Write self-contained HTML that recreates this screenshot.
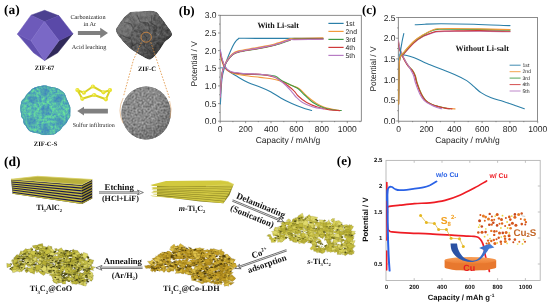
<!DOCTYPE html>
<html lang="en"><head><meta charset="utf-8"><title>Figure</title>
<style>html,body{margin:0;padding:0;background:#fff;}body{width:550px;height:306px;overflow:hidden;position:relative;}svg{position:absolute;left:0;top:0;display:block;}text{text-rendering:geometricPrecision;}</style>
</head><body>
<svg width="550" height="306" viewBox="0 0 550 306">
<defs>
<filter id="rock" x="0" y="0" width="100%" height="100%" color-interpolation-filters="sRGB">
<feTurbulence type="fractalNoise" baseFrequency="0.3" numOctaves="3" seed="4" result="n"/>
<feColorMatrix in="n" type="matrix" values="1 0 0 0 0  1 0 0 0 0  1 0 0 0 0  0 0 0 0 1" result="g"/>
<feComposite in="g" in2="SourceGraphic" operator="arithmetic" k1="0" k2="0.3" k3="1.0" k4="-0.15" result="bl"/>
<feComposite in="bl" in2="SourceGraphic" operator="in"/>
</filter>
<filter id="sem" x="0" y="0" width="100%" height="100%" color-interpolation-filters="sRGB">
<feTurbulence type="fractalNoise" baseFrequency="0.5" numOctaves="3" seed="9" result="n"/>
<feColorMatrix in="n" type="matrix" values="0.5 0 0 0 0.29  0.5 0 0 0 0.29  0.5 0 0 0 0.29  0 0 0 0 1" result="g"/>
<feComposite in="g" in2="SourceGraphic" operator="in"/>
</filter>
<filter id="ball" x="0" y="0" width="100%" height="100%" color-interpolation-filters="sRGB">
<feTurbulence type="fractalNoise" baseFrequency="0.38" numOctaves="3" seed="12" result="n"/>
<feColorMatrix in="n" type="matrix" values="0.25 0 0 0 0.22  0.55 0 0 0 0.46  -0.25 0 0 0 0.80  0 0 0 0 1" result="g"/>
<feComposite in="g" in2="SourceGraphic" operator="in"/>
</filter>
<filter id="bl1" x="-30%" y="-30%" width="160%" height="160%"><feGaussianBlur stdDeviation="1"/></filter>
<clipPath id="cpB"><rect x="220.1" y="15.3" width="141.2" height="105.9"/></clipPath>
<clipPath id="cpC"><rect x="398.3" y="17.3" width="139.7" height="103.7"/></clipPath>
<clipPath id="cpE"><rect x="386" y="160.4" width="154" height="120.1"/></clipPath>
<radialGradient id="ballsh" cx="0.45" cy="0.4" r="0.6"><stop offset="0.6" stop-color="#000" stop-opacity="0"/><stop offset="1" stop-color="#103050" stop-opacity="0.35"/></radialGradient>
<linearGradient id="cuTop" x1="0" y1="0" x2="0" y2="1"><stop offset="0" stop-color="#f7a05a"/><stop offset="1" stop-color="#ee7f33"/></linearGradient>
</defs>
<rect width="550" height="306" fill="#fff"/>
<text x="4.0" y="14.3" font-family='"Liberation Serif", serif' font-size="13.4" font-weight="bold" text-anchor="start" fill="#000" >(a)</text>
<polygon points="59.0,40.7 73.0,33.7 57.7,52.8 44.6,60.5" fill="#30295a" stroke="#30295a" stroke-width="0.5" stroke-linejoin="round"/>
<polygon points="17.4,34.1 31.0,40.7 44.6,60.5 33.5,52.8" fill="#604fae" stroke="#604fae" stroke-width="0.5" stroke-linejoin="round"/>
<polygon points="31.0,15.2 44.6,10.3 59.0,15.8 44.4,21.5" fill="#4c4190" stroke="#4c4190" stroke-width="0.5" stroke-linejoin="round"/>
<polygon points="44.4,21.5 59.0,15.8 73.0,33.7 59.0,40.7" fill="#5a49a8" stroke="#5a49a8" stroke-width="0.5" stroke-linejoin="round"/>
<polygon points="31.0,15.2 44.4,21.5 31.0,40.7 17.4,34.1" fill="#6d5aba" stroke="#6d5aba" stroke-width="0.5" stroke-linejoin="round"/>
<polygon points="44.4,21.5 59.0,40.7 44.6,60.5 31.0,40.7" fill="#7a68c6" stroke="#7a68c6" stroke-width="0.5" stroke-linejoin="round"/>
<text x="44.6" y="70.3" font-family='"Liberation Serif", serif' font-size="6.5" font-weight="bold" text-anchor="middle" fill="#111" >ZIF-67</text>
<text x="88" y="18.6" font-family='"Liberation Serif", serif' font-size="6.2" font-weight="normal" text-anchor="middle" fill="#222" >Carbonization</text>
<text x="89.8" y="26.2" font-family='"Liberation Serif", serif' font-size="6.2" font-weight="normal" text-anchor="middle" fill="#222" >in Ar</text>
<polygon points="77.9,30.9 100.2,30.9 100.2,27.7 108.0,33.0 100.2,38.3 100.2,35.1 77.9,35.1" fill="#7f7f7f" />
<text x="89" y="48.6" font-family='"Liberation Serif", serif' font-size="6.2" font-weight="normal" text-anchor="middle" fill="#222" >Acid leaching</text>
<linearGradient id="rkg" x1="0" y1="0" x2="1" y2="1"><stop offset="0" stop-color="#787878"/><stop offset="0.45" stop-color="#5c5c5c"/><stop offset="1" stop-color="#3e3e3e"/></linearGradient>
<clipPath id="cpRk"><path d="M130.3,12.0 C132.8,11.8 138.1,11.3 143.0,11.2 C147.9,11.1 151.4,10.1 155.0,11.4 C158.6,12.7 158.6,14.7 161.0,17.5 C163.4,20.3 164.6,22.2 166.8,25.4 C169.0,28.6 171.5,31.1 172.0,33.6 C172.5,36.1 170.9,36.4 169.5,38.0 C168.1,39.6 166.8,39.7 165.0,41.8 C163.2,43.9 162.3,45.9 160.5,48.5 C158.7,51.1 157.5,52.7 155.9,54.6 C154.3,56.5 154.0,57.0 152.5,58.0 C151.0,59.0 150.9,59.9 148.6,59.4 C146.3,58.9 144.3,57.4 141.0,55.5 C137.7,53.6 135.1,52.2 132.1,50.0 C129.1,47.8 128.2,46.7 126.0,44.5 C123.8,42.3 123.1,41.8 121.1,39.1 C119.1,36.4 116.5,33.7 116.0,30.9 C115.5,28.1 117.3,27.2 118.5,25.0 C119.7,22.8 120.5,21.8 122.0,19.9 C123.5,18.0 124.3,17.1 126.0,15.5 C127.7,13.9 129.4,12.7 130.3,12.0 Z"/></clipPath>
<g filter="url(#rock)">
<path d="M130.3,12.0 C132.8,11.8 138.1,11.3 143.0,11.2 C147.9,11.1 151.4,10.1 155.0,11.4 C158.6,12.7 158.6,14.7 161.0,17.5 C163.4,20.3 164.6,22.2 166.8,25.4 C169.0,28.6 171.5,31.1 172.0,33.6 C172.5,36.1 170.9,36.4 169.5,38.0 C168.1,39.6 166.8,39.7 165.0,41.8 C163.2,43.9 162.3,45.9 160.5,48.5 C158.7,51.1 157.5,52.7 155.9,54.6 C154.3,56.5 154.0,57.0 152.5,58.0 C151.0,59.0 150.9,59.9 148.6,59.4 C146.3,58.9 144.3,57.4 141.0,55.5 C137.7,53.6 135.1,52.2 132.1,50.0 C129.1,47.8 128.2,46.7 126.0,44.5 C123.8,42.3 123.1,41.8 121.1,39.1 C119.1,36.4 116.5,33.7 116.0,30.9 C115.5,28.1 117.3,27.2 118.5,25.0 C119.7,22.8 120.5,21.8 122.0,19.9 C123.5,18.0 124.3,17.1 126.0,15.5 C127.7,13.9 129.4,12.7 130.3,12.0 Z" fill="url(#rkg)"/>
</g>
<g clip-path="url(#cpRk)">
<polygon points="130.0,12.0 156.0,11.0 152.0,21.0 136.0,24.0" fill="#8a8a8a" opacity="0.35"/>
<polygon points="116.0,31.0 126.0,16.0 134.0,25.0 128.0,38.0" fill="#909090" opacity="0.3"/>
<polygon points="160.0,40.0 172.0,34.0 156.0,56.0 149.0,60.0 150.0,50.0" fill="#222" opacity="0.3"/>
<path d="M124,22 l7,2 l3,6 l7,1 M137,15 l3,7 l8,1 l2,7 M152,15 l-1,8 l6,4 l-2,8 M163,27 l-3,8 M123,36 l8,3 l2,7 M142,32 l5,6 l-3,8 l6,5 M151,42 l7,-2 M131,47 l6,-4 l5,3" stroke="#2a2a2a" stroke-width="0.7" fill="none" opacity="0.7"/>
<path d="M122,27 l6,-7 M133,29 l6,2 M146,19 l4,5 M139,40 l3,6 M155,32 l4,3 M135,50 l6,3" stroke="#8c8c8c" stroke-width="0.7" fill="none" opacity="0.6"/>
</g>
<ellipse cx="146.2" cy="37.2" rx="5.2" ry="5" fill="none" stroke="#d98a3e" stroke-width="0.8"/>
<path d="M141.4,42.6 L133.4,60 L123.6,96 M150.8,42.2 L169.6,98.5" stroke="#e0903c" stroke-width="0.8" stroke-dasharray="1.6 1.4" fill="none"/>
<rect x="137.5" y="65.5" width="19" height="6.4" fill="#fff"/>
<text x="147" y="71.0" font-family='"Liberation Serif", serif' font-size="6.7" font-weight="bold" text-anchor="middle" fill="#111" >ZIF-C</text>
<ellipse cx="146.1" cy="113" rx="24.7" ry="26.4" fill="#858585"/>
<ellipse cx="146.1" cy="113" rx="24.7" ry="26.4" fill="#fff" filter="url(#sem)"/>
<radialGradient id="semsh" cx="0.35" cy="0.3" r="0.8"><stop offset="0.5" stop-color="#000" stop-opacity="0"/><stop offset="1" stop-color="#000" stop-opacity="0.22"/></radialGradient>
<ellipse cx="146.1" cy="113" rx="24.7" ry="26.4" fill="url(#semsh)"/>
<path d="M123.2,98 A24.7,26.4 0 0 0 123,123" stroke="#d9a066" stroke-width="0.7" fill="none" opacity="0.8"/>
<path d="M169.6,101 A24.7,26.4 0 0 1 170,118" stroke="#d9a066" stroke-width="0.7" fill="none" opacity="0.8"/>
<clipPath id="cpBall"><path d="M70.3,110.4 C70.3,110.9 70.3,112.6 70.2,113.7 C70.2,114.8 70.4,116.0 70.0,117.0 C69.6,118.0 68.6,118.9 68.1,119.8 C67.5,120.8 67.2,121.8 66.6,122.7 C66.1,123.6 65.2,124.4 64.5,125.1 C63.8,125.9 62.9,126.5 62.2,127.3 C61.5,128.1 61.1,129.3 60.4,130.0 C59.6,130.8 58.6,131.2 57.7,131.8 C56.8,132.5 56.0,133.4 55.0,133.9 C54.0,134.3 52.9,134.4 51.8,134.5 C50.7,134.7 49.6,134.8 48.5,134.8 C47.4,134.9 46.4,134.9 45.3,134.9 C44.2,134.9 43.1,135.1 42.1,134.8 C41.0,134.6 40.1,133.9 39.1,133.6 C38.1,133.3 37.0,133.2 35.9,133.0 C34.9,132.8 33.7,132.7 32.6,132.3 C31.6,132.0 30.4,131.6 29.5,131.0 C28.6,130.3 27.9,129.3 27.3,128.4 C26.6,127.5 26.1,126.5 25.5,125.6 C24.9,124.7 23.9,124.0 23.6,122.9 C23.2,121.9 23.6,120.6 23.2,119.5 C22.9,118.5 21.8,117.8 21.4,116.8 C21.0,115.8 21.1,114.7 21.0,113.6 C20.8,112.5 20.6,111.5 20.5,110.4 C20.4,109.3 20.3,108.2 20.4,107.1 C20.5,106.0 20.7,104.9 20.9,103.9 C21.2,102.8 21.3,101.6 21.8,100.7 C22.4,99.7 23.6,99.1 24.3,98.3 C24.9,97.4 25.3,96.4 25.9,95.5 C26.6,94.7 27.2,93.8 28.0,93.1 C28.7,92.3 29.5,91.6 30.3,90.9 C31.1,90.1 31.8,89.1 32.7,88.5 C33.6,87.9 34.7,87.6 35.7,87.3 C36.7,86.9 37.8,86.5 38.8,86.3 C39.9,86.0 41.0,85.9 42.1,85.8 C43.1,85.7 44.2,85.5 45.3,85.6 C46.4,85.7 47.4,86.1 48.5,86.4 C49.5,86.6 50.5,86.9 51.6,87.0 C52.6,87.2 53.7,87.2 54.8,87.5 C55.8,87.7 56.9,88.1 57.9,88.6 C58.9,89.1 59.8,89.8 60.7,90.3 C61.6,90.9 62.7,91.4 63.5,92.2 C64.3,93.0 64.9,94.0 65.3,95.0 C65.8,96.0 66.0,97.2 66.4,98.2 C66.8,99.2 67.4,100.1 67.8,101.1 C68.3,102.0 68.5,103.1 68.9,104.1 C69.3,105.1 70.0,106.1 70.2,107.1 C70.4,108.2 70.3,109.9 70.3,110.4 Z"/></clipPath>
<path d="M70.3,110.4 C70.3,110.9 70.3,112.6 70.2,113.7 C70.2,114.8 70.4,116.0 70.0,117.0 C69.6,118.0 68.6,118.9 68.1,119.8 C67.5,120.8 67.2,121.8 66.6,122.7 C66.1,123.6 65.2,124.4 64.5,125.1 C63.8,125.9 62.9,126.5 62.2,127.3 C61.5,128.1 61.1,129.3 60.4,130.0 C59.6,130.8 58.6,131.2 57.7,131.8 C56.8,132.5 56.0,133.4 55.0,133.9 C54.0,134.3 52.9,134.4 51.8,134.5 C50.7,134.7 49.6,134.8 48.5,134.8 C47.4,134.9 46.4,134.9 45.3,134.9 C44.2,134.9 43.1,135.1 42.1,134.8 C41.0,134.6 40.1,133.9 39.1,133.6 C38.1,133.3 37.0,133.2 35.9,133.0 C34.9,132.8 33.7,132.7 32.6,132.3 C31.6,132.0 30.4,131.6 29.5,131.0 C28.6,130.3 27.9,129.3 27.3,128.4 C26.6,127.5 26.1,126.5 25.5,125.6 C24.9,124.7 23.9,124.0 23.6,122.9 C23.2,121.9 23.6,120.6 23.2,119.5 C22.9,118.5 21.8,117.8 21.4,116.8 C21.0,115.8 21.1,114.7 21.0,113.6 C20.8,112.5 20.6,111.5 20.5,110.4 C20.4,109.3 20.3,108.2 20.4,107.1 C20.5,106.0 20.7,104.9 20.9,103.9 C21.2,102.8 21.3,101.6 21.8,100.7 C22.4,99.7 23.6,99.1 24.3,98.3 C24.9,97.4 25.3,96.4 25.9,95.5 C26.6,94.7 27.2,93.8 28.0,93.1 C28.7,92.3 29.5,91.6 30.3,90.9 C31.1,90.1 31.8,89.1 32.7,88.5 C33.6,87.9 34.7,87.6 35.7,87.3 C36.7,86.9 37.8,86.5 38.8,86.3 C39.9,86.0 41.0,85.9 42.1,85.8 C43.1,85.7 44.2,85.5 45.3,85.6 C46.4,85.7 47.4,86.1 48.5,86.4 C49.5,86.6 50.5,86.9 51.6,87.0 C52.6,87.2 53.7,87.2 54.8,87.5 C55.8,87.7 56.9,88.1 57.9,88.6 C58.9,89.1 59.8,89.8 60.7,90.3 C61.6,90.9 62.7,91.4 63.5,92.2 C64.3,93.0 64.9,94.0 65.3,95.0 C65.8,96.0 66.0,97.2 66.4,98.2 C66.8,99.2 67.4,100.1 67.8,101.1 C68.3,102.0 68.5,103.1 68.9,104.1 C69.3,105.1 70.0,106.1 70.2,107.1 C70.4,108.2 70.3,109.9 70.3,110.4 Z" fill="#4a8fb4"/>
<path d="M70.3,110.4 C70.3,110.9 70.3,112.6 70.2,113.7 C70.2,114.8 70.4,116.0 70.0,117.0 C69.6,118.0 68.6,118.9 68.1,119.8 C67.5,120.8 67.2,121.8 66.6,122.7 C66.1,123.6 65.2,124.4 64.5,125.1 C63.8,125.9 62.9,126.5 62.2,127.3 C61.5,128.1 61.1,129.3 60.4,130.0 C59.6,130.8 58.6,131.2 57.7,131.8 C56.8,132.5 56.0,133.4 55.0,133.9 C54.0,134.3 52.9,134.4 51.8,134.5 C50.7,134.7 49.6,134.8 48.5,134.8 C47.4,134.9 46.4,134.9 45.3,134.9 C44.2,134.9 43.1,135.1 42.1,134.8 C41.0,134.6 40.1,133.9 39.1,133.6 C38.1,133.3 37.0,133.2 35.9,133.0 C34.9,132.8 33.7,132.7 32.6,132.3 C31.6,132.0 30.4,131.6 29.5,131.0 C28.6,130.3 27.9,129.3 27.3,128.4 C26.6,127.5 26.1,126.5 25.5,125.6 C24.9,124.7 23.9,124.0 23.6,122.9 C23.2,121.9 23.6,120.6 23.2,119.5 C22.9,118.5 21.8,117.8 21.4,116.8 C21.0,115.8 21.1,114.7 21.0,113.6 C20.8,112.5 20.6,111.5 20.5,110.4 C20.4,109.3 20.3,108.2 20.4,107.1 C20.5,106.0 20.7,104.9 20.9,103.9 C21.2,102.8 21.3,101.6 21.8,100.7 C22.4,99.7 23.6,99.1 24.3,98.3 C24.9,97.4 25.3,96.4 25.9,95.5 C26.6,94.7 27.2,93.8 28.0,93.1 C28.7,92.3 29.5,91.6 30.3,90.9 C31.1,90.1 31.8,89.1 32.7,88.5 C33.6,87.9 34.7,87.6 35.7,87.3 C36.7,86.9 37.8,86.5 38.8,86.3 C39.9,86.0 41.0,85.9 42.1,85.8 C43.1,85.7 44.2,85.5 45.3,85.6 C46.4,85.7 47.4,86.1 48.5,86.4 C49.5,86.6 50.5,86.9 51.6,87.0 C52.6,87.2 53.7,87.2 54.8,87.5 C55.8,87.7 56.9,88.1 57.9,88.6 C58.9,89.1 59.8,89.8 60.7,90.3 C61.6,90.9 62.7,91.4 63.5,92.2 C64.3,93.0 64.9,94.0 65.3,95.0 C65.8,96.0 66.0,97.2 66.4,98.2 C66.8,99.2 67.4,100.1 67.8,101.1 C68.3,102.0 68.5,103.1 68.9,104.1 C69.3,105.1 70.0,106.1 70.2,107.1 C70.4,108.2 70.3,109.9 70.3,110.4 Z" fill="#fff" filter="url(#ball)"/>
<circle cx="45.3" cy="110.4" r="4.6" fill="#3a74c0" opacity="0.5" filter="url(#bl1)"/>
<circle cx="32.5" cy="99" r="4.6" fill="#3a74c0" opacity="0.5" filter="url(#bl1)"/>
<circle cx="58" cy="99" r="4.6" fill="#3a74c0" opacity="0.5" filter="url(#bl1)"/>
<circle cx="31" cy="121.5" r="4.6" fill="#3a74c0" opacity="0.5" filter="url(#bl1)"/>
<circle cx="59.5" cy="122" r="4.6" fill="#3a74c0" opacity="0.5" filter="url(#bl1)"/>
<circle cx="45.3" cy="129.5" r="4.6" fill="#3a74c0" opacity="0.5" filter="url(#bl1)"/>
<circle cx="45" cy="92" r="4.6" fill="#3a74c0" opacity="0.5" filter="url(#bl1)"/>
<path d="M70.3,110.4 C70.3,110.9 70.3,112.6 70.2,113.7 C70.2,114.8 70.4,116.0 70.0,117.0 C69.6,118.0 68.6,118.9 68.1,119.8 C67.5,120.8 67.2,121.8 66.6,122.7 C66.1,123.6 65.2,124.4 64.5,125.1 C63.8,125.9 62.9,126.5 62.2,127.3 C61.5,128.1 61.1,129.3 60.4,130.0 C59.6,130.8 58.6,131.2 57.7,131.8 C56.8,132.5 56.0,133.4 55.0,133.9 C54.0,134.3 52.9,134.4 51.8,134.5 C50.7,134.7 49.6,134.8 48.5,134.8 C47.4,134.9 46.4,134.9 45.3,134.9 C44.2,134.9 43.1,135.1 42.1,134.8 C41.0,134.6 40.1,133.9 39.1,133.6 C38.1,133.3 37.0,133.2 35.9,133.0 C34.9,132.8 33.7,132.7 32.6,132.3 C31.6,132.0 30.4,131.6 29.5,131.0 C28.6,130.3 27.9,129.3 27.3,128.4 C26.6,127.5 26.1,126.5 25.5,125.6 C24.9,124.7 23.9,124.0 23.6,122.9 C23.2,121.9 23.6,120.6 23.2,119.5 C22.9,118.5 21.8,117.8 21.4,116.8 C21.0,115.8 21.1,114.7 21.0,113.6 C20.8,112.5 20.6,111.5 20.5,110.4 C20.4,109.3 20.3,108.2 20.4,107.1 C20.5,106.0 20.7,104.9 20.9,103.9 C21.2,102.8 21.3,101.6 21.8,100.7 C22.4,99.7 23.6,99.1 24.3,98.3 C24.9,97.4 25.3,96.4 25.9,95.5 C26.6,94.7 27.2,93.8 28.0,93.1 C28.7,92.3 29.5,91.6 30.3,90.9 C31.1,90.1 31.8,89.1 32.7,88.5 C33.6,87.9 34.7,87.6 35.7,87.3 C36.7,86.9 37.8,86.5 38.8,86.3 C39.9,86.0 41.0,85.9 42.1,85.8 C43.1,85.7 44.2,85.5 45.3,85.6 C46.4,85.7 47.4,86.1 48.5,86.4 C49.5,86.6 50.5,86.9 51.6,87.0 C52.6,87.2 53.7,87.2 54.8,87.5 C55.8,87.7 56.9,88.1 57.9,88.6 C58.9,89.1 59.8,89.8 60.7,90.3 C61.6,90.9 62.7,91.4 63.5,92.2 C64.3,93.0 64.9,94.0 65.3,95.0 C65.8,96.0 66.0,97.2 66.4,98.2 C66.8,99.2 67.4,100.1 67.8,101.1 C68.3,102.0 68.5,103.1 68.9,104.1 C69.3,105.1 70.0,106.1 70.2,107.1 C70.4,108.2 70.3,109.9 70.3,110.4 Z" fill="none" stroke="#3f7cb8" stroke-width="2.2" opacity="0.45" clip-path="url(#cpBall)"/>
<text x="45.6" y="145.6" font-family='"Liberation Serif", serif' font-size="6.5" font-weight="bold" text-anchor="middle" fill="#111" >ZIF-C-S</text>
<path d="M77.4,90.1 L83.9,92.7 L92.9,86.5 L103.5,92.3 L110,90.1 L105.9,99.3 L94.2,95 L82.3,98.8 Z" fill="none" stroke="#d8d126" stroke-width="2.0" stroke-linejoin="round"/>
<circle cx="77.4" cy="90.1" r="2.1" fill="#e9e332"/>
<circle cx="76.9" cy="89.6" r="0.7" fill="#f7f48a"/>
<circle cx="83.9" cy="92.7" r="2.1" fill="#e9e332"/>
<circle cx="83.4" cy="92.2" r="0.7" fill="#f7f48a"/>
<circle cx="92.9" cy="86.5" r="2.1" fill="#e9e332"/>
<circle cx="92.4" cy="86.0" r="0.7" fill="#f7f48a"/>
<circle cx="103.5" cy="92.3" r="2.1" fill="#e9e332"/>
<circle cx="103.0" cy="91.8" r="0.7" fill="#f7f48a"/>
<circle cx="110" cy="90.1" r="2.1" fill="#e9e332"/>
<circle cx="109.5" cy="89.6" r="0.7" fill="#f7f48a"/>
<circle cx="105.9" cy="99.3" r="2.1" fill="#e9e332"/>
<circle cx="105.4" cy="98.8" r="0.7" fill="#f7f48a"/>
<circle cx="94.2" cy="95" r="2.1" fill="#e9e332"/>
<circle cx="93.7" cy="94.5" r="0.7" fill="#f7f48a"/>
<circle cx="82.3" cy="98.8" r="2.1" fill="#e9e332"/>
<circle cx="81.8" cy="98.3" r="0.7" fill="#f7f48a"/>
<polygon points="107.9,108.8 84.0,108.8 84.0,106.8 77.2,111.1 84.0,115.4 84.0,113.4 107.9,113.4" fill="#808080" />
<text x="93.8" y="126.8" font-family='"Liberation Serif", serif' font-size="6.0" font-weight="normal" text-anchor="middle" fill="#222" >Sulfur infiltration</text>
<text x="178.8" y="15.0" font-family='"Liberation Serif", serif' font-size="13" font-weight="bold" text-anchor="start" fill="#000" >(b)</text>
<rect x="220.1" y="15.3" width="141.20000000000002" height="105.9" fill="none" stroke="#6e6e6e" stroke-width="0.8"/>
<text x="216.6" y="124.2" font-family='"Liberation Sans", sans-serif' font-size="8.5" font-weight="normal" text-anchor="end" fill="#222" >0.0</text>
<text x="216.6" y="106.55000000000001" font-family='"Liberation Sans", sans-serif' font-size="8.5" font-weight="normal" text-anchor="end" fill="#222" >0.5</text>
<text x="216.6" y="88.9" font-family='"Liberation Sans", sans-serif' font-size="8.5" font-weight="normal" text-anchor="end" fill="#222" >1.0</text>
<text x="216.6" y="71.25" font-family='"Liberation Sans", sans-serif' font-size="8.5" font-weight="normal" text-anchor="end" fill="#222" >1.5</text>
<text x="216.6" y="53.60000000000001" font-family='"Liberation Sans", sans-serif' font-size="8.5" font-weight="normal" text-anchor="end" fill="#222" >2.0</text>
<text x="216.6" y="35.95" font-family='"Liberation Sans", sans-serif' font-size="8.5" font-weight="normal" text-anchor="end" fill="#222" >2.5</text>
<text x="216.6" y="18.30000000000001" font-family='"Liberation Sans", sans-serif' font-size="8.5" font-weight="normal" text-anchor="end" fill="#222" >3.0</text>
<text x="220.2" y="132.2" font-family='"Liberation Sans", sans-serif' font-size="8.5" font-weight="normal" text-anchor="middle" fill="#222" >0</text>
<text x="245.61999999999998" y="132.2" font-family='"Liberation Sans", sans-serif' font-size="8.5" font-weight="normal" text-anchor="middle" fill="#222" >200</text>
<text x="271.03999999999996" y="132.2" font-family='"Liberation Sans", sans-serif' font-size="8.5" font-weight="normal" text-anchor="middle" fill="#222" >400</text>
<text x="296.46" y="132.2" font-family='"Liberation Sans", sans-serif' font-size="8.5" font-weight="normal" text-anchor="middle" fill="#222" >600</text>
<text x="321.88" y="132.2" font-family='"Liberation Sans", sans-serif' font-size="8.5" font-weight="normal" text-anchor="middle" fill="#222" >800</text>
<text x="347.29999999999995" y="132.2" font-family='"Liberation Sans", sans-serif' font-size="8.5" font-weight="normal" text-anchor="middle" fill="#222" >1000</text>
<path d="M220.2,121.2 h-2.2 M220.2,112.4 h-1.2 M220.2,103.6 h-2.2 M220.2,94.7 h-1.2 M220.2,85.9 h-2.2 M220.2,77.1 h-1.2 M220.2,68.2 h-2.2 M220.2,59.4 h-1.2 M220.2,50.6 h-2.2 M220.2,41.8 h-1.2 M220.2,33.0 h-2.2 M220.2,24.1 h-1.2 M220.2,15.3 h-2.2 M220.2,121 v2.2 M232.9,121 v1.2 M245.6,121 v2.2 M258.3,121 v1.2 M271.0,121 v2.2 M283.8,121 v1.2 M296.5,121 v2.2 M309.2,121 v1.2 M321.9,121 v2.2 M334.6,121 v1.2 M347.3,121 v2.2 M360.0,121 v1.2" stroke="#6e6e6e" stroke-width="0.7" fill="none"/>
<text x="288" y="142.5" font-family='"Liberation Sans", sans-serif' font-size="8.5" font-weight="normal" text-anchor="middle" fill="#222" >Capacity / mAh/g</text>
<text x="0" y="0" font-family='"Liberation Sans", sans-serif' font-size="8.4" font-weight="normal" text-anchor="middle" fill="#222" transform="translate(197.4,63.8) rotate(-90)">Potential / V</text>
<text x="278.2" y="27.6" font-family='"Liberation Serif", serif' font-size="8.0" font-weight="bold" text-anchor="middle" fill="#111" >With Li-salt</text>
<g clip-path="url(#cpB)">
<path d="M220.3,50.0 C220.6,51.7 221.2,57.2 222.0,60.0 C222.8,62.8 223.5,64.5 224.8,66.5 C226.1,68.5 227.8,70.2 230.0,72.0 C232.2,73.8 235.0,75.2 238.0,77.0 C241.0,78.8 244.3,80.8 248.0,82.5 C251.7,84.2 256.2,85.5 260.0,87.0 C263.8,88.5 267.1,89.9 270.6,91.8 C274.1,93.7 277.7,96.2 281.2,98.2 C284.7,100.2 288.2,101.9 291.8,103.5 C295.4,105.1 299.2,106.6 302.5,107.8 C305.8,109.0 310.1,110.0 311.6,110.5" fill="none" stroke="#2b7fa8" stroke-width="1.1" stroke-linecap="round" stroke-linejoin="round" />
<path d="M220.3,54.0 C220.4,54.7 220.6,56.5 221.0,58.0 C221.4,59.5 221.9,61.3 222.5,63.0 C223.1,64.7 223.4,66.4 224.8,68.0 C226.2,69.6 227.4,71.2 230.7,72.5 C234.0,73.8 239.5,74.7 244.4,75.5 C249.3,76.3 255.3,76.8 260.0,77.4 C264.7,78.0 269.2,78.4 272.7,79.0 C276.2,79.6 278.0,80.1 281.2,81.2 C284.4,82.3 288.8,84.2 291.8,85.5 C294.8,86.8 296.8,87.0 299.3,88.7 C301.8,90.5 304.1,93.7 306.7,96.0 C309.3,98.3 312.1,100.6 315.2,102.5 C318.2,104.4 320.9,106.2 325.0,107.5 C329.1,108.8 337.2,110.0 339.6,110.5" fill="none" stroke="#f29a3c" stroke-width="1.1" stroke-linecap="round" stroke-linejoin="round" />
<path d="M220.3,52.0 C220.4,52.7 220.2,53.5 221.0,56.0 C221.8,58.5 223.2,64.3 224.8,67.0 C226.4,69.7 227.4,70.8 230.7,72.0 C234.0,73.2 239.5,73.6 244.4,74.0 C249.3,74.4 254.9,74.3 260.0,74.6 C265.1,74.9 271.4,75.1 274.9,76.0 C278.4,76.9 278.4,78.6 281.2,80.2 C284.0,81.8 289.0,84.1 291.8,85.5 C294.6,86.9 296.1,87.1 298.2,88.7 C300.3,90.3 302.1,92.7 304.6,95.0 C307.1,97.3 309.8,100.4 313.0,102.5 C316.2,104.6 320.1,106.5 323.7,107.8 C327.2,109.0 331.4,109.5 334.3,110.0 C337.2,110.5 340.1,110.4 341.3,110.5" fill="none" stroke="#3f9b45" stroke-width="1.1" stroke-linecap="round" stroke-linejoin="round" />
<path d="M220.3,52.0 C220.4,52.7 220.2,53.5 221.0,56.0 C221.8,58.5 223.2,64.3 224.8,67.0 C226.4,69.7 227.4,70.8 230.7,72.0 C234.0,73.2 239.5,73.6 244.4,74.0 C249.3,74.4 255.1,73.9 260.0,74.4 C264.9,74.9 270.5,75.9 274.0,77.0 C277.5,78.1 278.9,79.8 281.2,81.2 C283.5,82.6 285.5,83.9 287.6,85.5 C289.7,87.1 292.2,89.0 294.0,90.8 C295.8,92.5 296.1,94.0 298.2,96.0 C300.3,98.0 303.5,100.7 306.7,102.5 C309.9,104.3 313.4,105.8 317.3,107.0 C321.2,108.2 326.3,109.4 330.0,110.0 C333.7,110.6 338.0,110.5 339.6,110.6" fill="none" stroke="#cf3a3a" stroke-width="1.1" stroke-linecap="round" stroke-linejoin="round" />
<path d="M220.3,50.0 C220.6,51.3 221.2,55.2 222.0,58.0 C222.8,60.8 223.4,64.2 224.8,66.5 C226.2,68.8 227.4,70.3 230.7,71.5 C234.0,72.7 239.5,73.0 244.4,73.5 C249.3,74.0 255.4,73.8 260.0,74.2 C264.6,74.6 268.7,75.0 272.0,76.0 C275.3,77.0 277.7,78.9 280.0,80.5 C282.3,82.1 284.0,83.6 286.0,85.5 C288.0,87.4 290.1,89.9 291.8,91.8 C293.5,93.7 294.2,95.2 296.0,97.0 C297.8,98.8 299.7,100.8 302.5,102.5 C305.3,104.2 309.5,105.9 313.0,107.0 C316.5,108.1 321.9,108.7 323.7,109.0" fill="none" stroke="#b77cc4" stroke-width="1.1" stroke-linecap="round" stroke-linejoin="round" />
<path d="M220.4,104.0 C220.6,100.7 221.1,89.0 221.5,84.0 C221.9,79.0 221.9,78.0 222.8,74.0 C223.7,70.0 225.2,64.9 226.8,60.3 C228.4,55.7 231.1,49.8 232.6,46.6 C234.1,43.4 235.0,42.3 236.0,41.0 C237.0,39.7 237.7,39.2 238.5,38.7 C239.3,38.2 237.4,38.2 241.0,38.2 C244.6,38.2 246.3,38.4 260.0,38.4 C273.7,38.4 312.5,38.3 323.0,38.3" fill="none" stroke="#2b7fa8" stroke-width="1.1" stroke-linecap="round" stroke-linejoin="round" />
<path d="M220.2,67.8 h3.6" stroke="#2b7fa8" stroke-width="0.8"/>
<path d="M220.4,97.0 C220.5,95.0 220.5,89.5 220.9,85.0 C221.3,80.5 221.8,74.1 222.8,70.0 C223.8,65.9 225.2,63.2 226.8,60.5 C228.4,57.8 230.7,55.2 232.6,53.6 C234.5,52.0 234.9,51.8 238.5,50.9 C242.1,50.0 249.6,48.9 254.0,48.1 C258.4,47.3 261.7,46.8 265.0,46.1 C268.3,45.5 270.7,45.0 273.8,44.2 C276.9,43.4 280.9,42.0 283.6,41.1 C286.3,40.2 288.1,39.4 290.0,38.9 C291.9,38.4 289.5,38.5 295.0,38.3 C300.5,38.1 318.3,38.0 323.0,37.9" fill="none" stroke="#f29a3c" stroke-width="1.1" stroke-linecap="round" stroke-linejoin="round" />
<path d="M220.4,97.0 C220.5,95.0 220.5,89.5 220.9,85.0 C221.3,80.5 221.8,73.9 222.8,70.0 C223.8,66.1 225.2,64.3 226.8,61.8 C228.4,59.3 230.7,56.5 232.6,54.9 C234.5,53.3 234.9,53.1 238.5,52.2 C242.1,51.3 249.6,50.2 254.0,49.4 C258.4,48.6 261.7,48.0 265.0,47.4 C268.3,46.8 270.7,46.3 273.8,45.5 C276.9,44.7 280.9,43.3 283.6,42.4 C286.3,41.5 288.1,40.8 290.0,40.2 C291.9,39.7 289.5,39.3 295.0,39.1 C300.5,38.8 318.3,38.8 323.0,38.7" fill="none" stroke="#3f9b45" stroke-width="1.1" stroke-linecap="round" stroke-linejoin="round" />
<path d="M220.4,97.0 C220.5,95.0 220.5,89.5 220.9,85.0 C221.3,80.5 221.8,73.9 222.8,70.0 C223.8,66.1 225.2,64.1 226.8,61.5 C228.4,58.9 230.7,56.2 232.6,54.6 C234.5,53.0 234.9,52.8 238.5,51.9 C242.1,51.0 249.6,49.9 254.0,49.1 C258.4,48.3 261.7,47.8 265.0,47.1 C268.3,46.5 270.7,46.0 273.8,45.2 C276.9,44.4 280.9,43.0 283.6,42.1 C286.3,41.2 288.1,40.4 290.0,39.9 C291.9,39.5 289.5,39.5 295.0,39.4 C300.5,39.2 318.3,39.1 323.0,39.0" fill="none" stroke="#cf3a3a" stroke-width="1.1" stroke-linecap="round" stroke-linejoin="round" />
<path d="M220.4,97.0 C220.5,95.0 220.5,89.5 220.9,85.0 C221.3,80.5 221.8,74.0 222.8,70.0 C223.8,66.0 225.2,63.9 226.8,61.3 C228.4,58.7 230.7,56.0 232.6,54.4 C234.5,52.8 234.9,52.6 238.5,51.7 C242.1,50.8 249.6,49.7 254.0,48.9 C258.4,48.1 261.7,47.5 265.0,46.9 C268.3,46.2 270.7,45.8 273.8,45.0 C276.9,44.2 280.9,42.8 283.6,41.9 C286.3,41.0 288.1,40.1 290.0,39.7 C291.9,39.3 289.5,39.8 295.0,39.7 C300.5,39.6 318.3,39.4 323.0,39.3" fill="none" stroke="#b77cc4" stroke-width="1.1" stroke-linecap="round" stroke-linejoin="round" />
</g>
<path d="M328.4,23.4 h15.2" stroke="#2b7fa8" stroke-width="1.2"/>
<text x="345.6" y="25.799999999999997" font-family='"Liberation Sans", sans-serif' font-size="6.8" font-weight="normal" text-anchor="start" fill="#222" >1st</text>
<path d="M328.4,31.4 h15.2" stroke="#f29a3c" stroke-width="1.2"/>
<text x="345.6" y="33.8" font-family='"Liberation Sans", sans-serif' font-size="6.8" font-weight="normal" text-anchor="start" fill="#222" >2nd</text>
<path d="M328.4,39.4 h15.2" stroke="#3f9b45" stroke-width="1.2"/>
<text x="345.6" y="41.8" font-family='"Liberation Sans", sans-serif' font-size="6.8" font-weight="normal" text-anchor="start" fill="#222" >3rd</text>
<path d="M328.4,47.4 h15.2" stroke="#cf3a3a" stroke-width="1.2"/>
<text x="345.6" y="49.8" font-family='"Liberation Sans", sans-serif' font-size="6.8" font-weight="normal" text-anchor="start" fill="#222" >4th</text>
<path d="M328.4,55.4 h15.2" stroke="#b77cc4" stroke-width="1.2"/>
<text x="345.6" y="57.8" font-family='"Liberation Sans", sans-serif' font-size="6.8" font-weight="normal" text-anchor="start" fill="#222" >5th</text>
<text x="362" y="14.2" font-family='"Liberation Serif", serif' font-size="13" font-weight="bold" text-anchor="start" fill="#000" >(c)</text>
<rect x="398.3" y="17.4" width="139.09999999999997" height="103.80000000000001" fill="none" stroke="#6e6e6e" stroke-width="0.8"/>
<text x="395.6" y="124.0" font-family='"Liberation Sans", sans-serif' font-size="8.5" font-weight="normal" text-anchor="end" fill="#222" >0.0</text>
<text x="395.6" y="103.3" font-family='"Liberation Sans", sans-serif' font-size="8.5" font-weight="normal" text-anchor="end" fill="#222" >0.5</text>
<text x="395.6" y="82.6" font-family='"Liberation Sans", sans-serif' font-size="8.5" font-weight="normal" text-anchor="end" fill="#222" >1.0</text>
<text x="395.6" y="61.900000000000006" font-family='"Liberation Sans", sans-serif' font-size="8.5" font-weight="normal" text-anchor="end" fill="#222" >1.5</text>
<text x="395.6" y="41.2" font-family='"Liberation Sans", sans-serif' font-size="8.5" font-weight="normal" text-anchor="end" fill="#222" >2.0</text>
<text x="395.6" y="20.5" font-family='"Liberation Sans", sans-serif' font-size="8.5" font-weight="normal" text-anchor="end" fill="#222" >2.5</text>
<text x="398.7" y="132.2" font-family='"Liberation Sans", sans-serif' font-size="8.5" font-weight="normal" text-anchor="middle" fill="#222" >0</text>
<text x="426.5" y="132.2" font-family='"Liberation Sans", sans-serif' font-size="8.5" font-weight="normal" text-anchor="middle" fill="#222" >200</text>
<text x="454.3" y="132.2" font-family='"Liberation Sans", sans-serif' font-size="8.5" font-weight="normal" text-anchor="middle" fill="#222" >400</text>
<text x="482.1" y="132.2" font-family='"Liberation Sans", sans-serif' font-size="8.5" font-weight="normal" text-anchor="middle" fill="#222" >600</text>
<text x="509.9" y="132.2" font-family='"Liberation Sans", sans-serif' font-size="8.5" font-weight="normal" text-anchor="middle" fill="#222" >800</text>
<text x="537.7" y="132.2" font-family='"Liberation Sans", sans-serif' font-size="8.5" font-weight="normal" text-anchor="middle" fill="#222" >1000</text>
<path d="M398.3,121.0 h-2.2 M398.3,110.7 h-1.2 M398.3,100.3 h-2.2 M398.3,90.0 h-1.2 M398.3,79.6 h-2.2 M398.3,69.2 h-1.2 M398.3,58.9 h-2.2 M398.3,48.5 h-1.2 M398.3,38.2 h-2.2 M398.3,27.9 h-1.2 M398.3,17.5 h-2.2 M398.7,121 v2.2 M412.6,121 v1.2 M426.5,121 v2.2 M440.4,121 v1.2 M454.3,121 v2.2 M468.2,121 v1.2 M482.1,121 v2.2 M496.0,121 v1.2 M509.9,121 v2.2 M523.8,121 v1.2 M537.7,121 v2.2" stroke="#6e6e6e" stroke-width="0.7" fill="none"/>
<text x="467.5" y="142.5" font-family='"Liberation Sans", sans-serif' font-size="8.5" font-weight="normal" text-anchor="middle" fill="#222" >Capacity / mAh/g</text>
<text x="0" y="0" font-family='"Liberation Sans", sans-serif' font-size="8.4" font-weight="normal" text-anchor="middle" fill="#222" transform="translate(375.8,69) rotate(-90)">Potential / V</text>
<text x="482.2" y="50.6" font-family='"Liberation Serif", serif' font-size="8.15" font-weight="bold" text-anchor="middle" fill="#111" >Without Li-salt</text>
<g clip-path="url(#cpC)">
<path d="M398.6,60.0 C398.8,59.5 399.4,57.8 400.0,57.0 C400.6,56.2 401.5,55.3 402.5,55.0 C403.5,54.7 403.9,54.8 405.8,55.2 C407.7,55.6 410.7,56.4 413.6,57.5 C416.5,58.6 420.7,60.8 423.4,62.0 C426.1,63.2 426.9,63.4 430.0,64.7 C433.1,66.0 438.1,68.0 442.2,69.6 C446.3,71.2 450.4,72.7 454.5,74.5 C458.6,76.3 463.4,78.6 466.7,80.6 C469.9,82.6 471.6,84.7 474.0,86.7 C476.4,88.8 478.5,91.1 481.4,92.9 C484.3,94.8 487.5,96.4 491.2,97.8 C494.9,99.2 499.4,100.1 503.5,101.4 C507.6,102.7 512.2,104.6 515.7,105.8 C519.2,107.0 522.9,108.3 524.3,108.8" fill="none" stroke="#2b7fa8" stroke-width="1.1" stroke-linecap="round" stroke-linejoin="round" />
<path d="M398.3,55 h4" stroke="#2b7fa8" stroke-width="0.8"/>
<path d="M398.4,40.5 C398.6,41.8 399.4,46.2 399.9,48.3 C400.4,50.4 400.9,51.5 401.5,53.0 C402.1,54.5 402.9,56.0 403.6,57.5 C404.4,59.0 405.1,60.5 406.0,62.0 C406.9,63.5 407.7,64.9 408.9,66.4 C410.1,67.9 412.0,69.4 413.1,71.0 C414.2,72.6 414.8,73.9 415.5,76.0 C416.2,78.1 416.4,80.4 417.4,83.4 C418.4,86.4 420.2,91.2 421.6,94.0 C423.0,96.8 424.0,98.5 425.8,100.3 C427.6,102.1 429.7,103.5 432.2,104.6 C434.7,105.7 438.2,106.4 440.7,107.0 C443.2,107.6 444.6,107.9 447.0,108.2 C449.4,108.5 453.7,108.8 455.0,108.9" fill="none" stroke="#f29a3c" stroke-width="1.1" stroke-linecap="round" stroke-linejoin="round" />
<path d="M398.1,40.5 C398.3,41.8 399.1,46.2 399.6,48.3 C400.1,50.4 400.6,51.5 401.2,53.0 C401.8,54.5 402.6,56.0 403.3,57.5 C404.1,59.0 404.8,60.5 405.7,62.0 C406.6,63.5 407.4,64.9 408.6,66.4 C409.8,67.9 411.7,69.4 412.8,71.0 C413.9,72.6 414.5,73.9 415.2,76.0 C415.9,78.1 416.1,80.4 417.1,83.4 C418.1,86.4 419.9,91.2 421.3,94.0 C422.7,96.8 423.7,98.5 425.5,100.3 C427.3,102.1 429.4,103.5 431.9,104.6 C434.4,105.7 438.0,106.4 440.4,107.0 C442.8,107.6 444.4,108.0 446.0,108.3 C447.6,108.6 449.3,108.6 450.0,108.7" fill="none" stroke="#3f9b45" stroke-width="1.1" stroke-linecap="round" stroke-linejoin="round" />
<path d="M397.8,40.5 C398.0,41.8 398.8,46.2 399.3,48.3 C399.8,50.4 400.3,51.5 400.9,53.0 C401.5,54.5 402.2,56.0 403.0,57.5 C403.8,59.0 404.5,60.5 405.4,62.0 C406.3,63.5 407.1,64.9 408.3,66.4 C409.5,67.9 411.4,69.4 412.5,71.0 C413.6,72.6 414.2,73.9 414.9,76.0 C415.6,78.1 415.8,80.4 416.8,83.4 C417.8,86.4 419.6,91.2 421.0,94.0 C422.4,96.8 423.4,98.5 425.2,100.3 C427.0,102.1 429.1,103.5 431.6,104.6 C434.1,105.7 437.7,106.4 440.1,107.0 C442.5,107.6 444.0,108.1 446.0,108.4 C448.0,108.7 451.0,108.8 452.0,108.9" fill="none" stroke="#cf3a3a" stroke-width="1.1" stroke-linecap="round" stroke-linejoin="round" />
<path d="M398.4,40.5 C398.6,41.8 399.4,46.2 399.9,48.3 C400.4,50.4 400.9,51.5 401.5,53.0 C402.1,54.5 402.9,56.0 403.6,57.5 C404.4,59.0 405.1,60.5 406.0,62.0 C406.9,63.5 408.0,64.9 408.9,66.4 C409.8,67.9 410.5,69.4 411.3,71.0 C412.1,72.6 413.0,73.9 413.7,76.0 C414.4,78.1 414.6,80.4 415.6,83.4 C416.6,86.4 418.4,91.2 419.8,94.0 C421.2,96.8 422.2,98.5 424.0,100.3 C425.8,102.1 428.2,103.4 430.4,104.6 C432.6,105.8 435.1,106.9 437.0,107.6 C438.9,108.3 441.0,108.6 441.8,108.8" fill="none" stroke="#b77cc4" stroke-width="1.1" stroke-linecap="round" stroke-linejoin="round" />
<path d="M415.2,24.8 C416.8,24.7 420.7,24.4 425.0,24.2 C429.3,24.0 432.8,23.8 441.0,23.8 C449.2,23.8 462.5,23.9 474.0,24.2 C485.5,24.5 504.0,25.4 510.0,25.6" fill="none" stroke="#2b7fa8" stroke-width="1.1" stroke-linecap="round" stroke-linejoin="round" />
<path d="M398.5,100.0 C398.6,95.6 398.6,81.3 398.9,73.8 C399.1,66.3 399.5,60.3 400.0,55.0 C400.5,49.7 401.4,45.6 402.0,42.0 C402.6,38.4 403.5,35.0 403.8,33.6" fill="none" stroke="#2b7fa8" stroke-width="1.1" stroke-linecap="round" stroke-linejoin="round" />
<path d="M398.6,104.0 C398.7,99.2 398.8,82.7 399.0,75.0 C399.2,67.3 399.1,61.5 399.9,58.0 C400.7,54.5 401.5,56.5 403.8,54.0 C406.1,51.6 410.3,46.2 413.6,43.2 C416.9,40.3 420.1,38.1 423.4,36.3 C426.7,34.6 430.6,33.4 433.2,32.6 C435.8,31.8 436.2,31.8 439.0,31.6 C441.8,31.4 443.2,31.5 450.0,31.4 C456.8,31.3 470.0,31.0 480.0,31.1 C490.0,31.2 505.0,31.7 510.0,31.8" fill="none" stroke="#b77cc4" stroke-width="1.1" stroke-linecap="round" stroke-linejoin="round" />
<path d="M398.6,104.0 C398.7,99.2 398.8,82.7 399.0,75.0 C399.2,67.3 399.1,61.5 399.9,58.0 C400.7,54.5 401.5,56.3 403.8,53.8 C406.1,51.3 410.3,46.0 413.6,43.0 C416.9,40.0 420.1,37.9 423.4,36.1 C426.7,34.3 430.6,33.0 433.2,32.2 C435.8,31.4 436.2,31.4 439.0,31.2 C441.8,31.0 443.2,31.1 450.0,31.0 C456.8,30.9 470.0,30.5 480.0,30.6 C490.0,30.6 505.0,31.2 510.0,31.3" fill="none" stroke="#cf3a3a" stroke-width="1.1" stroke-linecap="round" stroke-linejoin="round" />
<path d="M398.6,104.0 C398.7,99.2 398.8,82.7 399.0,75.0 C399.2,67.3 399.1,61.7 399.9,58.0 C400.7,54.3 401.5,55.3 403.8,52.7 C406.1,50.0 410.3,44.8 413.6,41.9 C416.9,38.9 420.1,36.9 423.4,35.0 C426.7,33.0 430.6,31.2 433.2,30.3 C435.8,29.4 436.2,29.5 439.0,29.3 C441.8,29.1 443.2,29.1 450.0,29.1 C456.8,29.1 470.0,29.2 480.0,29.4 C490.0,29.6 505.0,30.0 510.0,30.1" fill="none" stroke="#3f9b45" stroke-width="1.1" stroke-linecap="round" stroke-linejoin="round" />
<path d="M398.6,104.0 C398.7,99.2 398.8,82.7 399.0,75.0 C399.2,67.3 399.1,61.8 399.9,58.0 C400.7,54.2 401.5,55.0 403.8,52.3 C406.1,49.5 410.3,44.5 413.6,41.5 C416.9,38.5 420.1,36.6 423.4,34.6 C426.7,32.6 430.6,30.7 433.2,29.7 C435.8,28.7 436.2,28.9 439.0,28.7 C441.8,28.5 443.2,28.5 450.0,28.5 C456.8,28.5 470.0,28.7 480.0,28.9 C490.0,29.1 505.0,29.5 510.0,29.6" fill="none" stroke="#f29a3c" stroke-width="1.1" stroke-linecap="round" stroke-linejoin="round" />
</g>
<path d="M509.6,65.2 h11" stroke="#2b7fa8" stroke-width="0.9"/>
<text x="522.5" y="67.0" font-family='"Liberation Sans", sans-serif' font-size="5.1" font-weight="normal" text-anchor="start" fill="#222" >1st</text>
<path d="M509.6,71.7 h11" stroke="#f29a3c" stroke-width="0.9"/>
<text x="522.5" y="73.45" font-family='"Liberation Sans", sans-serif' font-size="5.1" font-weight="normal" text-anchor="start" fill="#222" >2nd</text>
<path d="M509.6,78.1 h11" stroke="#3f9b45" stroke-width="0.9"/>
<text x="522.5" y="79.9" font-family='"Liberation Sans", sans-serif' font-size="5.1" font-weight="normal" text-anchor="start" fill="#222" >3rd</text>
<path d="M509.6,84.6 h11" stroke="#cf3a3a" stroke-width="0.9"/>
<text x="522.5" y="86.35000000000001" font-family='"Liberation Sans", sans-serif' font-size="5.1" font-weight="normal" text-anchor="start" fill="#222" >4th</text>
<path d="M509.6,91.0 h11" stroke="#b77cc4" stroke-width="0.9"/>
<text x="522.5" y="92.8" font-family='"Liberation Sans", sans-serif' font-size="5.1" font-weight="normal" text-anchor="start" fill="#222" >5th</text>
<text x="3.9" y="165.6" font-family='"Liberation Serif", serif' font-size="13.6" font-weight="bold" text-anchor="start" fill="#000" >(d)</text>
<polygon points="11.0,179.3 81.9,184.7 81.9,203.9 12.6,193.7" fill="#1b1a50" />
<polygon points="81.9,184.7 92.2,179.5 92.2,198.5 81.9,203.9" fill="#131238" />
<polygon points="11.2,180.3 81.9,186.1 81.9,187.5 11.2,181.4" fill="#c9bf3e" />
<polygon points="81.9,186.1 92.2,180.9 92.2,182.2 81.9,187.5" fill="#9d922a" />
<polygon points="11.4,182.4 81.9,188.8 81.9,190.2 11.4,183.4" fill="#c9bf3e" />
<polygon points="81.9,188.8 92.2,183.6 92.2,185.0 81.9,190.2" fill="#9d922a" />
<polygon points="11.6,184.5 81.9,191.6 81.9,193.0 11.6,185.5" fill="#c9bf3e" />
<polygon points="81.9,191.6 92.2,186.3 92.2,187.7 81.9,193.0" fill="#9d922a" />
<polygon points="11.9,186.5 81.9,194.3 81.9,195.7 11.9,187.5" fill="#c9bf3e" />
<polygon points="81.9,194.3 92.2,189.0 92.2,190.4 81.9,195.7" fill="#9d922a" />
<polygon points="12.1,188.6 81.9,197.1 81.9,198.4 12.1,189.6" fill="#c9bf3e" />
<polygon points="81.9,197.1 92.2,191.7 92.2,193.1 81.9,198.4" fill="#9d922a" />
<polygon points="12.3,190.6 81.9,199.8 81.9,201.2 12.3,191.7" fill="#c9bf3e" />
<polygon points="81.9,199.8 92.2,194.5 92.2,195.8 81.9,201.2" fill="#9d922a" />
<polygon points="12.5,192.7 81.9,202.6 81.9,203.9 12.5,193.7" fill="#c9bf3e" />
<polygon points="81.9,202.6 92.2,197.2 92.2,198.5 81.9,203.9" fill="#9d922a" />
<polygon points="11.0,179.3 37.7,176.3 92.2,179.5 81.9,184.7" fill="#b9b03c" stroke="#d9d162" stroke-width="0.8" stroke-linejoin="round"/>
<text x="49.1" y="210.0" font-family='"Liberation Serif", serif' font-size="8.0" font-weight="bold" text-anchor="middle" fill="#111" >Ti<tspan font-size="4.6" dy="2.4">3</tspan><tspan dy="-2.4" font-size="1">&#8203;</tspan>AlC<tspan font-size="4.6" dy="2.4">2</tspan><tspan dy="-2.4" font-size="1">&#8203;</tspan></text>
<text x="119.2" y="189.6" font-family='"Liberation Serif", serif' font-size="8.8" font-weight="bold" text-anchor="middle" fill="#111" >Etching</text>
<path d="M99,191.8 H140 M99,193.2 H140" stroke="#4a4a4a" stroke-width="0.7" fill="none"/>
<path d="M137.4,190.1 L143.4,192.5 L137.4,194.9 L139.2,192.5 Z" fill="#fff" stroke="#4a4a4a" stroke-width="0.7"/>
<text x="120.4" y="201.0" font-family='"Liberation Serif", serif' font-size="8.1" font-weight="bold" text-anchor="middle" fill="#111" >(HCl+LiF)</text>
<polygon points="157.0,184.6 190.0,182.0 224.0,181.2 233.6,184.4 229.5,195.0 223.4,203.2 200.0,201.4 157.0,196.0" fill="#8a8324" />
<path d="M151.4,185.2 Q185,184.4 233.2,184.8 L232.7,186.7 Q185,185.8 153.4,186.0 Z" fill="#cfc642"/>
<path d="M151.2,186.9 Q185,186.3 231.9,187.2 L231.4,189.0 Q185,187.7 153.2,187.7 Z" fill="#cfc642"/>
<path d="M151.5,188.1 Q185,188.2 230.6,189.5 L230.1,191.4 Q185,189.6 153.5,188.9 Z" fill="#cfc642"/>
<path d="M151.3,189.4 Q185,190.1 229.3,191.9 L228.8,193.8 Q185,191.5 153.3,190.2 Z" fill="#cfc642"/>
<path d="M152.0,191.1 Q185,191.9 227.9,194.3 L227.4,196.1 Q185,193.4 154.0,191.9 Z" fill="#cfc642"/>
<path d="M150.8,192.2 Q185,193.8 226.6,196.7 L226.1,198.5 Q185,195.3 152.8,193.0 Z" fill="#cfc642"/>
<path d="M152.0,193.7 Q185,195.7 225.3,199.0 L224.8,200.9 Q185,197.2 154.0,194.5 Z" fill="#cfc642"/>
<path d="M150.1,195.5 Q185,197.6 224.0,201.4 L223.5,203.2 Q185,199.0 152.1,196.3 Z" fill="#cfc642"/>
<polygon points="150.4,185.0 166.0,181.0 190.0,180.8 220.0,180.4 228.0,181.6 234.0,184.4 206.0,186.0 170.0,186.6 153.0,186.0" fill="#d2c93e" />
<path d="M220,180.4 L228,181.6 L234,184.4 L206,186" stroke="#e6de6c" stroke-width="0.5" fill="none"/>
<text x="192" y="210.6" font-family='"Liberation Serif", serif' font-size="8.0" font-weight="bold" text-anchor="middle" fill="#111" ><tspan font-style="italic">m</tspan>-Ti<tspan font-size="4.6" dy="2.4">3</tspan><tspan dy="-2.4" font-size="1">&#8203;</tspan>C<tspan font-size="4.6" dy="2.4">2</tspan><tspan dy="-2.4" font-size="1">&#8203;</tspan></text>
<g transform="translate(232.4,200.5) rotate(22.5)">
<text x="28.2" y="-3.6" font-family='"Liberation Serif", serif' font-size="9.0" font-weight="bold" text-anchor="middle" fill="#111" >Delaminating</text>
<path d="M0,-0.7 H51.5 M0,0.7 H51.5" stroke="#4a4a4a" stroke-width="0.7" fill="none"/>
<path d="M49.4,-2.4 L55.4,0 L49.4,2.4 L51.2,0 Z" fill="#fff" stroke="#4a4a4a" stroke-width="0.7"/>
<text x="24.4" y="9.9" font-family='"Liberation Serif", serif' font-size="9.0" font-weight="bold" text-anchor="middle" fill="#111" >(Sonication)</text>
</g>
<g stroke="#6a661c" stroke-width="0.25" stroke-opacity="0.6" stroke-linejoin="round">
<g fill="#cfc747"><polygon points="347.4,244.4 349.7,241.7 351.4,243.6"/><polygon points="282.3,229.1 285.4,229.3 286.9,231.3 283.4,232.4"/><polygon points="282.3,228.8 280.2,227.3 281.3,224.5 285.9,225.0"/><polygon points="347.7,238.4 345.2,236.8 348.3,234.8 348.9,237.2"/><polygon points="326.1,237.3 324.9,235.5 330.1,233.6 330.3,236.0"/><polygon points="280.3,235.9 285.2,237.4 280.2,238.2"/><polygon points="298.5,232.0 298.2,234.6 294.7,233.8 295.7,231.2"/><polygon points="331.5,240.8 330.6,243.2 327.9,242.3"/><polygon points="330.2,242.2 331.0,244.1 329.1,246.6 326.7,242.0"/><polygon points="293.0,220.8 297.6,221.1 294.9,225.1"/><polygon points="292.9,233.7 289.2,234.0 286.7,231.3 289.4,230.4"/><polygon points="334.6,240.4 337.0,240.3 338.1,241.8 334.6,242.1"/><polygon points="307.2,226.5 307.0,225.5 308.2,223.6 310.1,224.9 309.7,226.7"/><polygon points="301.9,220.4 296.5,222.1 294.9,217.6"/><polygon points="311.1,237.0 312.2,238.0 311.2,239.9 309.6,239.0 309.4,236.9"/><polygon points="325.1,250.6 324.7,252.3 320.3,251.9 317.0,249.4 321.9,247.6"/><polygon points="299.5,226.0 303.4,227.2 303.3,230.0 300.4,230.4"/><polygon points="320.4,226.9 319.9,230.3 316.8,227.6"/><polygon points="345.1,253.4 344.7,250.1 350.6,249.2 350.5,252.7"/><polygon points="281.5,235.6 278.4,235.6 278.7,233.8 279.6,232.9 281.4,234.7"/><polygon points="276.7,239.8 275.3,242.2 271.4,242.5 270.7,239.5 274.6,237.5"/><polygon points="270.7,239.6 269.1,239.0 269.7,237.5 272.5,237.9 273.1,239.6"/><polygon points="302.9,236.1 300.5,236.6 299.9,233.7 302.1,233.4"/><polygon points="273.6,236.2 272.3,233.6 275.4,233.0 276.9,235.1"/><polygon points="314.9,240.9 312.2,236.7 316.7,237.0"/><polygon points="292.3,228.5 296.9,228.8 297.0,231.4 293.3,231.4"/><polygon points="299.1,230.5 295.0,233.1 294.4,228.7"/><polygon points="338.5,236.0 335.9,234.8 339.5,233.0"/><polygon points="341.4,251.4 344.3,250.5 345.2,252.8 344.2,254.1 341.1,252.8"/><polygon points="341.3,245.1 341.2,246.9 338.3,249.4 335.0,247.0 337.5,245.3"/><polygon points="307.7,241.1 309.3,238.3 311.7,238.3 313.8,239.9 311.9,242.3"/><polygon points="282.4,221.7 285.7,222.4 285.4,223.5 282.8,224.8 282.1,223.5"/><polygon points="326.6,227.8 330.9,228.4 331.9,229.9 327.5,229.7"/><polygon points="352.9,235.5 349.6,234.2 351.7,232.1 355.7,233.5"/><polygon points="342.2,239.2 340.1,238.4 341.3,236.0 342.4,236.7"/><polygon points="320.4,227.0 324.3,226.5 325.2,228.9 320.6,231.2"/><polygon points="354.2,237.5 351.3,240.3 349.9,238.8 351.5,236.8"/><polygon points="299.9,222.4 300.6,218.0 307.5,220.4 302.6,224.7"/><polygon points="336.2,222.0 337.9,225.5 335.1,227.9 332.2,224.9"/><polygon points="318.6,233.4 313.3,231.6 312.2,229.7 317.4,229.5"/></g>
<g fill="#c3bb3c"><polygon points="324.0,232.1 325.0,234.3 324.2,237.4 320.2,237.6 319.9,233.8"/><polygon points="278.3,233.0 280.6,230.1 284.8,231.5 285.5,234.7"/><polygon points="296.9,231.8 293.2,232.3 291.9,231.1 295.4,230.4"/><polygon points="290.9,225.1 289.9,225.8 285.6,224.0 286.5,221.8 290.8,222.5"/><polygon points="348.2,253.2 347.9,249.8 353.6,250.2 352.8,253.5"/><polygon points="333.9,243.8 334.6,246.5 328.0,246.6 330.2,242.2"/><polygon points="296.8,242.6 292.7,242.1 292.2,238.8 294.9,237.6"/><polygon points="351.9,232.8 352.6,234.5 350.2,235.4 349.2,233.3"/><polygon points="314.5,221.3 312.7,217.8 316.2,218.9"/><polygon points="269.0,236.5 266.7,236.0 268.8,234.5 270.7,234.5"/><polygon points="321.9,225.1 323.6,223.5 326.8,221.7 327.3,223.5 326.3,225.6"/><polygon points="306.5,235.4 305.7,238.2 302.5,235.9"/><polygon points="306.5,216.6 309.3,217.0 309.2,218.1 307.8,218.8 306.4,218.5"/><polygon points="340.9,234.8 342.3,236.9 338.3,237.4 336.5,235.4"/><polygon points="297.2,220.3 291.1,223.0 293.4,218.8"/><polygon points="280.1,232.3 275.5,232.5 276.9,230.1 279.6,230.5"/><polygon points="339.2,232.7 341.4,231.4 345.5,233.4 342.6,235.3"/><polygon points="317.7,245.6 320.2,245.8 318.4,248.0"/><polygon points="287.9,227.1 293.2,230.4 287.3,231.8"/><polygon points="305.9,229.9 302.9,224.9 308.9,224.4"/><polygon points="343.4,252.4 345.5,251.2 348.9,251.2 349.0,253.1 345.9,253.9"/><polygon points="332.8,223.6 333.4,226.7 331.1,227.0"/><polygon points="348.1,232.7 345.5,230.3 346.9,228.5 350.3,227.2 351.4,232.3"/><polygon points="344.0,229.5 346.7,232.0 341.1,233.4"/><polygon points="329.7,226.4 325.0,227.5 327.2,221.7 331.9,223.0"/><polygon points="348.8,246.2 349.3,243.5 353.6,245.1 354.3,247.2"/><polygon points="330.6,229.7 331.2,232.0 326.7,233.2 323.4,230.3 325.3,230.0"/><polygon points="303.7,237.8 305.6,233.9 308.3,237.9"/><polygon points="311.8,231.7 310.7,234.2 308.2,233.3 306.1,232.5 309.8,229.8"/><polygon points="325.3,246.2 328.9,248.4 324.0,249.8"/><polygon points="323.4,229.7 319.0,229.6 321.5,227.5"/><polygon points="336.2,229.3 333.0,228.7 336.2,227.3 337.7,228.4"/><polygon points="321.3,228.0 321.2,226.5 322.6,225.6 324.5,226.1 323.5,228.4"/><polygon points="347.5,254.1 344.4,255.3 345.4,252.2"/><polygon points="316.9,249.3 319.8,248.7 322.3,249.7 319.9,252.6"/><polygon points="295.0,221.7 294.3,223.8 292.6,222.3"/><polygon points="342.9,246.9 342.3,243.8 346.2,244.7 346.7,245.7 345.5,247.8"/><polygon points="326.9,226.7 326.6,229.8 322.0,227.5"/><polygon points="337.4,251.8 340.7,251.2 341.2,254.5 337.1,254.4"/><polygon points="300.5,229.9 298.8,229.1 298.9,226.5 302.7,226.6 303.0,230.1"/></g>
<g fill="#d9d25a"><polygon points="334.9,234.5 331.9,236.6 330.5,235.2 330.7,233.2 332.9,233.2"/><polygon points="337.4,229.5 340.5,229.5 340.0,231.3"/><polygon points="340.5,245.0 343.6,246.9 342.9,248.9 338.3,248.7"/><polygon points="311.6,220.6 314.0,220.9 315.7,222.3 312.6,224.5 311.9,223.3"/><polygon points="301.7,226.1 303.8,222.3 307.9,224.5 308.3,227.0 304.6,227.8"/><polygon points="297.5,224.3 297.3,220.8 298.6,218.6 303.2,221.7"/><polygon points="342.9,249.4 346.2,248.5 350.6,249.7 347.2,253.8"/><polygon points="329.5,232.7 330.3,231.2 331.1,230.8 333.7,232.5 333.1,233.7"/><polygon points="278.9,232.8 278.9,229.8 284.4,230.6 283.1,233.6"/><polygon points="315.4,235.8 309.5,234.7 314.0,231.1"/><polygon points="326.5,223.8 322.3,226.8 319.6,223.6 323.5,220.6"/><polygon points="321.5,247.8 320.1,252.8 315.8,249.5"/><polygon points="348.7,226.8 345.1,227.7 343.5,225.1 347.2,224.6"/><polygon points="292.4,222.9 295.9,221.2 296.6,224.0 294.3,225.0"/><polygon points="304.3,244.0 299.3,242.1 303.3,238.1 307.2,239.6"/><polygon points="292.5,224.2 294.9,225.6 293.3,228.4 289.2,227.0"/><polygon points="345.4,232.6 343.1,233.2 343.0,231.6 344.7,231.2"/><polygon points="308.0,236.4 309.4,239.8 306.7,241.8 303.9,240.3 305.3,237.6"/><polygon points="320.3,239.6 316.2,240.4 315.5,239.0 319.1,238.5"/><polygon points="302.2,237.8 304.2,239.0 302.9,239.8 300.3,238.8"/><polygon points="329.6,249.4 332.4,249.5 333.8,251.4 330.1,252.5 328.9,251.2"/><polygon points="274.4,232.8 273.8,229.4 275.9,230.0"/><polygon points="298.3,226.8 295.6,227.0 296.0,224.8 298.4,224.3 300.3,225.2"/><polygon points="334.6,227.9 340.8,225.3 339.0,229.4"/><polygon points="337.9,244.4 335.2,245.2 335.6,242.6"/><polygon points="345.3,246.8 341.1,246.5 343.5,244.6"/><polygon points="290.0,223.5 294.3,223.3 291.5,225.5"/><polygon points="322.6,231.8 321.0,235.3 318.8,235.7 319.5,232.4"/><polygon points="286.5,235.7 283.7,231.8 286.9,230.8 288.7,233.6"/><polygon points="324.9,225.7 329.3,224.0 332.7,225.6 327.8,229.0"/><polygon points="332.3,237.0 329.5,239.2 329.0,236.0 332.0,235.7"/><polygon points="315.4,229.6 310.0,228.8 309.5,227.4 313.2,223.6 315.0,226.1"/><polygon points="328.6,249.0 330.1,246.0 336.0,247.3 332.8,251.6 331.2,251.3"/><polygon points="287.4,226.3 288.1,225.7 291.1,224.9 292.4,226.3 289.5,228.3"/><polygon points="320.5,227.4 319.2,229.9 316.0,229.9 316.3,228.0"/><polygon points="334.8,218.5 334.4,219.8 332.6,221.8 331.0,220.0 332.3,218.5"/><polygon points="303.5,224.0 300.5,219.9 305.0,219.3 308.4,221.0"/><polygon points="277.5,236.8 280.9,235.1 280.1,239.6 276.5,239.2"/><polygon points="354.5,245.3 348.3,244.6 350.5,241.3"/><polygon points="302.2,216.1 300.2,220.4 295.8,220.1 297.1,217.2 298.3,216.8"/><polygon points="336.4,249.2 335.8,250.9 332.9,251.2 334.2,248.0"/></g>
<g fill="#b8b035"><polygon points="317.5,236.8 317.5,238.9 314.2,238.1 314.8,237.4"/><polygon points="339.1,246.3 337.2,247.2 335.9,246.3 339.2,244.8"/><polygon points="319.4,221.9 323.4,221.5 321.4,225.1"/><polygon points="337.7,243.7 341.8,245.9 338.0,246.9"/><polygon points="291.9,236.9 295.4,238.1 291.7,240.5 289.7,240.8 289.4,237.8"/><polygon points="317.3,227.3 318.4,226.0 320.4,225.8 322.2,227.0 320.3,228.6"/><polygon points="336.3,237.4 343.8,239.8 337.6,240.4"/><polygon points="289.1,234.4 287.2,234.1 288.2,231.0 291.5,231.7 290.6,233.9"/><polygon points="337.2,233.8 340.5,234.1 342.2,234.9 339.5,237.9 337.5,237.4"/><polygon points="322.2,253.7 317.7,251.1 318.9,249.5 324.4,250.0"/><polygon points="348.9,254.6 348.1,253.1 349.8,252.5 351.7,253.7 352.3,254.7"/><polygon points="297.2,218.0 297.3,220.7 295.3,221.2 292.2,220.5 292.9,219.1"/><polygon points="345.9,248.0 344.8,244.3 347.5,243.4 349.4,247.7"/><polygon points="283.3,227.6 285.0,226.7 288.9,229.6 282.5,230.7"/><polygon points="338.5,227.7 338.0,224.9 340.0,223.7 343.5,225.8 341.6,227.4"/><polygon points="304.8,229.7 307.2,229.6 308.0,231.1 304.0,231.6"/><polygon points="282.0,236.6 279.5,239.1 277.1,236.6 279.0,236.0"/><polygon points="320.1,246.8 321.3,250.0 318.3,248.1"/><polygon points="351.0,228.8 344.6,226.5 351.8,224.8"/><polygon points="332.1,220.6 334.7,220.9 333.3,223.5"/><polygon points="326.0,239.0 328.4,238.5 330.5,241.9 327.0,242.7"/><polygon points="311.6,227.7 309.6,229.6 307.7,228.4 308.6,226.3 310.4,226.5"/><polygon points="302.5,218.0 297.9,220.8 299.2,217.5"/><polygon points="346.4,243.7 343.7,243.2 344.8,240.4 346.5,240.1 346.6,242.3"/><polygon points="310.0,243.1 311.8,240.2 313.5,243.4"/><polygon points="350.2,240.5 346.8,239.4 349.5,238.2"/><polygon points="349.9,241.0 348.8,242.1 346.1,240.7 346.3,239.3"/><polygon points="305.4,227.0 311.5,226.5 311.9,227.7 309.3,231.7 308.0,231.9"/><polygon points="330.7,227.3 333.2,227.8 333.6,231.4 331.4,233.6 329.3,231.0"/><polygon points="296.8,219.7 300.7,220.6 299.6,222.8 296.7,222.9"/><polygon points="294.8,224.0 299.7,228.3 297.9,229.7 293.1,228.5 293.7,225.5"/><polygon points="348.9,251.1 347.0,252.2 343.3,250.1 344.2,249.0"/><polygon points="339.8,249.5 341.9,251.0 338.9,251.4 337.5,250.3"/><polygon points="340.4,230.9 345.2,232.5 341.9,234.5 337.9,234.9 338.5,230.8"/></g>
<g fill="#cbc244"><polygon points="329.1,249.2 332.8,249.2 333.3,250.8 330.8,251.2"/><polygon points="306.7,234.4 310.8,232.7 313.7,236.7 309.6,237.7"/><polygon points="319.7,239.8 321.0,240.0 321.4,242.4 317.7,241.9 316.9,241.2"/><polygon points="321.6,230.2 318.6,230.1 318.1,227.7 319.1,227.4"/><polygon points="305.5,242.6 302.7,240.4 308.3,237.8 308.8,239.7"/><polygon points="310.1,234.9 311.8,234.8 312.2,237.4 309.1,238.8 308.8,237.2"/><polygon points="325.7,238.0 326.3,233.2 332.4,233.6 329.5,237.9"/><polygon points="297.4,221.1 297.4,224.3 296.0,224.0 293.1,223.5 295.6,221.2"/><polygon points="310.6,223.6 315.0,225.1 312.7,227.6 310.0,225.4"/><polygon points="312.1,240.2 317.1,242.4 315.6,244.7 312.1,245.6"/><polygon points="315.5,237.2 309.1,237.5 308.2,234.4 313.2,232.2"/><polygon points="338.8,234.1 340.6,236.4 338.1,238.6 334.2,237.5 337.5,233.7"/><polygon points="284.1,234.5 283.4,232.4 285.0,231.7 286.2,232.9 285.1,235.0"/><polygon points="333.8,252.1 334.0,250.2 336.6,251.1 335.2,252.7"/><polygon points="348.2,242.3 347.1,247.1 343.1,244.8"/><polygon points="328.3,228.2 327.8,229.4 326.1,230.9 323.5,230.1 325.0,227.8"/><polygon points="348.5,227.8 349.0,224.6 353.7,226.4 351.6,229.9"/><polygon points="335.6,244.6 331.0,247.2 331.0,243.1"/><polygon points="320.9,247.9 325.5,249.9 324.6,251.9 320.2,249.6"/><polygon points="327.1,252.5 325.6,248.6 329.2,248.6"/><polygon points="317.7,233.7 320.0,233.8 321.4,235.1 321.5,236.6 318.8,236.1"/><polygon points="313.5,244.3 312.3,241.8 315.3,239.1 316.6,240.5"/><polygon points="336.3,249.0 335.4,249.6 332.0,248.4 333.9,247.5"/><polygon points="294.3,231.3 296.8,227.8 300.5,230.8 298.4,232.6"/><polygon points="339.2,240.1 335.4,239.6 334.6,236.6 337.0,236.9 339.4,238.5"/><polygon points="345.3,238.0 345.3,236.7 347.8,235.6 349.6,238.0"/><polygon points="323.8,226.3 323.4,229.4 320.6,227.9"/><polygon points="349.0,242.5 352.7,240.9 353.8,244.0 350.1,246.7"/><polygon points="333.6,230.7 330.6,231.3 331.4,228.7"/><polygon points="289.0,238.8 288.3,236.6 292.7,235.3 294.1,238.5"/><polygon points="314.3,245.2 312.4,245.0 314.7,241.5 316.9,243.1 316.7,246.4"/><polygon points="340.4,238.7 343.2,240.2 340.2,241.4 337.4,241.7 337.2,240.0"/><polygon points="323.5,247.0 324.6,249.3 322.2,249.0"/><polygon points="308.0,229.8 310.7,229.2 312.4,232.5 307.3,233.9"/><polygon points="305.6,239.3 306.7,241.8 303.2,242.6 301.7,240.5"/><polygon points="308.6,220.0 312.2,218.0 313.3,220.2 313.6,223.1 307.9,220.9"/><polygon points="313.8,245.5 316.0,245.9 316.1,247.4 313.9,247.9 312.9,246.1"/><polygon points="349.0,231.2 349.3,235.4 346.0,233.3"/></g>
<g fill="#e0da6c"><polygon points="304.3,222.1 300.9,223.0 300.9,220.5 303.3,221.4"/><polygon points="301.5,236.9 305.0,238.6 301.2,240.1 299.7,238.2"/><polygon points="298.1,240.4 295.7,242.0 295.5,240.0"/><polygon points="300.1,214.5 302.5,213.1 304.1,218.0 301.5,218.5"/><polygon points="307.8,222.4 308.2,225.1 306.6,227.2 302.7,224.3"/><polygon points="354.1,248.0 350.5,249.4 348.5,249.1 347.9,246.4 353.0,246.0"/><polygon points="341.3,244.6 339.4,248.0 337.9,247.5 337.2,245.3"/><polygon points="355.5,231.4 353.2,234.5 349.7,232.4 350.2,230.5"/><polygon points="277.8,229.7 279.5,231.2 277.6,233.3 275.7,231.7 275.2,230.1"/><polygon points="277.0,237.0 275.8,234.8 277.2,232.8 279.7,233.9 280.0,237.5"/><polygon points="288.9,236.8 286.2,235.8 289.6,232.3 291.4,235.7"/><polygon points="312.1,234.7 311.7,231.7 314.1,233.0"/><polygon points="292.6,236.7 291.6,233.5 296.7,235.1"/><polygon points="281.2,226.8 282.8,228.5 280.4,229.6 278.5,228.1 279.2,226.7"/><polygon points="295.6,222.5 299.4,219.6 300.7,223.4 296.0,226.0"/><polygon points="312.1,227.1 308.7,225.2 309.7,222.1 314.4,224.8"/><polygon points="344.8,226.9 348.9,227.2 348.2,228.2 346.9,229.3 345.6,229.5"/><polygon points="319.6,252.2 316.9,253.0 315.6,250.8 319.6,249.0"/><polygon points="332.4,234.8 334.4,235.6 333.5,238.7 329.5,237.7 328.0,235.6"/><polygon points="335.2,236.3 335.8,234.6 338.5,236.1 337.8,238.7 335.9,238.1"/><polygon points="349.6,241.0 355.2,240.5 354.2,243.1 351.0,245.6 349.6,242.9"/><polygon points="346.9,245.0 348.9,243.8 352.4,244.6 351.6,247.1 347.6,246.4"/><polygon points="302.5,242.6 298.9,243.7 297.4,240.3 302.0,240.4"/><polygon points="314.8,236.7 315.9,234.7 317.7,234.8 317.9,236.1 317.4,237.4"/><polygon points="314.0,244.4 316.2,242.5 317.0,243.7 315.5,245.2"/><polygon points="328.3,239.2 326.0,237.4 327.7,235.0 331.1,236.5"/><polygon points="325.8,232.3 328.3,231.6 328.8,233.0 329.1,234.2 327.0,233.8"/><polygon points="344.3,253.9 344.2,249.6 349.9,250.1"/><polygon points="348.6,246.5 346.5,249.1 343.2,245.9"/><polygon points="280.1,226.1 281.1,228.3 279.5,228.4 278.1,226.9"/><polygon points="287.1,221.4 289.8,221.1 289.6,223.2 287.7,222.9"/><polygon points="349.8,249.9 348.3,248.7 350.0,246.9 352.5,248.4"/><polygon points="332.6,234.2 329.5,233.7 329.7,232.4 331.4,232.1"/><polygon points="309.6,227.0 303.7,229.0 304.9,225.4"/><polygon points="297.6,221.4 296.6,218.1 298.7,218.3 300.2,219.8"/><polygon points="337.4,230.9 332.3,229.6 333.6,226.2 338.7,226.8"/><polygon points="334.2,220.0 331.7,221.8 330.7,220.7 331.3,219.6"/></g>
</g>
<g fill="#6f6c1e"><polygon points="353.0,239.6 350.6,238.0 353.0,237.5"/><polygon points="323.6,245.8 326.2,246.3 325.2,247.6"/><polygon points="275.6,239.1 274.3,237.8 275.7,237.0 278.1,238.0"/><polygon points="309.0,235.0 309.2,235.8 307.3,236.0 306.9,235.0 307.2,234.8"/><polygon points="345.8,244.0 348.0,243.1 348.2,244.4"/><polygon points="335.1,232.3 335.8,233.3 334.1,233.1"/><polygon points="310.1,240.3 310.8,241.4 308.8,241.4"/><polygon points="341.5,245.0 340.5,244.1 341.6,243.6 343.1,243.5 343.3,244.7"/><polygon points="288.0,237.5 285.8,238.7 285.8,236.8"/><polygon points="311.2,223.5 309.4,222.9 309.6,221.8 311.0,221.9 312.8,222.6"/><polygon points="335.5,250.6 336.4,249.8 338.3,250.4 336.1,250.9"/><polygon points="350.3,243.4 351.5,242.9 351.6,244.1 349.9,244.1"/><polygon points="344.6,228.4 343.1,227.5 344.6,226.9 345.4,228.2"/><polygon points="320.4,245.0 320.0,243.8 322.0,244.1"/><polygon points="329.7,235.3 328.6,235.8 328.0,235.2 328.4,234.8 330.0,234.6"/><polygon points="296.0,231.1 298.5,231.0 298.2,232.2 296.6,232.3"/><polygon points="329.0,247.5 329.2,249.1 327.9,248.1"/><polygon points="338.1,232.7 336.1,232.0 335.9,230.5 338.0,230.9"/><polygon points="303.8,222.9 301.8,222.8 303.1,221.9"/><polygon points="309.2,218.4 308.0,218.8 306.8,217.8 308.8,217.2"/><polygon points="275.6,231.6 275.9,231.2 277.4,231.6 276.9,231.9 275.7,232.4"/><polygon points="311.0,238.6 312.0,237.1 313.5,238.3"/><polygon points="350.4,232.7 348.7,232.2 350.5,231.2"/></g>
<g fill="#8a8428"><polygon points="281.2,233.3 280.4,233.8 278.9,233.4 279.5,232.3"/><polygon points="320.7,251.3 319.0,252.0 318.9,251.4 319.9,250.9"/><polygon points="301.6,232.2 300.4,232.5 299.9,231.7 301.2,231.5"/><polygon points="292.7,237.6 293.6,236.8 295.2,237.3 294.4,237.8"/><polygon points="344.5,226.0 342.7,227.0 342.0,226.4 343.5,225.5"/><polygon points="321.4,227.4 321.9,226.4 323.1,226.2 324.2,227.7 321.6,227.7"/><polygon points="340.6,245.0 343.8,244.8 341.4,246.1"/><polygon points="317.5,230.2 318.9,230.3 318.2,231.5 316.9,231.2"/><polygon points="300.0,222.2 300.3,222.8 299.2,223.8 297.8,222.7 298.7,221.8"/><polygon points="297.1,223.5 295.6,224.1 294.5,223.8 295.7,222.9"/><polygon points="333.5,246.3 331.3,247.0 333.5,245.2"/><polygon points="283.7,236.1 286.6,236.2 284.8,237.3"/><polygon points="330.5,243.2 333.0,243.6 331.1,244.7"/><polygon points="275.8,236.0 274.8,234.8 277.5,234.0 278.1,235.3"/><polygon points="342.4,229.2 342.5,229.8 341.3,230.2 340.8,229.9 341.2,229.1"/><polygon points="329.4,221.8 329.8,222.7 328.8,222.6 328.3,222.0"/><polygon points="304.6,220.7 302.8,221.0 302.1,219.2 304.6,219.4"/></g>
<g fill="#55531a"><polygon points="291.4,234.9 291.1,234.1 292.3,233.9 293.2,234.5 293.0,235.1"/><polygon points="349.5,234.3 350.3,233.9 350.4,235.2 348.5,235.0"/><polygon points="301.6,232.3 301.2,231.3 303.0,231.3 302.9,232.0"/><polygon points="336.7,230.5 336.6,229.6 336.7,228.8 338.8,229.7 338.7,230.9"/><polygon points="337.5,249.8 339.6,251.3 336.6,251.1"/><polygon points="301.0,225.4 300.7,226.7 298.0,226.0 299.8,224.4"/><polygon points="339.3,227.0 339.7,225.4 342.0,225.8"/><polygon points="299.2,231.3 297.1,231.7 297.3,231.0 298.5,230.0"/><polygon points="345.9,249.1 344.4,249.2 343.9,247.7 345.8,247.9"/><polygon points="319.9,242.3 320.7,243.4 319.1,243.7 318.4,242.8"/><polygon points="331.1,227.1 329.6,227.3 329.2,226.1 330.6,226.3"/><polygon points="321.7,244.6 322.3,243.8 323.3,244.0 323.3,244.5 322.1,244.9"/><polygon points="319.7,243.6 321.8,242.5 322.8,243.4"/><polygon points="314.8,228.1 316.0,229.0 314.1,229.1"/><polygon points="279.2,231.0 278.3,230.2 281.1,229.9 281.7,230.7 279.8,231.6"/><polygon points="288.4,234.2 290.3,234.6 289.8,235.3 288.0,234.9"/><polygon points="277.9,237.1 276.4,235.7 278.7,235.2 279.4,237.1"/><polygon points="296.8,233.0 295.6,232.5 297.5,231.6 297.4,232.7"/><polygon points="286.4,225.4 284.8,225.7 285.6,224.5"/><polygon points="306.6,237.0 304.3,237.4 303.2,237.2 304.1,236.2 305.9,236.3"/><polygon points="338.9,252.1 337.2,251.5 337.6,250.2 338.8,250.3 339.8,251.0"/></g>
<g fill="#9b9530"><polygon points="286.9,224.0 289.4,223.2 288.6,224.7"/><polygon points="295.3,231.9 293.4,230.9 292.6,229.9 295.1,229.9"/><polygon points="273.9,240.1 276.4,240.2 275.9,240.8 274.5,241.0"/><polygon points="295.7,234.5 294.6,234.6 294.0,234.0 294.5,233.3 295.7,233.5"/><polygon points="310.7,230.0 312.6,231.2 311.3,231.8 309.4,231.0"/><polygon points="306.9,240.1 305.0,240.1 304.9,239.6 305.6,239.3 306.9,239.8"/><polygon points="340.5,227.3 339.0,227.1 339.8,226.1"/><polygon points="309.6,234.2 310.6,235.2 309.2,235.5 308.3,234.8"/><polygon points="320.2,229.5 321.1,230.6 320.9,230.8 319.2,231.1 319.0,229.7"/><polygon points="289.5,233.0 290.0,233.8 288.8,233.8 287.8,233.3"/><polygon points="346.2,245.5 347.0,243.8 348.2,245.8"/><polygon points="322.0,233.8 321.7,235.4 320.2,235.2 320.5,233.6"/><polygon points="291.9,230.1 292.1,230.9 289.7,230.7"/></g>
<g stroke="#6a661c" stroke-width="0.25" stroke-opacity="0.6" stroke-linejoin="round">
<g fill="#cfc747"><polygon points="347.7,234.1 349.6,231.9 350.8,233.2 348.9,234.8"/><polygon points="294.4,225.4 288.7,226.7 288.4,223.6 292.1,221.6"/><polygon points="277.6,228.2 282.1,228.2 282.5,231.3 278.3,230.2"/><polygon points="345.0,230.6 345.2,227.2 348.8,227.2 349.6,230.2"/><polygon points="297.5,237.5 296.0,239.4 293.3,238.2 296.3,236.6"/><polygon points="332.9,231.5 335.9,230.7 336.6,232.2 333.5,232.8"/><polygon points="333.0,247.4 334.4,246.1 336.2,245.4 338.0,247.3 336.3,248.8"/><polygon points="351.0,231.9 345.6,231.9 345.2,227.3 349.6,226.3"/><polygon points="280.7,226.4 283.2,224.2 286.7,227.0 282.8,229.1"/><polygon points="335.1,246.4 332.9,250.0 328.6,249.8 331.3,245.0"/><polygon points="321.2,228.0 324.5,232.4 318.0,230.2"/><polygon points="294.4,241.4 294.4,238.6 299.0,238.4 298.3,242.1"/><polygon points="299.5,231.7 296.6,233.7 293.6,231.4 295.0,228.9"/><polygon points="338.0,224.4 341.5,223.6 341.2,225.7 337.4,226.3"/><polygon points="289.1,232.8 293.2,234.3 292.5,236.6 288.8,236.0"/><polygon points="311.4,226.3 311.4,227.6 309.5,228.0 308.4,227.3 309.6,225.7"/><polygon points="326.8,250.0 325.5,249.1 327.3,245.7 329.6,247.5"/><polygon points="349.7,241.0 349.6,239.3 352.9,238.7 352.7,241.4"/><polygon points="347.0,248.5 349.0,248.3 351.8,249.2 349.7,250.7 348.3,250.4"/><polygon points="324.9,231.6 320.5,229.2 324.2,228.3"/><polygon points="335.5,239.1 332.1,238.8 332.8,236.5 335.9,235.9"/><polygon points="348.6,237.5 346.9,238.5 344.5,237.8 344.2,236.1 346.3,235.7"/><polygon points="307.1,218.7 311.7,218.5 309.9,220.9 307.4,220.2"/><polygon points="337.6,239.1 338.3,240.7 334.8,242.9 333.5,242.5 333.8,240.6"/><polygon points="323.4,223.0 324.0,224.9 322.0,225.3 319.9,224.4 320.5,222.3"/><polygon points="327.5,230.4 325.1,230.3 326.0,225.9 329.2,228.1"/></g>
<g fill="#c3bb3c"><polygon points="348.1,243.2 344.5,240.7 345.5,239.8 350.0,240.6"/><polygon points="349.8,252.8 349.2,251.1 354.8,251.7 352.4,253.7"/><polygon points="327.3,232.5 328.5,236.0 325.3,238.0 324.3,234.9"/><polygon points="318.6,250.9 318.1,248.9 321.5,249.6"/><polygon points="314.9,223.2 313.7,221.3 316.6,220.6 316.6,223.2"/><polygon points="323.1,253.5 320.6,251.8 323.2,249.1 325.2,251.3"/><polygon points="292.4,228.9 290.9,227.1 295.4,225.3 297.2,229.2"/><polygon points="346.8,244.5 353.1,246.7 349.9,249.3 347.0,249.8"/><polygon points="327.6,247.8 330.0,246.3 332.8,250.0 328.2,251.8"/><polygon points="340.3,249.9 336.4,251.4 333.5,247.1"/><polygon points="326.9,230.4 324.2,231.1 322.7,228.8 325.2,226.9 327.2,227.4"/><polygon points="267.8,234.7 270.8,235.2 272.1,237.8 270.3,238.6"/><polygon points="298.4,218.2 298.0,215.9 299.6,214.9 302.8,216.5 302.7,218.2"/><polygon points="342.9,225.5 343.0,228.1 340.1,227.0 340.2,225.3 341.5,225.0"/><polygon points="292.3,240.4 290.6,237.4 295.2,239.2"/><polygon points="351.5,236.1 353.0,238.4 349.5,238.4 347.7,236.4"/><polygon points="304.6,237.9 301.1,239.8 299.0,235.8 302.8,233.3"/><polygon points="351.1,238.2 350.5,235.7 354.5,236.0"/><polygon points="299.4,225.5 296.1,229.9 291.9,227.0 295.7,224.2"/><polygon points="324.4,230.9 319.3,227.4 327.3,225.5"/><polygon points="282.2,229.9 284.0,228.7 285.3,228.9 285.4,231.1 283.3,231.8"/><polygon points="289.9,228.2 291.0,225.7 293.8,226.0 292.5,228.0"/><polygon points="294.7,227.0 299.2,227.3 295.5,229.6"/><polygon points="316.9,229.8 315.9,231.3 314.6,231.5 315.2,229.2"/><polygon points="279.2,240.1 281.3,237.6 283.0,237.2 283.8,240.5 282.0,242.0"/><polygon points="288.2,228.5 291.1,227.3 293.1,229.8 288.9,231.0"/></g>
<g fill="#d9d25a"><polygon points="299.3,229.2 294.5,228.7 293.6,225.9 299.2,225.1"/><polygon points="336.9,226.6 336.1,225.7 339.5,225.7 340.1,226.8 339.5,228.1"/><polygon points="345.6,250.0 344.4,252.2 340.4,251.9 341.8,248.2"/><polygon points="321.7,236.8 317.8,237.2 316.8,234.5 320.0,234.2"/><polygon points="343.8,249.6 341.5,253.9 336.4,251.6 340.1,247.7"/><polygon points="279.3,238.4 284.3,234.4 287.5,237.5 284.6,239.9"/><polygon points="292.0,226.2 297.6,226.2 297.9,228.7 292.7,229.1"/><polygon points="297.2,222.2 296.0,217.7 301.7,218.7"/><polygon points="303.0,227.6 298.5,226.8 302.1,225.4"/><polygon points="275.0,227.1 277.6,227.8 275.3,231.2 274.1,229.3"/><polygon points="342.5,231.3 337.8,228.5 340.9,226.4 344.0,228.9"/><polygon points="311.2,229.0 313.5,231.7 310.6,232.5 307.6,230.5"/><polygon points="332.1,242.1 334.6,242.3 334.2,243.9 331.2,243.2"/><polygon points="341.1,243.0 344.8,243.2 344.4,246.0"/><polygon points="333.7,243.9 328.5,247.3 329.3,244.4"/><polygon points="333.6,236.2 331.9,238.4 328.5,235.9 334.0,233.7"/><polygon points="298.3,227.8 295.4,226.1 297.4,224.7 300.0,225.6"/><polygon points="304.4,235.0 307.1,234.0 306.1,236.8"/><polygon points="286.3,220.5 288.8,218.8 290.9,220.2 290.5,221.6"/><polygon points="347.4,229.2 343.2,229.1 348.1,226.6"/><polygon points="324.3,229.8 321.7,228.3 324.8,228.1"/><polygon points="277.6,234.3 275.6,232.7 276.9,232.0 279.1,230.7 280.1,232.6"/><polygon points="284.6,232.3 281.8,231.9 283.5,230.3 286.4,230.3 285.9,231.3"/></g>
<g fill="#b8b035"><polygon points="326.5,239.2 324.6,240.8 324.5,238.6"/><polygon points="312.3,231.2 308.8,229.2 309.0,227.5 310.8,226.3 313.7,226.7"/><polygon points="300.1,226.3 297.6,227.8 294.4,223.7 298.7,223.2"/><polygon points="326.4,244.6 328.6,246.6 326.7,248.9 325.4,248.1"/><polygon points="341.7,243.2 340.1,241.8 342.9,240.6"/><polygon points="336.4,240.4 335.0,243.2 332.4,242.3 333.3,241.0"/><polygon points="322.8,235.0 323.1,239.1 318.4,235.6"/><polygon points="349.1,235.9 349.0,234.5 350.7,234.5 352.0,236.2"/><polygon points="350.9,245.0 353.3,246.0 352.5,248.2 349.6,248.6 349.3,245.9"/><polygon points="307.4,242.7 310.8,239.7 313.5,243.2"/><polygon points="298.8,227.3 297.6,229.0 295.3,227.5 297.7,226.6"/><polygon points="352.7,249.6 352.2,251.6 347.4,251.0 346.7,249.3 350.7,246.5"/><polygon points="345.4,255.7 343.6,254.3 346.0,252.6 348.1,253.5"/><polygon points="283.7,238.5 278.9,234.4 284.9,234.5"/><polygon points="313.7,251.3 313.4,248.7 319.1,247.6 320.9,249.1 318.4,251.5"/><polygon points="280.5,228.7 285.4,227.3 286.5,231.0 281.8,231.5"/><polygon points="318.1,243.4 318.7,241.7 321.4,243.4"/><polygon points="280.6,230.0 285.7,229.9 284.9,233.1"/><polygon points="300.4,237.9 303.5,238.0 302.2,242.8 299.2,241.2"/><polygon points="323.0,226.4 322.5,223.2 325.8,223.0 326.2,227.4"/><polygon points="351.0,243.6 347.1,244.2 347.0,241.4 349.6,242.4"/><polygon points="312.6,237.0 313.9,238.2 311.8,241.4 310.4,241.8 308.3,238.4"/><polygon points="352.2,231.7 347.6,233.8 343.2,231.4 348.5,229.3"/><polygon points="349.4,228.8 345.9,226.4 350.3,226.2"/></g>
<g fill="#cbc244"><polygon points="352.3,245.2 346.6,246.4 346.3,244.4 349.3,243.0"/><polygon points="325.9,246.9 326.3,244.5 328.3,244.9 328.5,246.7"/><polygon points="286.9,221.7 285.8,225.6 280.5,223.1"/><polygon points="295.7,233.0 290.4,232.4 291.7,230.3 295.4,229.2"/><polygon points="305.2,237.0 301.1,236.3 302.9,231.7 307.1,235.5"/><polygon points="322.6,226.5 318.6,225.0 323.0,222.4"/><polygon points="335.8,225.1 334.0,228.2 331.1,227.3 332.0,224.2"/><polygon points="331.7,248.6 328.4,247.4 329.5,245.3 332.2,244.6"/><polygon points="301.2,235.5 302.2,238.3 298.1,238.1 296.4,235.0"/><polygon points="318.0,227.5 315.1,224.1 316.1,221.2 321.2,223.1"/><polygon points="319.9,232.7 315.6,236.4 314.5,234.3 317.4,232.1"/><polygon points="324.4,231.2 324.9,234.1 319.3,234.0 317.6,233.4 317.6,230.2"/><polygon points="295.4,242.2 293.5,241.5 293.1,239.3 294.0,238.5 296.2,240.4"/><polygon points="351.4,254.5 352.0,251.7 354.2,253.4"/><polygon points="345.7,236.0 343.6,235.3 343.9,233.2 348.1,232.7 349.2,235.3"/><polygon points="308.5,218.6 306.1,217.9 308.1,215.3 309.4,214.6 312.0,218.0"/></g>
<g fill="#e0da6c"><polygon points="309.4,240.3 307.7,238.9 310.1,236.6 312.7,236.7 313.4,239.5"/><polygon points="338.9,239.3 341.0,239.8 340.7,241.4 339.6,241.7"/><polygon points="301.7,222.9 296.5,224.6 295.3,219.8"/><polygon points="314.9,238.9 314.9,236.3 317.2,237.2"/><polygon points="276.6,235.2 273.5,233.7 271.4,231.5 275.7,230.8 278.5,231.4"/><polygon points="338.5,237.1 343.7,236.8 341.5,238.7"/><polygon points="352.2,239.2 352.4,240.4 352.7,242.1 350.0,241.1 349.6,238.9"/><polygon points="317.7,217.3 315.7,221.8 311.9,221.2 310.1,218.2 311.5,216.0"/><polygon points="297.4,240.0 297.6,238.0 302.2,239.3 300.3,241.5"/><polygon points="277.8,232.1 279.9,233.2 279.0,235.9 276.8,234.2"/><polygon points="300.7,220.8 305.3,221.6 303.0,223.6 298.9,222.6"/><polygon points="316.9,221.4 312.0,220.9 312.4,218.7 315.4,217.6"/><polygon points="284.0,239.5 281.4,242.4 279.5,242.1 279.7,238.6"/><polygon points="318.7,232.2 321.9,232.3 319.4,234.1"/><polygon points="301.9,237.7 298.4,237.2 299.2,235.6 301.2,235.9"/><polygon points="326.7,237.0 330.1,235.9 330.6,239.6 328.3,241.3 325.1,238.8"/><polygon points="274.0,229.8 277.9,226.9 276.9,231.1"/><polygon points="298.0,221.0 299.8,219.5 302.0,222.0"/><polygon points="303.7,231.9 302.1,229.3 307.7,229.9"/><polygon points="326.4,223.5 328.9,219.6 330.0,222.6"/><polygon points="332.9,246.3 336.3,248.7 332.2,250.7 331.5,248.3"/><polygon points="318.9,244.3 319.1,241.7 320.8,242.9"/><polygon points="318.1,225.7 315.8,226.6 314.3,224.8 316.9,224.0"/></g>
</g>
<g fill="#6f6c1e"><polygon points="279.8,238.8 278.0,239.3 277.2,238.7 278.3,237.9"/><polygon points="331.8,243.7 333.4,243.6 333.8,244.1 333.4,244.5 332.4,244.1"/><polygon points="339.2,232.6 338.0,233.3 337.9,233.0 337.2,232.0 338.5,231.8"/><polygon points="289.6,231.0 287.6,231.7 286.7,230.6 287.8,230.4"/><polygon points="302.2,217.0 301.6,217.6 300.2,217.4 300.3,216.9"/><polygon points="319.6,244.3 320.1,242.5 322.2,243.9"/><polygon points="344.8,235.4 344.8,234.5 347.3,234.3 347.6,235.4 346.8,235.4"/><polygon points="294.5,235.5 297.3,236.3 294.8,237.2"/><polygon points="324.2,245.0 326.9,244.9 326.6,246.3 325.1,246.3"/><polygon points="295.0,231.5 296.5,231.9 295.2,232.2"/><polygon points="329.1,238.6 331.3,239.9 329.8,240.7 327.4,240.1 328.0,238.9"/><polygon points="285.2,228.7 286.9,228.3 287.7,229.7 285.4,230.1"/><polygon points="313.9,226.8 314.7,228.8 311.8,228.8"/><polygon points="334.8,223.5 335.2,224.0 334.3,224.4 334.0,224.3 333.7,223.7"/><polygon points="317.0,220.2 314.7,220.3 314.9,218.9 316.8,219.0"/><polygon points="302.6,218.3 300.9,218.3 301.6,217.1 302.7,217.5"/><polygon points="344.1,246.5 343.0,246.9 342.4,245.8 343.4,245.6"/><polygon points="327.9,242.3 329.3,242.4 328.5,243.5"/><polygon points="348.6,247.8 347.0,247.4 347.8,246.6 348.8,247.1"/><polygon points="350.8,250.6 351.3,251.3 349.8,251.6 349.0,251.1"/><polygon points="335.9,237.6 335.5,236.3 337.6,236.0 339.0,237.1 337.8,237.5"/><polygon points="295.5,235.3 296.6,236.0 295.1,236.4 294.4,236.0"/><polygon points="292.2,224.4 291.9,223.2 293.4,223.5 293.6,224.2"/></g>
<g fill="#8a8428"><polygon points="316.7,230.1 315.6,230.4 314.4,230.1 316.8,229.2"/><polygon points="314.8,231.9 316.0,232.4 314.8,233.0"/><polygon points="287.2,227.3 286.3,229.3 284.5,228.2"/><polygon points="334.6,228.8 331.9,229.3 333.0,227.5"/><polygon points="320.9,246.4 322.0,245.5 322.7,246.8"/><polygon points="280.9,232.8 279.6,233.3 278.4,233.0 278.8,232.2"/><polygon points="324.7,221.6 322.6,221.1 324.6,219.4 326.3,220.9"/><polygon points="307.5,232.2 308.2,231.5 309.3,231.9"/><polygon points="305.1,239.8 305.6,240.7 304.0,240.9 304.3,240.2"/><polygon points="350.2,247.9 349.2,246.0 351.9,246.5"/><polygon points="288.4,238.1 289.8,237.9 290.5,238.2 289.4,238.9 288.8,238.5"/><polygon points="302.0,228.7 299.1,227.8 300.8,226.3 302.5,227.3"/><polygon points="292.6,225.5 292.1,226.5 290.6,226.6 291.0,224.9"/><polygon points="319.6,228.3 320.1,229.4 317.1,229.7 317.8,228.1"/><polygon points="346.6,252.3 348.2,252.4 347.8,253.2 347.0,252.8"/><polygon points="286.1,230.9 287.8,231.3 286.9,231.6"/><polygon points="341.5,252.8 339.4,253.0 341.1,252.1"/><polygon points="319.1,235.2 319.7,234.8 321.0,235.6 319.8,236.0 318.6,235.9"/><polygon points="348.7,236.5 349.0,235.2 351.2,234.9 351.9,236.3"/><polygon points="328.5,226.3 327.6,227.6 325.1,226.9 326.4,225.9"/><polygon points="299.2,219.8 301.3,220.4 299.1,221.0"/></g>
<g fill="#55531a"><polygon points="319.1,246.5 316.9,247.0 314.5,245.9 317.5,245.6"/><polygon points="320.5,221.8 320.8,220.5 322.8,221.7"/><polygon points="341.5,237.8 340.6,237.5 341.7,236.3 343.0,236.6 342.8,238.0"/><polygon points="296.8,240.0 297.8,239.6 299.3,240.6 297.2,241.0"/><polygon points="311.7,241.5 312.1,242.9 309.8,242.9 310.4,241.1"/><polygon points="304.0,239.6 301.8,238.7 303.6,238.0"/><polygon points="293.8,220.7 295.5,220.3 296.7,220.6 296.2,222.2 294.0,221.7"/><polygon points="286.9,238.6 284.6,238.5 284.9,236.9 287.4,237.2"/><polygon points="297.2,218.1 300.0,217.8 300.5,219.8"/><polygon points="274.2,240.9 274.1,240.3 274.5,240.1 275.3,240.8 274.7,241.0"/><polygon points="298.0,220.0 298.3,219.5 299.6,219.6 298.6,220.6"/><polygon points="333.7,226.9 331.9,226.8 333.2,225.8"/><polygon points="306.9,216.4 308.4,216.9 308.3,217.6 307.3,217.7 306.8,217.4"/><polygon points="340.1,224.2 340.5,223.7 343.1,223.9 341.6,224.7"/><polygon points="317.8,221.6 316.6,221.1 315.9,219.6 318.5,220.1"/><polygon points="351.1,234.5 353.8,235.6 350.6,236.6"/></g>
<g fill="#9b9530"><polygon points="316.5,232.4 318.0,232.6 317.4,233.7 315.1,233.3"/><polygon points="310.9,230.0 312.6,229.3 313.6,230.4"/><polygon points="290.3,239.0 289.3,238.6 291.1,237.7 291.3,237.9 291.8,238.8"/><polygon points="306.6,233.6 305.2,232.6 305.6,232.3 307.7,232.0 308.2,233.1"/><polygon points="309.2,241.7 309.3,240.8 309.9,240.2 310.7,240.3 310.9,241.3"/><polygon points="318.2,223.0 315.0,223.2 315.5,222.2 317.6,222.3"/><polygon points="305.5,222.1 303.7,222.1 304.7,220.6 305.8,221.1"/><polygon points="297.3,231.7 297.5,232.5 296.0,232.7 296.4,231.6"/><polygon points="296.2,230.1 297.2,229.8 297.3,230.8"/><polygon points="349.3,232.2 352.0,232.2 350.4,233.9 349.1,233.3"/><polygon points="307.1,236.6 304.7,235.8 306.7,235.0"/><polygon points="345.2,240.2 343.9,241.2 340.8,240.9 343.2,238.8"/></g>
<g stroke="#6a661c" stroke-width="0.25" stroke-opacity="0.6" stroke-linejoin="round">
<g fill="#cfc747"><polygon points="280.6,226.9 283.3,225.9 285.7,226.5 283.2,228.7 280.5,228.1"/><polygon points="330.3,237.9 328.6,238.7 325.8,237.4 326.3,235.3 330.2,235.8"/></g>
<g fill="#c3bb3c"><polygon points="290.0,239.0 291.6,237.5 293.6,237.7 294.0,239.7 292.5,240.4"/><polygon points="288.3,228.0 286.7,226.5 289.5,226.5 290.3,228.1"/><polygon points="328.7,236.4 332.9,236.4 331.2,240.3"/><polygon points="345.8,238.9 348.3,237.1 354.1,238.5 350.9,240.8 349.0,242.4"/><polygon points="311.3,234.3 309.2,236.5 307.4,232.2"/><polygon points="326.6,236.0 327.1,238.0 325.0,238.0"/><polygon points="284.1,223.1 290.4,221.6 287.9,225.2"/><polygon points="298.5,226.4 299.2,223.4 303.3,223.1 302.8,227.3"/><polygon points="339.4,229.7 339.0,234.5 334.4,232.7"/><polygon points="347.2,245.8 351.2,244.5 355.6,246.0 349.5,249.2"/></g>
<g fill="#d9d25a"><polygon points="281.6,241.0 277.6,242.5 277.5,239.4"/><polygon points="341.3,222.6 335.8,224.2 336.0,221.0 339.1,220.4"/><polygon points="313.8,242.5 315.1,244.3 312.6,244.5 311.4,242.4"/><polygon points="308.6,235.2 311.7,231.8 313.3,235.0"/><polygon points="310.2,242.7 316.3,241.4 314.4,243.9"/><polygon points="332.8,239.7 335.9,239.2 338.9,241.7 334.0,243.5 333.0,240.8"/><polygon points="311.1,216.8 309.9,219.1 308.4,220.1 306.5,219.0 308.6,216.3"/><polygon points="334.5,225.2 332.3,224.8 333.6,219.9 336.3,221.5"/></g>
<g fill="#b8b035"><polygon points="337.1,252.2 335.5,251.3 335.9,250.4 338.7,249.9 339.3,252.9"/><polygon points="301.6,234.0 296.4,233.1 299.1,230.1 300.6,231.0"/><polygon points="345.8,231.6 346.5,228.8 350.8,230.4 349.6,231.8"/><polygon points="306.8,240.7 303.4,242.7 301.3,240.9 304.1,239.0"/><polygon points="325.8,239.0 330.2,239.2 328.9,244.9"/></g>
<g fill="#cbc244"><polygon points="314.8,230.4 309.1,230.5 310.9,227.1"/><polygon points="310.0,248.3 313.3,244.9 317.0,247.9 311.0,250.1"/><polygon points="320.3,226.7 324.4,226.4 322.8,228.6"/><polygon points="318.8,234.4 323.6,234.5 322.1,237.6"/><polygon points="287.5,230.0 291.0,231.4 291.3,232.2 289.5,233.2 286.7,232.6"/><polygon points="307.5,228.9 303.4,227.8 305.4,224.6"/></g>
<g fill="#e0da6c"><polygon points="313.8,225.8 313.5,228.6 310.1,225.9"/><polygon points="343.7,245.3 345.9,246.7 345.8,247.3 342.6,247.6 341.9,246.8"/><polygon points="341.9,254.7 343.4,252.1 345.2,254.4"/><polygon points="304.5,235.3 305.4,233.5 307.9,234.7 308.5,237.3 306.2,236.9"/><polygon points="292.2,231.3 295.1,231.3 295.1,232.7"/><polygon points="336.0,226.1 337.1,223.7 340.4,225.0"/><polygon points="308.7,217.8 310.0,220.3 307.5,220.9 306.8,219.0"/><polygon points="305.9,225.6 302.5,224.5 303.5,221.8 305.7,220.1 308.8,222.8"/><polygon points="337.6,253.3 340.4,251.4 341.0,254.1"/><polygon points="321.9,225.6 323.6,227.5 320.4,228.3 319.0,226.3"/><polygon points="299.1,238.7 296.3,235.3 298.9,233.9 301.3,237.3"/><polygon points="338.0,222.0 342.5,222.8 340.1,225.4 337.4,224.3"/><polygon points="305.8,220.3 304.9,216.7 309.2,218.8"/><polygon points="335.2,237.0 334.4,234.2 338.8,233.4 339.9,237.8"/><polygon points="319.9,222.3 319.0,219.7 323.3,219.9 322.9,222.9"/></g>
</g>
<g fill="#6f6c1e"><polygon points="315.7,249.4 317.6,248.9 317.0,249.8"/><polygon points="308.3,241.6 307.3,240.7 308.5,240.8"/><polygon points="291.9,233.3 292.8,234.2 290.7,234.7 289.8,232.9"/><polygon points="307.3,227.7 306.4,227.1 308.0,226.0 308.5,226.8 308.2,227.8"/><polygon points="348.4,234.5 350.5,234.3 349.7,235.2 347.9,235.4"/><polygon points="335.3,237.8 335.2,238.4 333.4,239.2 332.2,237.9 333.7,237.0"/><polygon points="296.0,228.0 295.7,227.0 298.2,227.3"/><polygon points="281.7,232.0 280.6,232.3 280.0,231.3 280.6,231.2 281.6,231.4"/><polygon points="280.3,226.0 281.7,226.1 281.9,226.8 280.9,227.4 279.7,226.5"/><polygon points="331.1,246.7 333.3,246.0 333.9,248.0"/><polygon points="340.4,225.3 339.2,227.2 337.2,226.0"/><polygon points="332.2,236.6 333.3,238.0 331.4,238.5 330.9,237.4"/><polygon points="321.0,241.6 318.5,243.1 317.7,242.3 318.9,241.0"/></g>
<g fill="#8a8428"><polygon points="298.2,225.0 296.7,225.3 296.2,225.1 296.4,224.1 297.2,224.0"/><polygon points="309.4,239.0 311.3,237.9 311.8,239.2"/><polygon points="305.4,219.9 303.4,219.2 305.6,217.7 307.0,218.6"/><polygon points="291.6,236.3 290.1,235.3 291.7,234.3 293.0,234.8 292.8,236.7"/><polygon points="297.5,238.1 297.7,237.0 299.1,237.0 300.6,237.1 299.6,238.1"/><polygon points="336.1,244.5 335.4,244.1 336.1,243.3 336.7,243.5 337.3,244.2"/><polygon points="330.5,228.8 329.0,229.1 327.0,227.9 328.5,227.6 330.5,227.3"/><polygon points="339.0,248.6 339.8,248.4 342.0,249.7 341.4,250.1 339.1,250.0"/><polygon points="275.1,236.1 276.5,235.3 276.5,236.5"/><polygon points="292.9,223.7 294.1,222.9 295.1,224.3 293.6,224.7"/><polygon points="316.4,237.6 316.5,238.4 314.6,237.7 315.6,237.0"/><polygon points="299.8,238.8 301.3,239.2 300.3,240.3 298.3,239.8 298.9,239.1"/></g>
<g fill="#55531a"><polygon points="344.2,252.5 345.2,251.2 346.3,251.9 346.4,253.5 345.5,253.2"/><polygon points="316.2,229.1 315.4,228.2 317.8,227.8"/><polygon points="326.3,232.6 323.5,232.8 322.7,231.4 324.4,231.2"/><polygon points="318.0,242.7 316.6,242.9 316.5,242.1 317.8,241.8"/><polygon points="326.2,235.6 324.7,235.6 324.6,234.6 325.7,234.5"/><polygon points="284.6,223.0 284.2,223.4 283.2,222.6 284.6,222.3"/><polygon points="280.3,232.6 279.3,231.3 280.1,231.2 282.0,231.6 281.2,232.5"/></g>
<g fill="#9b9530"><polygon points="290.7,231.8 290.2,232.9 287.7,233.3 287.6,232.3"/><polygon points="345.2,248.1 347.6,248.0 346.5,248.7"/><polygon points="318.2,242.8 318.3,242.3 318.9,241.8 319.7,242.6"/><polygon points="295.7,240.6 295.0,239.6 296.2,240.0"/><polygon points="288.0,234.5 288.8,233.4 290.5,233.3 292.2,234.5 289.6,234.9"/><polygon points="324.3,247.9 326.4,249.8 324.1,250.1"/><polygon points="316.5,243.6 317.5,244.5 314.9,244.5"/></g>
<text x="319" y="264" font-family='"Liberation Serif", serif' font-size="8.0" font-weight="bold" text-anchor="middle" fill="#111" ><tspan font-style="italic">s</tspan>-Ti<tspan font-size="4.6" dy="2.4">3</tspan><tspan dy="-2.4" font-size="1">&#8203;</tspan>C<tspan font-size="4.6" dy="2.4">2</tspan><tspan dy="-2.4" font-size="1">&#8203;</tspan></text>
<g transform="translate(286.6,250.3) rotate(-19.3)">
<path d="M0,-0.7 H-51.4 M0,0.7 H-51.4" stroke="#4a4a4a" stroke-width="0.7" fill="none"/>
<path d="M-49,-2.4 L-55,0 L-49,2.4 L-50.8,0 Z" fill="#fff" stroke="#4a4a4a" stroke-width="0.7"/>
<text x="-26.4" y="-3.4" font-family='"Liberation Serif", serif' font-size="8.8" font-weight="bold" text-anchor="middle" fill="#111" >Co<tspan font-size="5.3" dy="-3.5">2+</tspan><tspan dy="3.5" font-size="1">&#8203;</tspan></text>
<text x="-23" y="9.2" font-family='"Liberation Serif", serif' font-size="8.8" font-weight="bold" text-anchor="middle" fill="#111" >adsorption</text>
</g>
<g stroke="#5a4510" stroke-width="0.25" stroke-opacity="0.6" stroke-linejoin="round">
<g fill="#c9a52a"><polygon points="183.9,264.1 185.8,266.9 183.0,268.3 179.0,266.7 182.6,264.7"/><polygon points="194.1,263.3 195.7,261.1 198.4,261.6 197.9,264.7 196.5,265.1"/><polygon points="222.3,255.2 224.5,259.2 220.2,261.0 219.9,256.1"/><polygon points="205.6,264.0 209.4,266.7 205.5,269.1 202.7,266.9"/><polygon points="221.6,276.9 221.1,278.3 214.6,278.5 216.4,277.2 218.3,273.5"/><polygon points="221.1,279.9 222.1,277.4 226.8,278.6 223.9,280.2"/><polygon points="226.6,274.4 223.2,278.3 219.8,277.0 219.1,274.3 220.7,273.1"/><polygon points="226.5,282.0 227.6,283.8 225.6,284.5 224.0,282.4"/><polygon points="201.9,271.6 206.8,272.0 206.1,273.6 202.3,275.1"/><polygon points="204.7,252.9 201.2,254.1 198.2,252.9 202.7,250.8"/><polygon points="190.4,252.9 189.0,255.1 186.6,254.8 185.1,252.5 188.5,251.9"/><polygon points="163.2,266.9 165.3,266.3 166.6,267.8 165.2,269.5 163.9,268.9"/><polygon points="210.4,252.7 210.2,248.7 214.7,249.2 214.5,254.5"/><polygon points="176.7,251.1 175.7,254.3 172.3,251.3"/><polygon points="233.4,267.0 231.9,267.3 231.1,266.3 231.5,265.1 233.2,265.4"/><polygon points="191.4,252.1 189.4,254.4 187.3,255.1 184.0,252.6 185.5,250.6"/><polygon points="212.7,271.7 216.3,271.9 217.4,273.9 214.1,273.3"/><polygon points="202.1,276.4 206.3,275.0 207.4,279.1 202.1,279.5"/><polygon points="217.5,264.5 213.9,265.1 217.0,261.0"/><polygon points="176.9,253.7 177.8,256.0 176.2,256.7 173.1,256.4 172.5,254.3"/><polygon points="179.1,270.0 182.4,267.2 184.3,271.0 183.1,272.2"/><polygon points="229.5,281.2 227.4,282.7 228.0,280.2"/><polygon points="229.1,267.9 231.8,270.8 229.0,271.4"/><polygon points="203.6,279.0 209.0,278.9 208.8,281.6"/><polygon points="178.2,249.6 183.7,247.0 182.5,252.3"/><polygon points="171.7,263.9 174.3,262.2 175.4,263.7 174.7,264.8"/><polygon points="229.4,255.9 231.7,258.6 229.0,260.7 226.5,257.4"/><polygon points="200.4,253.2 200.4,255.9 197.8,255.6 196.4,253.2"/><polygon points="189.9,272.2 193.2,273.4 192.8,274.3 190.1,275.3 190.0,273.5"/><polygon points="169.4,268.1 173.0,267.9 174.4,269.1 173.8,271.2 169.0,270.8"/><polygon points="180.2,270.0 183.8,270.6 183.8,274.1 180.8,273.3"/><polygon points="189.4,249.3 191.7,254.2 186.6,253.4"/><polygon points="160.1,269.5 161.1,268.5 162.1,268.1 163.5,270.0 161.5,270.7"/><polygon points="186.1,269.8 192.5,271.4 189.2,273.3 184.2,272.1"/><polygon points="156.8,261.3 160.2,262.0 160.5,264.8 157.5,265.9 156.2,263.1"/></g>
<g fill="#d6b538"><polygon points="181.6,271.6 179.3,273.1 177.5,272.0 180.5,269.2"/><polygon points="197.8,250.7 195.3,252.4 194.0,251.0 196.7,249.4"/><polygon points="179.3,270.4 181.1,271.8 179.8,273.1 177.5,273.4 177.6,271.4"/><polygon points="201.6,266.0 198.3,271.1 194.3,267.8 194.8,265.9"/><polygon points="212.2,278.3 213.4,274.1 218.6,275.2 217.3,277.2"/><polygon points="219.4,255.5 220.0,251.7 224.4,252.1 223.7,256.1"/><polygon points="215.7,280.9 220.7,278.1 223.6,279.3 218.5,282.2"/><polygon points="199.3,278.5 193.5,280.8 192.5,277.3 196.0,275.7"/><polygon points="181.0,271.8 175.3,273.7 177.0,269.1"/><polygon points="217.5,284.1 215.7,281.2 222.0,279.7 221.8,284.5"/><polygon points="227.0,279.7 229.4,282.6 225.6,284.3 223.8,282.2"/><polygon points="232.9,264.3 230.6,266.3 229.1,265.6 230.8,263.7"/><polygon points="160.1,271.4 156.4,270.1 158.7,267.7 161.2,269.5"/><polygon points="188.1,265.0 184.8,263.2 189.7,261.8"/><polygon points="174.2,244.1 177.1,249.5 173.5,249.7 170.1,247.2"/><polygon points="202.8,279.4 205.3,281.1 205.2,282.6 201.1,281.3"/><polygon points="170.3,254.9 169.6,258.0 167.3,258.3 165.3,255.2 166.8,253.6"/><polygon points="176.2,267.5 173.8,265.8 180.1,263.5"/><polygon points="178.5,267.9 180.5,267.8 179.6,270.0 176.3,270.0"/><polygon points="191.7,276.2 195.8,280.5 191.7,280.5"/><polygon points="220.6,267.0 223.4,263.2 227.3,265.0 229.2,266.6 225.5,269.0"/><polygon points="188.0,253.3 192.2,256.1 190.9,257.6 186.9,257.2"/><polygon points="216.4,277.0 217.8,278.7 214.8,279.9 214.2,277.1"/><polygon points="183.1,247.7 186.2,248.0 186.8,250.4 183.4,250.1"/><polygon points="199.9,255.3 203.7,256.2 204.3,258.6 200.4,258.9 198.5,257.4"/><polygon points="171.2,253.0 171.6,255.3 166.9,255.2 166.3,252.5"/><polygon points="216.4,250.2 219.2,250.5 220.0,253.4 216.6,254.3"/><polygon points="223.2,275.6 221.8,273.7 226.1,272.2 227.0,275.3 227.5,277.0"/><polygon points="210.3,275.0 206.1,276.7 207.9,272.5"/><polygon points="188.3,264.8 190.0,265.7 189.3,266.3 187.0,266.1"/><polygon points="183.1,259.7 185.2,262.3 183.4,264.1 179.8,264.3 181.6,260.6"/><polygon points="219.9,257.6 222.2,258.7 222.0,260.3 218.6,260.5"/><polygon points="194.0,253.1 191.7,252.5 193.6,250.8 195.0,252.4"/><polygon points="198.5,271.0 199.5,274.1 196.2,273.3"/><polygon points="203.7,261.0 201.9,262.2 200.2,259.5"/><polygon points="193.0,274.0 193.7,277.6 190.9,278.3 191.5,275.1"/><polygon points="230.8,275.1 228.0,276.0 227.5,272.3 233.3,272.3"/><polygon points="197.1,269.4 199.8,272.3 195.2,273.9 193.2,273.0 192.2,270.5"/><polygon points="198.4,280.6 200.7,281.1 200.8,282.9 199.1,282.5 196.5,281.3"/><polygon points="199.1,277.0 196.8,278.3 196.2,276.5"/><polygon points="180.3,255.3 180.5,251.9 184.5,253.8"/><polygon points="188.5,249.2 188.2,253.2 183.9,251.0"/><polygon points="186.8,269.4 188.9,269.0 189.4,271.4 184.5,272.5 184.7,271.3"/><polygon points="225.8,257.5 225.5,259.2 223.1,258.4"/><polygon points="224.3,273.7 222.4,275.0 219.8,274.7 221.3,271.4 223.3,272.1"/></g>
<g fill="#b8921f"><polygon points="200.5,271.4 198.0,272.9 194.8,270.9 197.1,269.3"/><polygon points="225.4,271.3 221.2,272.6 219.7,268.5 223.3,268.7"/><polygon points="175.3,265.9 176.6,268.5 173.9,268.9 173.1,266.0"/><polygon points="222.0,263.7 224.0,266.4 219.2,268.9 215.1,267.7 216.0,265.1"/><polygon points="208.4,252.3 209.4,251.7 212.7,251.7 211.4,254.5"/><polygon points="153.2,259.7 152.2,258.6 156.2,257.5 156.0,258.7 155.3,260.5"/><polygon points="205.2,277.4 211.6,278.8 206.8,282.7 203.5,282.1"/><polygon points="162.2,254.6 167.1,251.9 168.8,255.3 164.7,256.4"/><polygon points="226.8,266.0 222.5,266.2 224.9,263.4"/><polygon points="183.5,259.1 179.3,258.3 180.0,256.7 185.0,254.6 185.4,257.4"/><polygon points="210.8,256.2 206.3,257.3 205.3,254.9 209.8,253.5"/><polygon points="195.0,265.4 190.2,266.1 189.9,262.3 196.1,263.5"/><polygon points="202.7,261.2 198.2,259.8 201.5,256.7 205.7,259.9"/><polygon points="209.6,274.3 211.2,275.8 211.1,277.3 208.7,277.4 208.6,275.1"/><polygon points="231.1,271.0 229.8,274.9 224.9,273.3 227.3,270.0"/><polygon points="232.8,279.6 230.6,280.4 228.9,279.0 231.2,278.1"/><polygon points="206.8,267.2 207.5,269.4 204.2,270.0 204.7,268.0"/><polygon points="174.6,246.9 177.9,245.5 179.1,248.4"/><polygon points="193.5,253.5 189.6,252.1 191.6,250.0 196.4,251.4"/><polygon points="161.0,267.5 155.7,268.5 154.8,266.4 158.5,264.1 161.3,265.0"/><polygon points="235.6,263.5 234.9,265.7 232.0,264.5 232.3,262.4"/><polygon points="228.9,255.3 226.1,257.9 225.6,254.0"/><polygon points="230.1,270.9 227.8,271.3 226.2,268.9"/><polygon points="173.6,265.5 172.3,262.5 175.6,262.2 177.2,264.6"/><polygon points="196.0,277.2 198.4,276.1 199.4,278.4"/><polygon points="189.2,253.4 191.2,256.6 186.5,257.1"/><polygon points="201.2,266.0 204.5,265.4 203.0,270.0 199.3,268.7"/><polygon points="174.4,254.6 173.1,257.6 169.3,256.2 172.1,254.8"/><polygon points="164.2,265.2 160.9,266.4 159.0,263.7 161.6,262.6"/><polygon points="174.4,256.0 170.6,259.0 170.3,256.7"/><polygon points="193.8,274.3 187.7,275.1 189.1,271.4 193.5,270.7"/><polygon points="196.7,254.0 195.0,259.5 190.4,257.1 190.6,253.9"/><polygon points="171.2,267.2 165.9,263.8 169.3,263.2 171.5,263.7"/><polygon points="158.4,256.3 160.1,253.2 163.9,254.6 162.2,258.4"/><polygon points="215.0,256.9 216.1,259.9 212.6,260.0 212.1,257.5"/><polygon points="220.8,273.1 217.6,271.4 222.8,270.2"/><polygon points="175.5,270.7 175.9,267.7 180.0,267.6 179.5,271.0"/><polygon points="219.8,277.9 224.6,277.4 223.3,280.3"/><polygon points="230.2,283.4 226.1,285.5 228.4,282.0"/><polygon points="225.8,263.0 224.6,266.1 220.9,267.3 218.8,262.4 221.4,262.6"/></g>
<g fill="#e0c24a"><polygon points="213.5,259.6 211.4,261.6 207.6,260.1 209.9,258.3"/><polygon points="192.3,252.4 191.5,251.9 191.9,249.1 195.8,249.8 194.8,253.2"/><polygon points="179.7,254.7 182.7,255.3 181.3,257.1 178.8,256.2"/><polygon points="165.3,262.7 158.9,262.4 156.9,261.5 161.1,257.7 163.7,260.0"/><polygon points="201.2,252.5 198.9,250.1 200.6,248.2 204.3,248.6"/><polygon points="191.2,253.5 191.3,252.4 195.4,250.8 197.1,253.3 194.9,254.8"/><polygon points="167.4,263.9 170.9,264.5 170.9,266.0 167.7,266.7 167.3,264.5"/><polygon points="207.4,255.9 210.2,253.8 213.4,255.7 212.7,259.5"/><polygon points="217.8,254.7 214.8,251.6 219.2,250.0 221.9,249.0 221.8,252.9"/><polygon points="188.6,273.9 185.0,273.9 185.7,271.5 186.4,270.0 189.0,271.2"/><polygon points="214.7,265.8 217.8,264.8 221.2,267.2 216.8,268.4"/><polygon points="167.3,252.4 166.4,255.0 163.1,252.5"/><polygon points="168.0,269.5 169.9,267.9 171.4,268.9 168.5,270.4"/><polygon points="218.8,267.6 223.4,268.5 219.9,269.6"/><polygon points="182.4,250.0 177.3,248.8 181.4,246.7"/><polygon points="175.1,269.3 175.9,266.9 178.0,266.8 180.2,268.1 177.5,269.9"/><polygon points="215.0,283.9 212.2,283.1 212.5,282.0 214.6,281.8"/><polygon points="228.8,264.8 225.8,263.2 227.3,260.6 232.1,262.7"/><polygon points="231.9,278.6 229.0,281.1 227.6,279.0"/><polygon points="170.2,250.0 173.0,247.9 173.9,250.9"/><polygon points="199.4,251.9 197.3,248.4 200.2,247.4 201.4,250.4"/><polygon points="230.7,265.8 233.2,267.9 234.5,268.9 229.9,270.0 228.8,268.7"/><polygon points="223.2,259.3 219.0,260.3 221.6,256.1"/><polygon points="196.7,273.2 200.8,271.7 203.7,273.9 200.9,275.5 199.3,275.9"/><polygon points="218.4,252.6 216.3,254.2 213.6,252.4 213.8,249.0 218.5,250.0"/><polygon points="217.6,260.1 214.3,260.2 214.5,258.9 217.4,258.2"/><polygon points="154.7,257.6 156.8,256.6 157.5,259.5"/><polygon points="199.9,276.3 204.3,276.4 204.7,281.1 199.8,278.6"/><polygon points="212.3,251.0 213.5,248.4 218.5,251.2 215.4,252.8"/><polygon points="183.5,251.5 183.2,256.8 180.3,255.8 177.8,254.5 178.8,252.3"/><polygon points="200.3,261.7 202.1,258.9 205.0,259.6 204.4,262.0"/><polygon points="200.9,251.0 196.6,253.2 192.7,250.0 195.9,248.1 201.3,248.9"/><polygon points="151.4,264.6 149.2,261.5 153.6,261.8"/><polygon points="170.9,255.2 174.0,252.7 175.6,254.4 172.6,256.6"/><polygon points="147.4,261.2 153.3,260.9 153.7,265.7 149.9,264.6"/><polygon points="194.8,281.0 195.9,279.6 196.9,281.6"/></g>
<g fill="#c29c24"><polygon points="179.9,265.5 181.3,262.7 185.8,261.6 187.5,263.5 182.7,266.5"/><polygon points="172.8,260.0 172.7,257.1 175.7,258.1 174.7,260.0"/><polygon points="194.7,260.8 199.9,258.0 202.6,261.9 199.2,264.7"/><polygon points="231.3,263.7 233.3,264.7 233.0,265.7 230.2,265.8"/><polygon points="212.7,252.3 215.8,251.8 215.8,254.0"/><polygon points="226.8,261.4 223.7,261.7 222.0,258.9 226.2,257.7"/><polygon points="189.1,274.5 186.5,271.5 193.2,270.0"/><polygon points="193.4,261.3 197.6,263.0 195.6,265.2 191.5,264.6"/><polygon points="166.0,270.2 164.5,272.0 162.9,270.4 165.2,268.8"/><polygon points="170.3,265.1 173.9,263.2 176.6,265.6 174.5,268.2"/><polygon points="187.1,252.8 192.2,251.8 193.4,253.7 189.1,255.3"/><polygon points="185.1,249.9 186.7,254.1 181.4,252.9"/><polygon points="183.0,252.4 182.2,253.6 180.0,253.9 179.0,252.1 181.6,250.7"/><polygon points="164.8,259.6 166.5,262.6 165.6,263.8 161.6,262.5"/><polygon points="211.7,258.4 209.4,260.8 208.0,258.8 209.8,258.0"/><polygon points="165.9,256.2 161.6,251.9 167.5,252.7"/><polygon points="156.6,267.7 155.9,265.8 160.1,264.5 160.7,266.6"/><polygon points="212.1,272.2 214.4,275.3 208.2,276.6 208.0,274.1"/><polygon points="201.9,253.3 204.2,255.3 202.5,257.8 199.6,255.2"/><polygon points="213.2,251.4 218.4,251.8 218.8,255.4 214.4,254.4"/><polygon points="192.6,260.3 191.3,256.6 194.3,257.3"/><polygon points="201.4,259.0 201.2,261.0 200.1,263.3 197.2,260.6 198.6,258.8"/><polygon points="181.2,250.0 186.3,248.6 185.7,251.7"/><polygon points="194.2,259.2 187.4,257.7 192.3,255.2"/><polygon points="188.3,264.6 192.5,266.2 185.2,268.3"/><polygon points="207.9,255.6 208.0,253.0 213.0,254.7 214.5,255.0 211.2,258.1"/><polygon points="180.2,259.2 178.4,259.1 176.3,255.8 181.2,254.4"/><polygon points="145.9,268.5 144.4,265.8 151.7,265.3 152.5,267.8"/><polygon points="198.3,266.4 198.8,262.9 201.9,263.5 204.0,266.2 199.3,269.0"/><polygon points="230.5,262.4 228.4,260.8 232.7,258.7 233.6,261.5 232.2,262.6"/><polygon points="203.6,253.8 205.4,258.5 200.2,257.2 200.5,255.1"/><polygon points="187.6,264.1 184.1,266.2 184.1,263.0"/><polygon points="209.4,272.4 206.3,273.7 204.7,270.2 208.9,269.3"/><polygon points="212.7,263.4 208.5,265.6 208.1,262.7 210.2,261.3"/></g>
<g fill="#d1ad30"><polygon points="199.4,269.4 196.9,267.6 202.1,267.0"/><polygon points="225.1,277.3 225.5,279.7 222.1,279.2 221.8,278.0 223.4,276.6"/><polygon points="162.3,259.0 163.0,257.3 165.6,259.4 164.8,260.1"/><polygon points="158.1,260.7 160.3,262.7 159.2,264.8 158.1,263.6 157.0,261.9"/><polygon points="185.3,269.3 185.5,268.1 187.6,266.8 189.8,267.4 188.4,269.4"/><polygon points="178.3,258.0 176.2,259.6 173.8,257.5 175.5,256.1"/><polygon points="223.3,274.7 218.6,277.8 216.0,276.2 217.3,273.0"/><polygon points="197.3,277.5 193.9,276.1 195.3,274.8 198.5,274.4"/><polygon points="177.4,254.3 178.7,256.5 177.0,257.0 174.1,255.4"/><polygon points="222.8,277.8 229.9,275.1 229.5,278.9 224.2,280.1"/><polygon points="179.3,250.0 176.6,247.2 180.5,245.5 182.0,248.7"/><polygon points="168.6,253.1 167.1,256.9 162.9,255.6 165.8,252.3"/><polygon points="211.4,249.0 214.8,249.8 212.7,252.6 209.5,250.9"/><polygon points="211.1,274.4 213.8,276.9 212.3,278.1 207.7,276.6"/><polygon points="193.1,253.7 195.4,258.1 192.1,258.8 189.8,258.0 188.6,254.8"/><polygon points="202.9,273.7 206.4,275.9 202.1,278.2 200.7,274.7"/><polygon points="192.7,249.7 192.2,251.4 191.3,251.2 189.4,249.8 190.9,248.1"/><polygon points="219.5,281.7 218.6,277.9 219.7,277.2 222.8,278.5 221.2,281.2"/><polygon points="179.4,261.7 182.1,262.4 180.2,265.3 177.8,263.7"/><polygon points="165.1,268.3 164.1,272.8 160.8,269.1"/><polygon points="160.1,262.0 166.1,262.5 161.5,265.0"/><polygon points="220.2,257.3 219.8,259.0 217.4,258.6"/><polygon points="205.2,273.9 203.0,272.2 204.8,270.6 209.9,272.7"/><polygon points="189.0,253.3 187.2,253.9 184.9,251.3 186.9,248.9 189.8,250.2"/><polygon points="168.0,259.8 166.0,257.8 170.3,256.5 171.3,259.3"/><polygon points="208.5,269.7 206.1,272.1 203.3,269.9 207.4,267.6"/><polygon points="189.1,269.1 188.3,270.7 185.8,270.8 186.5,269.1"/><polygon points="216.9,266.7 213.2,268.3 210.5,267.4 214.1,263.7"/><polygon points="215.9,264.8 212.5,263.4 216.6,260.5 219.4,262.1"/><polygon points="226.0,258.9 228.1,259.7 230.5,261.5 227.8,262.7"/><polygon points="202.4,263.7 200.0,263.7 198.9,261.8 202.1,261.4"/><polygon points="153.0,270.2 152.1,267.3 157.9,266.9 157.9,269.1"/><polygon points="229.5,281.5 229.4,284.1 227.9,285.2 224.7,286.0 224.5,282.8"/><polygon points="197.3,273.6 194.8,275.2 191.6,272.2 196.4,270.8"/><polygon points="217.8,277.9 218.1,275.6 221.8,275.0 221.8,277.2"/><polygon points="202.1,256.5 204.6,254.7 208.4,257.9"/><polygon points="228.0,271.6 227.7,268.9 232.0,269.6"/><polygon points="223.9,259.0 227.0,260.5 223.5,263.5 221.4,264.6 220.0,259.4"/><polygon points="226.9,264.4 226.8,267.0 224.4,267.3 222.8,264.2"/><polygon points="234.0,261.5 228.0,262.7 229.5,258.6 235.4,259.4"/><polygon points="190.3,254.1 186.4,253.4 184.6,251.7 184.6,250.0 188.3,249.6"/><polygon points="212.6,261.6 210.2,265.7 205.1,263.9 206.5,260.0"/><polygon points="185.9,265.9 182.1,267.1 180.5,265.3 182.9,263.5"/><polygon points="193.7,254.8 194.4,256.7 192.4,257.4 190.8,255.9 191.3,255.4"/><polygon points="192.3,263.0 197.1,264.0 193.6,266.1"/><polygon points="182.9,255.6 187.5,255.5 184.6,257.9"/><polygon points="208.7,268.8 213.8,269.9 212.1,272.8"/><polygon points="196.4,254.4 191.7,253.9 192.1,252.8 196.2,252.3"/><polygon points="234.9,263.2 235.6,266.2 232.2,265.9 231.9,264.6"/><polygon points="199.2,249.6 203.1,249.6 206.4,253.4 202.1,254.6 199.2,253.3"/></g>
</g>
<g fill="#5e4a10"><polygon points="166.4,266.6 166.3,265.7 168.7,266.3 168.9,267.7 166.8,267.3"/><polygon points="183.5,271.6 184.1,271.0 185.6,270.9 185.5,271.4 185.1,272.1"/><polygon points="198.9,274.8 197.0,275.9 196.3,274.0"/><polygon points="164.9,264.9 164.4,263.3 167.7,264.8"/><polygon points="212.0,271.2 211.9,272.0 210.8,272.1 210.4,271.3 210.8,271.2"/><polygon points="151.1,266.1 152.6,265.7 152.9,266.7"/><polygon points="153.6,266.6 153.9,268.1 151.6,267.8 151.6,266.4"/><polygon points="189.4,270.8 191.6,271.4 190.8,272.1 189.0,272.2"/><polygon points="225.7,280.0 224.3,279.4 225.3,278.8"/><polygon points="161.8,268.2 160.6,268.1 159.7,266.9 162.8,267.3"/><polygon points="184.6,258.0 184.4,258.9 182.9,258.3 183.2,257.7 183.8,257.5"/><polygon points="192.5,275.4 195.6,275.4 195.8,276.8 192.8,277.0"/><polygon points="223.0,279.9 221.1,279.2 222.0,278.5 224.4,278.6 224.6,279.4"/><polygon points="201.8,251.8 200.7,253.7 198.8,252.6 199.9,251.5"/><polygon points="170.6,252.8 168.9,253.6 167.5,252.6 168.8,252.2"/><polygon points="161.3,268.8 162.3,268.2 162.7,268.7 162.1,269.4"/><polygon points="187.3,268.2 184.8,267.9 185.1,265.6 186.4,266.1 187.2,267.4"/><polygon points="161.8,267.2 163.3,266.2 163.8,267.2"/><polygon points="189.2,266.8 188.8,267.1 187.7,267.2 187.1,266.2 188.2,266.1"/><polygon points="191.4,269.6 193.4,269.3 194.2,270.2 193.6,270.9 192.2,270.6"/><polygon points="228.8,269.6 229.0,268.4 231.3,268.0 232.1,269.8"/><polygon points="220.0,279.3 220.4,278.4 221.7,279.4"/><polygon points="209.7,273.0 210.5,271.8 212.5,272.1 211.5,273.8"/><polygon points="215.7,279.3 214.2,278.3 214.8,278.0 216.9,277.6 216.6,278.5"/><polygon points="202.6,253.1 200.1,253.3 201.8,251.7"/><polygon points="203.3,280.2 203.2,279.4 203.8,278.5 205.2,278.6 205.5,279.2"/><polygon points="202.1,252.8 204.0,252.5 204.4,253.5 202.0,253.6"/><polygon points="203.1,273.7 201.8,272.7 203.8,272.1"/><polygon points="196.3,264.3 196.9,265.2 194.2,265.5 194.6,264.5"/><polygon points="229.3,265.2 229.2,264.4 233.0,264.5 231.9,265.6"/><polygon points="202.1,259.3 202.0,259.9 200.2,259.6 200.8,259.1"/><polygon points="162.4,259.4 163.2,259.0 164.6,258.3 165.4,259.3 163.3,260.4"/><polygon points="190.9,268.0 192.4,268.5 191.0,269.8 189.8,268.7"/><polygon points="197.3,262.6 198.9,262.6 197.9,263.2"/><polygon points="198.5,260.4 196.7,259.5 196.9,258.1 199.7,258.4"/><polygon points="170.1,265.1 172.8,265.3 172.0,266.1"/><polygon points="195.5,270.2 196.4,269.6 197.7,269.7 196.4,270.7"/><polygon points="196.1,278.8 195.6,280.6 194.0,280.0 194.6,278.7"/><polygon points="184.6,269.2 183.4,268.8 182.7,268.2 184.3,267.8"/><polygon points="193.8,279.0 195.4,279.1 195.6,280.1 194.4,279.9 193.2,279.5"/><polygon points="185.7,254.3 184.7,253.9 185.8,253.3 186.1,253.5 186.5,254.3"/><polygon points="217.5,255.5 216.2,256.3 215.4,255.5"/><polygon points="199.7,250.0 201.4,250.6 200.2,251.7 199.5,251.2"/><polygon points="167.5,252.4 166.4,252.0 168.0,251.2 168.9,252.2"/><polygon points="152.6,261.2 153.9,261.3 153.2,262.2 151.9,262.0"/><polygon points="226.8,272.1 225.1,271.8 225.8,271.1 227.2,271.5"/><polygon points="177.5,250.5 180.7,251.0 180.3,252.1 178.3,252.0"/></g>
<g fill="#7d6416"><polygon points="179.0,262.5 178.8,263.3 176.9,262.6 177.0,261.0 178.6,261.3"/><polygon points="184.9,259.9 182.9,260.8 182.0,259.4"/><polygon points="220.5,281.9 222.0,281.5 222.8,282.5 222.1,283.0 221.1,282.7"/><polygon points="206.5,266.7 204.2,266.0 205.4,265.1"/><polygon points="201.7,249.3 203.1,249.3 203.1,250.3 201.7,250.6 201.4,250.1"/><polygon points="196.8,255.7 198.3,254.0 200.1,254.8 198.3,256.2"/><polygon points="173.6,262.6 173.1,261.9 175.5,261.4 175.1,263.2"/><polygon points="175.8,264.2 176.0,265.8 173.5,265.2 173.9,264.2"/><polygon points="228.1,266.4 229.7,266.6 229.7,267.5 228.9,267.3 228.1,267.2"/><polygon points="171.5,252.3 172.7,251.4 173.4,252.4 172.2,253.0"/><polygon points="213.0,271.3 211.1,272.1 210.8,270.8"/><polygon points="198.7,255.1 195.9,253.6 198.6,253.0"/><polygon points="209.5,276.9 211.4,276.4 213.5,277.7 210.8,279.0"/><polygon points="191.0,262.1 192.4,260.4 194.5,260.8 193.3,262.6"/><polygon points="202.8,258.4 201.6,258.2 202.0,257.1 204.3,257.3"/><polygon points="213.4,261.5 214.5,260.8 214.9,261.7"/><polygon points="173.3,264.8 174.2,265.5 173.7,265.9 172.7,265.5"/><polygon points="225.9,264.6 228.3,265.2 226.8,266.2"/><polygon points="210.2,267.1 211.2,268.4 209.8,269.2 207.7,268.6"/><polygon points="208.8,277.8 208.7,276.9 210.2,276.6 209.9,277.1"/><polygon points="160.9,262.2 162.4,262.0 162.2,262.5 160.8,262.6"/><polygon points="191.2,254.2 189.3,254.0 189.7,253.0 191.1,252.9"/><polygon points="177.2,258.8 177.0,257.7 178.9,257.9 178.6,258.8"/><polygon points="171.1,256.4 169.1,257.0 168.8,255.7"/><polygon points="181.9,248.7 181.7,249.8 180.0,249.9 178.7,248.8 179.0,248.0"/><polygon points="172.6,258.3 175.6,257.6 175.6,259.2 173.0,259.8"/><polygon points="204.8,251.1 203.5,251.1 203.5,250.7 204.7,250.5"/><polygon points="192.9,261.5 193.0,260.3 194.4,260.3 195.0,261.2"/></g>
<g fill="#8f731b"><polygon points="199.3,269.9 199.9,270.7 198.3,270.7 197.8,270.2"/><polygon points="210.2,263.8 211.8,262.1 213.9,263.7"/><polygon points="223.4,259.1 225.9,258.9 225.3,260.6"/><polygon points="213.5,255.6 210.4,255.5 210.7,254.5 213.3,254.8"/><polygon points="170.6,252.0 171.5,252.6 171.4,253.6 169.4,253.1"/><polygon points="168.9,270.2 168.9,269.4 170.0,269.0 170.3,269.3 169.9,270.0"/><polygon points="191.6,260.4 189.9,261.3 189.4,260.3"/><polygon points="199.4,265.5 198.0,267.3 195.7,266.6"/><polygon points="175.7,264.3 175.1,265.0 174.4,264.2 174.9,263.9"/><polygon points="213.0,264.6 212.7,265.3 210.7,265.5 211.4,264.5 211.8,264.1"/><polygon points="199.1,270.3 196.6,270.1 197.3,268.3 200.1,268.5"/><polygon points="184.0,256.6 186.2,257.0 185.1,258.5"/><polygon points="205.9,274.7 207.5,274.3 207.9,274.8 206.7,275.6"/><polygon points="154.1,267.5 156.4,267.7 155.4,268.6"/><polygon points="215.6,260.0 218.5,260.2 217.4,261.2 214.2,260.9"/><polygon points="173.5,263.9 175.0,263.9 175.7,265.5 172.7,265.0"/><polygon points="165.0,255.8 163.4,256.3 161.9,255.6 163.7,254.4"/><polygon points="177.6,267.9 179.1,268.5 177.6,269.4"/><polygon points="196.1,269.4 193.2,269.9 193.8,268.7 196.4,268.5"/><polygon points="208.3,259.7 207.7,258.9 208.5,258.4 210.2,258.5 209.6,259.1"/><polygon points="217.5,275.0 216.8,276.9 215.3,275.7"/><polygon points="204.1,259.7 204.9,258.9 206.2,259.3 205.1,260.1"/><polygon points="194.9,266.1 193.5,266.4 192.3,265.3 193.9,264.9 194.6,265.3"/><polygon points="220.9,260.3 223.0,259.8 223.6,261.2"/><polygon points="179.0,258.9 178.0,258.3 179.9,257.6 181.0,258.1 180.2,259.0"/><polygon points="165.7,255.0 168.0,255.7 166.7,256.8"/></g>
<g fill="#4a3a0c"><polygon points="168.3,253.1 169.4,253.1 168.9,254.2 167.8,254.1"/><polygon points="209.7,258.1 208.3,258.9 206.5,257.6 207.1,256.2"/><polygon points="176.6,266.0 179.2,267.3 177.4,268.2"/><polygon points="215.9,281.9 215.6,282.8 214.8,282.8 214.1,281.7 215.3,281.4"/><polygon points="199.2,257.4 199.6,256.1 200.8,256.2 201.7,257.3"/><polygon points="160.0,259.9 159.8,259.0 161.1,259.0 161.2,260.1"/><polygon points="216.9,260.5 215.3,261.4 214.5,260.2"/><polygon points="196.9,251.9 196.8,252.6 196.1,252.6 194.9,252.4 195.8,251.8"/><polygon points="218.4,258.0 221.1,257.9 219.3,259.0"/><polygon points="159.3,265.3 159.8,264.4 160.9,265.3 159.9,265.7"/><polygon points="209.6,275.9 211.4,274.9 212.5,276.5"/><polygon points="229.3,262.7 227.3,262.5 227.3,261.7 230.5,261.6"/><polygon points="167.2,257.7 166.8,258.5 165.5,257.9"/><polygon points="172.5,255.1 172.3,256.9 171.5,257.8 168.4,256.3"/><polygon points="206.4,268.6 204.6,268.5 205.5,267.3 207.7,266.9 207.4,267.8"/><polygon points="197.2,257.5 199.5,258.0 197.1,259.5 195.9,258.3"/><polygon points="155.5,262.2 157.0,260.0 159.0,260.9"/><polygon points="218.5,274.3 220.8,274.6 221.1,274.9 220.1,275.9 218.6,275.0"/><polygon points="157.7,265.9 157.0,265.8 157.1,264.8 158.4,265.3"/><polygon points="212.5,277.4 213.1,278.4 211.8,278.7 211.3,278.1"/><polygon points="207.5,270.8 205.8,269.9 206.6,269.1 208.0,268.9"/><polygon points="230.2,267.9 227.1,268.2 227.5,266.8 229.7,266.6"/><polygon points="206.9,273.5 207.6,272.8 208.7,273.3"/><polygon points="210.7,276.7 212.2,276.9 210.2,277.8"/><polygon points="193.1,261.1 194.2,260.1 195.6,260.8 194.3,261.2"/><polygon points="189.2,264.6 190.3,264.9 188.9,265.6 188.6,265.1 188.2,264.5"/><polygon points="229.4,271.1 231.5,271.2 231.6,271.9 230.4,272.4 228.9,272.2"/><polygon points="158.7,256.9 159.8,255.9 160.5,256.5 159.4,257.3"/><polygon points="204.2,271.9 203.8,271.5 204.4,270.6 205.2,270.9"/></g>
<g stroke="#5a4510" stroke-width="0.25" stroke-opacity="0.6" stroke-linejoin="round">
<g fill="#c9a52a"><polygon points="177.3,249.2 179.9,247.3 182.4,249.0"/><polygon points="223.9,273.1 225.8,270.8 227.8,272.6 225.7,273.5"/><polygon points="203.0,251.1 199.7,255.2 196.3,254.7 197.4,250.8"/><polygon points="189.2,255.2 184.7,254.7 185.5,252.2 189.3,252.5"/><polygon points="220.3,250.6 223.4,251.5 224.1,254.9 219.2,253.9"/><polygon points="217.0,266.9 219.5,269.2 214.2,270.8 214.0,266.2"/><polygon points="226.1,280.8 224.8,275.7 227.9,276.4 229.6,278.9"/><polygon points="192.2,256.0 187.5,254.4 188.7,252.2 194.2,253.0 195.3,254.5"/><polygon points="171.1,254.7 166.0,253.5 167.7,251.0 169.8,251.3 172.4,254.3"/><polygon points="184.2,267.2 181.9,267.3 179.6,265.3 181.0,264.9 182.6,265.2"/><polygon points="201.8,277.5 208.2,276.4 208.2,279.4 205.3,281.9 203.8,281.6"/><polygon points="214.0,267.7 216.1,266.7 218.3,270.3 215.0,270.8"/><polygon points="215.7,274.5 212.6,276.0 208.1,274.3 210.5,270.5"/><polygon points="187.5,267.6 189.1,271.2 184.9,269.9"/><polygon points="177.9,253.3 174.5,251.5 173.0,248.5 177.9,249.1 179.1,249.4"/><polygon points="225.4,270.1 230.1,270.4 230.4,274.2 224.2,274.1"/><polygon points="166.0,266.7 161.2,269.3 161.8,265.5"/><polygon points="206.4,267.7 204.0,266.5 207.4,265.5"/><polygon points="222.2,277.4 225.1,278.0 223.7,279.9 221.0,279.3"/><polygon points="215.7,280.2 210.7,279.6 213.2,276.5 217.2,276.7"/><polygon points="152.7,268.2 153.6,269.8 152.4,272.1 150.2,270.1"/><polygon points="187.1,261.6 189.6,262.1 187.5,264.8 185.5,263.3"/></g>
<g fill="#d6b538"><polygon points="224.2,283.1 222.0,280.1 226.3,280.7"/><polygon points="226.4,276.4 228.6,280.1 225.0,281.3 221.5,279.3 222.3,277.7"/><polygon points="224.2,259.8 227.3,259.8 223.9,262.0"/><polygon points="221.6,271.4 222.9,273.7 222.7,275.1 218.9,274.8"/><polygon points="164.9,266.1 164.8,267.8 161.6,268.0 160.9,265.4 163.9,264.8"/><polygon points="222.4,273.1 219.1,277.2 216.1,272.7"/><polygon points="193.7,252.7 190.9,253.4 189.3,251.6 191.6,249.7"/><polygon points="211.6,250.7 213.8,253.1 208.0,255.0 207.5,249.7"/><polygon points="198.9,257.1 195.1,258.0 195.4,255.4 198.3,256.1"/><polygon points="222.2,276.4 225.7,278.2 219.6,278.9"/><polygon points="202.5,268.3 204.2,265.9 205.8,267.5"/><polygon points="175.2,270.1 176.5,268.7 177.6,270.2 177.2,270.9"/><polygon points="214.6,262.3 215.9,258.3 221.1,262.3"/><polygon points="176.1,260.9 180.0,261.6 177.2,265.5"/><polygon points="180.4,269.0 183.2,268.7 183.6,270.2 181.5,270.7"/><polygon points="222.7,263.3 216.8,264.3 216.9,260.8 220.8,260.2"/><polygon points="222.5,259.7 227.4,257.7 230.7,261.1 224.7,262.1"/><polygon points="174.5,266.4 176.0,260.5 180.5,263.2"/><polygon points="183.8,272.7 179.6,272.6 177.6,270.9 182.8,268.6 183.4,271.0"/><polygon points="184.5,250.4 185.0,253.8 181.8,253.5 181.7,250.3"/><polygon points="183.7,270.2 184.2,273.2 181.7,273.1"/><polygon points="191.6,255.8 190.0,257.6 188.6,257.3 188.5,255.2 190.2,254.8"/><polygon points="170.5,263.1 167.1,262.0 166.5,257.3 170.4,256.3"/><polygon points="233.5,258.7 233.9,261.3 231.2,262.1 230.2,260.0"/><polygon points="233.5,262.5 230.3,262.4 228.9,260.5 231.4,259.0 234.6,260.0"/></g>
<g fill="#b8921f"><polygon points="186.1,250.0 186.2,251.2 184.7,252.2 182.6,251.3 183.7,250.3"/><polygon points="214.2,284.6 215.2,281.3 219.0,282.9"/><polygon points="234.3,282.6 230.6,285.2 228.3,282.6"/><polygon points="160.6,256.9 164.5,255.7 166.9,257.5 163.9,259.0 160.4,258.2"/><polygon points="153.4,267.6 157.4,269.1 155.0,272.3 152.8,270.1"/><polygon points="204.3,261.0 206.4,265.2 203.6,264.6 199.9,262.1"/><polygon points="179.6,259.6 181.8,261.1 179.6,264.9 177.2,261.7"/><polygon points="212.2,262.6 209.5,261.5 209.2,258.6 213.3,260.2"/><polygon points="190.0,256.0 192.5,251.7 196.6,254.0"/><polygon points="171.7,261.5 167.7,264.3 165.1,259.9"/><polygon points="219.9,268.0 222.9,267.6 223.2,269.9 221.5,271.4 219.1,269.6"/><polygon points="217.4,264.7 220.0,263.3 221.6,263.1 223.2,265.1 219.6,266.7"/><polygon points="203.1,277.1 204.0,274.2 205.6,274.9 204.9,277.3"/><polygon points="172.0,257.2 174.7,257.2 172.4,258.6"/><polygon points="211.8,253.4 209.0,252.9 207.4,251.2 210.5,249.7 212.6,250.0"/><polygon points="227.6,274.0 225.5,277.7 221.5,277.6 220.0,275.0 223.0,273.7"/><polygon points="210.0,257.8 211.1,260.2 205.8,262.9 203.3,259.8"/><polygon points="149.8,268.4 146.5,266.5 148.2,265.0 151.0,266.7"/><polygon points="231.8,280.9 231.4,278.4 234.8,279.1"/><polygon points="204.6,260.8 210.4,261.7 211.1,265.1 205.0,265.0"/><polygon points="227.3,271.2 229.1,270.6 230.0,273.7 227.7,273.9"/><polygon points="193.2,253.8 193.8,250.0 198.6,250.0 199.6,252.7 196.8,254.9"/><polygon points="166.2,269.3 168.8,269.0 171.4,270.8 169.0,272.4 167.2,271.4"/><polygon points="176.8,250.2 177.8,250.8 177.4,252.8 175.2,252.2"/><polygon points="219.9,274.4 218.2,271.9 223.1,271.5 222.5,274.1"/></g>
<g fill="#e0c24a"><polygon points="196.2,258.0 195.3,255.5 196.8,254.8 199.9,253.4 200.4,257.0"/><polygon points="202.1,269.0 199.9,271.2 197.3,270.3 197.9,268.4 200.3,268.1"/><polygon points="184.9,273.6 186.4,270.6 190.7,273.7 188.3,274.5"/><polygon points="230.9,276.1 229.6,277.9 226.9,276.7 224.8,274.8 227.9,273.5"/><polygon points="173.3,247.4 174.7,249.3 172.4,251.4 169.3,249.1"/><polygon points="196.6,268.9 197.0,273.8 189.7,273.0 190.9,269.1"/><polygon points="224.5,286.4 224.8,283.6 226.8,285.3"/><polygon points="229.5,283.6 228.3,282.9 226.7,282.0 229.6,281.3 231.6,281.9"/><polygon points="209.0,253.5 209.6,251.2 213.2,251.6 213.1,253.9"/><polygon points="178.1,250.5 174.1,250.1 173.5,246.1 177.8,247.3"/><polygon points="211.5,259.6 209.9,258.1 209.9,255.0 214.1,253.6 216.2,257.5"/><polygon points="156.4,263.8 153.7,265.3 149.2,262.9 152.2,259.5"/><polygon points="189.7,273.3 192.7,270.9 194.1,272.7 192.1,274.5"/><polygon points="223.5,255.1 227.6,254.1 228.6,258.1 224.7,259.6 223.3,257.4"/><polygon points="162.3,261.2 156.8,258.6 158.9,254.5 163.9,256.7"/><polygon points="159.0,260.5 162.7,259.7 162.9,263.5 157.6,263.8"/><polygon points="174.2,265.7 175.5,268.3 172.1,269.2 167.7,267.0"/><polygon points="159.7,257.9 159.5,263.3 155.7,262.4 154.2,259.5 154.4,258.5"/><polygon points="162.7,253.1 163.0,254.6 160.3,254.0 161.4,252.8"/><polygon points="223.3,284.7 228.8,282.2 228.8,286.3"/><polygon points="215.0,279.5 216.4,278.8 217.7,281.5 215.3,281.2"/><polygon points="223.9,268.3 226.3,267.8 226.4,269.9 224.2,271.0"/><polygon points="203.3,263.8 199.4,260.9 202.7,259.5 206.1,261.9"/><polygon points="205.8,257.0 208.2,252.1 213.0,255.9 209.8,258.9"/><polygon points="179.2,265.6 178.7,262.8 182.7,264.3"/><polygon points="150.7,265.1 153.9,262.9 155.1,267.3"/></g>
<g fill="#c29c24"><polygon points="229.2,262.5 228.6,259.9 232.0,260.9"/><polygon points="199.1,270.1 202.2,272.3 197.8,275.6 195.3,273.3"/><polygon points="170.9,264.3 175.1,264.9 175.6,267.8 173.6,268.0 170.6,266.8"/><polygon points="201.6,277.4 204.0,278.6 204.0,280.4 200.7,280.5 199.7,276.7"/><polygon points="166.0,255.4 164.9,257.0 163.3,257.8 161.9,254.9 164.7,254.8"/><polygon points="166.7,259.5 162.6,258.7 163.3,257.4 166.9,258.6"/><polygon points="232.1,266.1 230.2,264.9 231.6,263.1 234.1,264.7"/><polygon points="195.9,266.0 192.4,266.1 192.6,262.7"/><polygon points="192.7,263.8 189.7,259.9 197.1,259.2"/><polygon points="226.4,277.5 221.8,277.4 223.3,275.5"/><polygon points="216.8,275.0 213.5,274.8 218.9,270.5 220.4,273.0"/><polygon points="221.4,275.0 224.2,272.9 225.4,273.7 223.9,277.4"/><polygon points="186.8,267.5 189.4,266.7 191.5,269.9 188.0,269.8"/><polygon points="199.9,277.4 203.2,276.0 203.0,278.1 199.7,278.9"/><polygon points="198.3,279.8 202.1,276.3 201.6,279.0"/><polygon points="158.0,254.5 162.9,257.3 156.7,258.7"/><polygon points="199.1,270.9 199.2,269.0 203.7,266.4 204.2,269.8"/><polygon points="203.3,259.5 208.9,258.7 210.8,262.6 205.9,262.9"/><polygon points="184.7,256.4 182.0,258.9 176.2,258.9 176.1,257.5 180.2,254.3"/><polygon points="198.0,256.5 195.3,256.8 194.2,253.5 198.4,252.8 200.5,254.8"/><polygon points="197.1,253.5 198.1,250.0 200.6,251.3"/><polygon points="182.6,268.4 187.8,271.4 182.6,273.3"/><polygon points="191.1,252.1 188.0,254.3 186.9,252.7 187.7,250.2 189.7,249.4"/><polygon points="185.6,255.6 189.1,257.5 183.7,257.6"/></g>
<g fill="#d1ad30"><polygon points="183.0,254.8 182.2,251.4 186.5,253.3"/><polygon points="151.7,264.0 151.8,267.0 150.5,265.7"/><polygon points="206.9,252.7 209.0,254.0 206.4,256.1 203.5,254.7"/><polygon points="198.5,276.4 200.3,274.2 203.0,276.1 200.1,278.6"/><polygon points="186.4,251.7 188.1,250.3 190.0,249.6 192.6,252.0 188.6,253.4"/><polygon points="211.4,257.1 207.8,255.3 208.1,252.1 212.2,254.6"/><polygon points="214.1,282.2 211.0,283.4 210.0,281.7 212.6,280.9"/><polygon points="156.7,263.9 159.4,266.0 156.7,266.8"/><polygon points="192.3,263.6 187.5,265.2 185.5,261.9 190.4,261.4"/><polygon points="212.4,275.6 210.6,275.1 210.7,273.0 214.4,274.7"/><polygon points="233.1,268.0 231.0,264.6 235.6,263.3 237.1,267.0"/><polygon points="218.0,275.0 219.7,278.1 216.0,278.9 215.2,275.7"/><polygon points="195.2,250.6 198.5,251.4 198.8,253.5 196.5,254.2 193.1,252.1"/><polygon points="209.1,272.8 206.0,273.6 206.5,270.6"/><polygon points="195.6,277.4 193.4,277.9 193.7,275.2 197.0,275.9"/><polygon points="167.0,253.9 169.2,254.1 170.9,257.5 166.7,257.3"/><polygon points="209.7,282.7 205.9,280.7 208.3,278.0 211.9,279.1"/><polygon points="167.6,264.4 165.8,264.3 165.4,261.6 168.5,261.9"/><polygon points="211.2,258.3 208.6,256.3 215.0,255.1 215.5,256.8"/><polygon points="185.2,255.8 190.0,254.3 192.6,255.7 191.7,258.9 186.3,258.3"/><polygon points="194.1,273.2 190.8,272.8 191.3,269.1"/><polygon points="210.0,272.4 207.9,270.3 210.9,267.4 216.5,268.2 215.1,271.1"/></g>
</g>
<g fill="#5e4a10"><polygon points="219.2,255.8 221.5,256.9 219.0,257.1"/><polygon points="195.2,259.1 195.9,257.8 196.5,258.0 197.2,259.1"/><polygon points="173.4,251.7 175.9,252.1 175.3,252.9 174.0,253.7 172.6,252.5"/><polygon points="216.1,266.3 214.8,265.8 214.4,265.2 216.3,265.0 216.1,265.9"/><polygon points="219.1,265.7 216.6,267.3 215.4,265.6 218.1,264.9"/><polygon points="176.5,261.3 177.6,261.2 178.4,261.7 178.0,262.9 176.1,262.5"/><polygon points="183.2,251.0 181.6,250.0 182.8,249.6 184.2,250.1"/><polygon points="171.8,258.3 170.8,256.7 173.0,256.6 174.3,257.8"/><polygon points="223.4,279.1 221.9,279.1 221.7,278.2 222.6,278.1"/><polygon points="195.7,279.5 193.7,278.9 195.7,278.4"/><polygon points="198.9,261.8 199.0,262.3 198.1,263.1 197.1,262.1 197.7,261.4"/><polygon points="191.9,273.1 190.2,272.6 191.4,271.7"/><polygon points="214.9,251.6 214.9,250.7 216.2,251.2"/><polygon points="199.9,269.8 201.7,269.6 201.2,270.5"/><polygon points="210.4,269.7 211.4,270.3 208.9,270.6"/><polygon points="161.0,265.1 162.7,264.8 162.8,265.5 160.9,265.7"/><polygon points="214.9,267.5 213.8,265.8 217.1,266.4"/><polygon points="181.1,254.7 182.8,253.3 183.8,254.1 182.1,255.1"/><polygon points="211.0,274.6 209.3,275.4 208.8,274.6 210.2,274.0"/><polygon points="225.8,264.7 227.2,263.4 228.3,264.9"/><polygon points="228.8,268.0 229.9,270.2 226.5,269.2"/><polygon points="223.6,255.5 225.3,255.2 225.9,256.1 223.9,256.9 223.2,256.2"/><polygon points="177.9,254.4 177.1,256.4 175.8,256.2 175.3,255.1"/><polygon points="215.1,274.8 217.2,275.5 215.1,275.7"/><polygon points="158.5,270.3 157.9,271.0 156.4,270.7 157.2,269.9"/><polygon points="220.6,281.5 220.6,282.9 218.8,281.8"/><polygon points="174.8,255.4 172.4,256.8 170.6,254.7 172.2,254.4"/><polygon points="201.6,268.4 200.7,268.6 199.8,267.7 201.0,267.6"/><polygon points="211.4,255.5 211.6,256.4 209.4,256.6 208.6,255.8 209.9,255.1"/><polygon points="205.3,263.0 205.5,264.6 203.5,264.3"/><polygon points="175.8,252.7 177.1,252.4 176.6,253.3"/><polygon points="194.9,264.2 193.7,263.3 193.2,262.4 195.6,262.6"/><polygon points="214.1,261.7 214.5,260.8 216.0,261.2 215.8,262.1"/><polygon points="202.2,264.8 202.4,265.6 200.3,265.2"/><polygon points="222.8,257.5 221.0,256.9 223.2,255.9 223.8,257.2"/><polygon points="216.2,272.9 214.8,273.0 214.6,272.5 215.8,272.2"/><polygon points="212.7,277.0 212.6,278.2 210.5,278.3 210.7,276.9"/><polygon points="184.6,256.8 184.3,257.1 182.7,256.8 183.5,256.3"/><polygon points="205.8,260.0 203.7,260.2 203.6,259.0"/><polygon points="170.2,266.3 173.4,265.4 173.8,267.3"/><polygon points="221.7,259.2 223.0,259.5 223.9,260.5 222.2,261.7 220.7,260.3"/><polygon points="171.3,263.1 170.9,262.4 172.4,262.1 173.7,262.8"/><polygon points="197.9,264.3 195.8,265.7 196.0,264.0"/><polygon points="158.0,265.1 156.3,265.4 155.6,264.7 157.9,264.4"/></g>
<g fill="#7d6416"><polygon points="212.2,251.7 212.4,252.7 209.9,252.3 211.1,251.1"/><polygon points="198.1,279.5 198.3,278.4 200.0,279.3"/><polygon points="213.7,254.0 212.1,254.3 210.8,253.6 212.2,252.8 213.8,252.8"/><polygon points="166.0,260.9 168.8,261.2 168.6,262.1 166.9,262.6"/><polygon points="207.0,271.4 206.8,272.5 205.8,272.8 204.8,272.0 205.6,271.5"/><polygon points="224.4,276.9 226.2,278.1 224.2,278.5 223.3,277.4"/><polygon points="192.1,263.6 191.9,262.6 194.4,262.6 194.4,263.5"/><polygon points="190.5,252.9 191.7,253.9 190.5,254.9 189.7,254.3"/><polygon points="203.0,260.8 202.2,262.8 199.6,261.9"/><polygon points="216.4,278.7 219.5,279.1 217.4,279.5"/><polygon points="155.6,269.5 154.5,270.4 153.3,269.7 154.3,268.7"/><polygon points="214.5,275.5 214.8,276.3 213.6,276.1"/><polygon points="228.0,269.3 228.0,270.8 224.7,270.6"/><polygon points="180.6,264.8 180.8,265.2 179.9,265.8 178.7,265.5 179.0,265.1"/><polygon points="193.0,273.1 194.3,272.9 195.2,273.9 193.3,274.2 192.3,274.3"/><polygon points="157.6,261.3 158.9,262.8 157.1,262.9 156.5,262.6 155.3,261.5"/><polygon points="190.9,251.2 190.0,250.6 190.6,249.3 192.2,250.4"/><polygon points="153.0,269.3 150.6,269.0 151.3,267.8 153.0,268.3"/><polygon points="187.6,257.4 189.1,256.4 191.0,257.4 189.6,258.0"/><polygon points="200.9,251.3 199.8,251.3 200.4,250.2 201.1,250.2 201.7,251.0"/><polygon points="224.2,258.5 224.2,259.5 222.7,259.6 222.6,258.5"/><polygon points="197.7,257.1 195.8,257.7 196.2,256.4"/><polygon points="157.9,266.6 158.9,267.2 159.6,268.2 157.5,268.7"/><polygon points="221.5,260.3 219.5,259.3 221.4,259.2"/><polygon points="162.6,264.8 160.0,264.2 163.3,263.2"/></g>
<g fill="#8f731b"><polygon points="180.6,247.7 181.1,247.1 183.5,247.1 182.3,248.5"/><polygon points="213.0,265.2 212.1,263.7 213.1,263.3 214.9,264.7"/><polygon points="204.8,264.7 205.5,263.9 206.7,264.1 206.9,264.7 206.1,265.3"/><polygon points="180.3,257.0 181.3,257.0 181.7,257.9 180.8,258.5"/><polygon points="167.6,265.9 167.1,266.9 164.8,267.3 165.4,266.2"/><polygon points="215.0,282.0 212.3,282.3 211.2,281.5 212.9,280.4 214.0,281.2"/><polygon points="197.4,267.2 198.2,266.7 199.0,267.1 198.3,267.8"/><polygon points="183.8,262.3 184.4,263.4 181.5,263.6"/><polygon points="153.8,265.3 154.5,266.7 152.5,266.6 151.7,266.0 152.3,265.4"/><polygon points="155.0,260.9 154.0,261.5 153.2,260.9 154.7,260.6"/><polygon points="162.9,262.3 161.4,261.9 162.5,260.7 163.2,261.5"/><polygon points="227.2,277.0 225.5,276.9 227.3,276.0"/><polygon points="226.9,276.1 224.2,276.3 224.2,274.5 226.2,274.1 226.7,275.4"/><polygon points="168.4,254.8 165.9,253.2 168.0,252.7"/><polygon points="153.7,266.0 155.0,267.3 153.7,267.9"/><polygon points="203.3,280.1 201.1,280.7 201.0,279.4 201.6,278.8"/><polygon points="166.3,259.4 165.8,257.3 168.0,257.1 169.8,258.5 167.9,259.1"/><polygon points="217.7,259.1 219.7,260.5 217.7,261.3 217.3,261.2 216.1,259.9"/><polygon points="209.3,267.2 209.2,268.0 208.0,268.4 208.0,267.1"/><polygon points="196.9,270.7 195.4,270.6 195.1,269.8 195.9,269.5 197.2,270.0"/><polygon points="196.9,271.2 196.5,272.7 195.2,272.3 194.6,271.4"/><polygon points="183.5,247.8 183.1,246.4 185.5,246.6 185.5,247.9"/><polygon points="202.1,255.1 201.4,253.8 203.0,252.8 204.9,253.5"/><polygon points="224.7,265.7 223.8,265.5 223.1,264.5 224.5,263.7 226.4,264.6"/><polygon points="190.3,271.0 191.4,272.0 189.9,272.0 189.0,271.5"/><polygon points="225.5,280.9 224.4,280.6 225.1,279.9"/><polygon points="150.2,267.7 151.0,267.0 151.8,267.1 151.9,267.8 150.8,268.3"/><polygon points="168.8,256.8 169.3,257.1 168.8,257.7 168.3,257.6 168.0,257.3"/><polygon points="219.2,264.5 218.8,263.4 219.9,262.8 221.6,263.1 220.9,265.0"/><polygon points="177.6,270.6 176.0,269.4 177.5,268.8 179.8,268.7 179.8,270.2"/></g>
<g fill="#4a3a0c"><polygon points="185.8,258.9 184.4,258.8 185.4,258.2"/><polygon points="186.3,265.3 188.3,264.0 188.4,265.8"/><polygon points="177.5,249.2 176.5,249.1 176.2,248.5 177.3,248.0 177.8,248.6"/><polygon points="193.6,274.3 192.9,274.6 193.0,273.9"/><polygon points="223.5,263.8 224.7,263.3 226.2,264.0 224.7,264.6"/><polygon points="226.8,257.6 223.1,257.6 223.3,256.3 224.2,255.7 226.0,256.9"/><polygon points="180.6,269.8 179.4,270.7 177.6,270.3 179.3,269.2"/><polygon points="175.0,248.2 176.3,248.7 175.1,249.6 174.4,248.9"/><polygon points="222.7,264.8 219.7,264.8 220.3,263.3 221.7,262.7"/><polygon points="170.9,257.3 169.8,257.0 171.2,256.3 172.0,256.1 172.4,257.2"/><polygon points="200.9,253.9 200.9,252.5 203.3,252.9 203.3,254.5"/><polygon points="214.3,271.9 215.3,270.8 217.9,271.7 216.3,272.7"/><polygon points="216.2,280.5 216.1,279.8 218.7,279.3 219.2,280.6"/><polygon points="215.0,256.7 216.9,255.2 218.5,256.1 216.7,257.1"/><polygon points="165.7,264.5 163.6,264.9 165.1,263.5"/><polygon points="213.7,276.0 212.7,275.9 212.2,275.2 213.8,274.8"/><polygon points="196.6,257.5 194.9,257.5 194.8,255.2 196.3,255.5"/><polygon points="224.0,256.5 222.6,255.7 224.0,255.0 225.3,255.6"/><polygon points="202.4,279.9 200.7,281.1 199.1,280.2 199.7,279.1 201.1,279.0"/><polygon points="188.0,248.4 187.0,249.2 185.9,248.0 186.8,247.5"/><polygon points="215.6,260.0 214.7,258.7 217.6,259.3"/><polygon points="226.4,257.1 225.0,256.7 225.8,256.3"/><polygon points="183.0,255.9 184.4,256.0 184.4,256.8 182.7,256.4"/><polygon points="225.5,262.6 227.3,264.0 226.0,264.0"/><polygon points="227.4,275.6 229.9,275.2 229.0,276.9"/><polygon points="199.0,272.3 198.1,274.4 196.3,273.7 196.6,272.2"/><polygon points="188.7,248.1 188.8,247.2 191.8,248.1 190.6,249.0"/><polygon points="224.1,281.3 222.9,280.7 224.2,280.0 225.4,280.8"/><polygon points="205.3,277.1 203.3,276.3 204.6,275.6"/><polygon points="230.1,259.1 228.6,260.0 227.8,259.1 228.9,257.9 229.5,257.8"/><polygon points="222.3,255.1 224.1,255.3 223.8,256.3 222.6,256.2"/></g>
<g stroke="#5a4510" stroke-width="0.25" stroke-opacity="0.6" stroke-linejoin="round">
<g fill="#c9a52a"><polygon points="207.7,249.5 209.0,251.2 205.7,252.2 203.8,250.4"/><polygon points="186.4,263.2 182.7,259.9 188.5,259.0"/><polygon points="228.5,266.1 224.3,266.0 225.7,263.1"/><polygon points="203.5,283.4 201.7,283.7 200.2,283.0 201.7,281.4 204.4,282.2"/><polygon points="167.4,265.4 170.5,262.7 173.4,264.0"/><polygon points="220.4,258.7 220.9,263.3 217.5,262.0"/><polygon points="190.8,266.5 192.0,268.9 186.2,269.2"/><polygon points="196.3,267.5 198.2,264.4 201.1,266.6 200.4,268.6"/><polygon points="177.6,263.7 174.4,260.3 179.8,261.3"/></g>
<g fill="#d6b538"><polygon points="203.2,268.0 201.0,269.4 199.6,266.0 203.1,266.7"/><polygon points="179.3,249.8 178.0,246.7 180.2,243.5 184.0,246.0"/><polygon points="205.3,276.7 202.8,276.7 201.6,276.4 202.3,274.4 205.1,275.8"/><polygon points="204.6,254.4 202.4,256.1 201.6,252.5"/><polygon points="232.6,262.2 234.3,263.3 231.6,265.8 230.3,265.8 229.1,263.3"/><polygon points="232.6,270.1 229.6,271.3 227.8,269.6 231.2,268.7"/><polygon points="166.4,268.7 169.1,267.7 170.1,270.7 167.1,271.9"/><polygon points="179.8,251.4 181.2,256.0 177.5,256.3 176.7,253.6"/><polygon points="229.8,265.9 231.0,267.8 228.4,268.9 226.7,266.5"/><polygon points="190.0,250.2 193.3,252.6 186.2,253.1"/></g>
<g fill="#b8921f"><polygon points="223.1,276.7 223.4,279.7 219.2,278.6 221.7,275.3"/><polygon points="218.7,270.7 222.0,271.4 219.6,274.3 218.5,273.4"/><polygon points="193.4,277.4 191.2,276.5 193.3,275.3"/><polygon points="188.5,260.2 185.8,260.9 185.8,258.5 187.8,257.7"/><polygon points="215.4,282.8 217.2,282.1 219.0,283.3 217.2,284.7"/><polygon points="195.9,253.2 194.9,251.3 198.8,250.3 199.0,252.8"/></g>
<g fill="#e0c24a"><polygon points="213.3,259.8 215.0,257.8 217.6,258.7 216.2,260.7"/><polygon points="192.7,253.4 192.8,251.0 195.5,251.0 198.7,252.8 192.3,255.1"/><polygon points="201.3,254.3 197.5,256.1 196.6,253.0"/><polygon points="156.8,258.9 155.6,255.8 160.1,257.3 161.2,259.3"/><polygon points="198.7,259.4 196.0,259.6 194.6,256.1 200.7,256.8"/><polygon points="174.7,263.5 173.0,265.4 170.8,265.7 170.9,263.5"/><polygon points="196.9,257.6 193.6,257.3 193.3,253.4 196.6,253.4"/><polygon points="206.5,280.6 205.5,279.1 207.8,276.8 210.3,279.3"/><polygon points="189.0,250.2 188.7,246.6 190.9,249.5"/><polygon points="234.0,260.2 232.7,263.6 230.0,262.5 230.0,259.9"/><polygon points="195.3,267.5 198.2,266.4 199.2,269.1 195.2,270.2 194.5,268.5"/></g>
<g fill="#c29c24"><polygon points="170.2,257.6 168.1,255.5 170.8,255.1"/><polygon points="227.8,278.2 231.8,274.5 235.9,278.4 232.3,281.8"/><polygon points="229.5,267.8 226.2,270.4 222.5,269.2 226.0,265.1"/><polygon points="225.7,260.2 230.3,261.0 228.7,262.5 225.6,262.9"/><polygon points="201.6,272.8 202.1,274.0 200.8,275.4 199.4,274.3 199.3,273.5"/><polygon points="230.5,271.5 231.3,273.7 228.6,273.5"/><polygon points="220.2,281.0 221.7,278.0 225.2,278.3 226.1,280.8"/><polygon points="220.2,275.7 217.6,276.3 215.1,274.3 217.1,272.8 220.5,273.9"/><polygon points="220.0,273.6 217.7,273.7 217.9,272.6 219.8,271.7"/><polygon points="157.9,264.8 157.8,266.9 155.8,268.8 154.0,267.9 155.6,265.5"/></g>
<g fill="#d1ad30"><polygon points="202.9,267.8 200.5,269.4 197.3,268.4 198.8,265.1 201.3,265.1"/><polygon points="230.8,280.4 229.8,278.5 230.3,275.8 234.3,277.8"/></g>
</g>
<g fill="#5e4a10"><polygon points="206.6,267.9 207.5,269.0 205.4,269.4"/><polygon points="181.7,251.4 181.4,249.9 184.2,250.2"/><polygon points="188.8,267.6 189.5,265.2 191.9,266.8"/><polygon points="220.9,270.5 218.9,272.4 218.3,270.7"/><polygon points="174.0,261.0 176.2,261.7 175.3,262.8 173.1,262.0"/><polygon points="192.9,256.1 194.1,256.0 194.7,256.6 193.2,256.8"/><polygon points="220.1,264.9 220.1,265.8 216.7,265.3 218.5,264.0"/><polygon points="169.0,265.5 170.3,264.6 173.1,266.0 171.7,266.9 169.4,266.6"/><polygon points="181.0,269.3 178.5,269.6 178.7,268.4 180.8,267.6 181.9,268.5"/><polygon points="181.6,247.2 182.4,247.5 181.6,248.7 180.5,247.7"/><polygon points="192.8,265.5 193.8,264.5 195.5,265.3 194.0,265.7"/><polygon points="214.7,268.5 214.3,267.0 216.2,267.5"/><polygon points="179.2,247.7 178.0,247.2 179.3,246.8"/><polygon points="202.2,257.9 204.9,257.7 204.6,259.3"/><polygon points="213.0,258.2 215.3,259.8 214.0,260.3 212.8,260.3 212.4,259.2"/></g>
<g fill="#7d6416"><polygon points="226.5,259.6 226.4,258.5 228.5,258.7 228.6,259.8"/><polygon points="200.7,276.0 199.2,277.1 198.3,275.8"/><polygon points="185.9,267.6 184.6,267.8 184.7,266.5 186.1,266.8"/><polygon points="205.3,274.8 209.6,274.7 208.0,276.0"/><polygon points="177.6,249.4 176.9,250.1 175.5,249.4 176.4,248.4"/><polygon points="223.3,265.1 225.7,265.4 225.4,266.9 223.3,266.4"/><polygon points="198.4,271.7 198.0,270.6 200.3,270.1 201.6,271.5"/><polygon points="226.2,271.4 227.5,271.8 226.9,272.7 225.0,272.6"/><polygon points="153.6,270.4 152.3,270.3 153.5,269.8"/><polygon points="198.6,257.8 200.1,258.1 198.9,258.5"/><polygon points="203.2,276.1 205.1,275.3 205.9,276.4 205.0,277.4"/><polygon points="224.3,267.7 225.1,268.4 223.4,268.9 222.6,268.5"/></g>
<g fill="#8f731b"><polygon points="214.9,280.8 213.9,281.3 212.5,281.1 212.2,280.8 213.2,280.1"/><polygon points="194.8,274.2 191.3,274.4 193.2,273.5"/><polygon points="219.2,282.9 216.9,282.7 218.4,281.9 219.9,282.4"/><polygon points="176.5,254.5 175.6,255.5 174.6,255.5 174.8,254.8 175.3,254.6"/><polygon points="189.3,251.8 189.8,251.1 190.3,250.9 191.6,251.5 190.9,252.4"/><polygon points="213.1,274.3 210.4,274.2 213.3,272.8"/><polygon points="189.3,256.8 191.6,254.9 192.8,257.2"/><polygon points="188.0,257.3 187.0,256.9 186.2,255.7 188.2,255.5 190.1,256.6"/><polygon points="210.9,266.9 209.7,266.1 211.2,265.4 212.9,266.5"/><polygon points="174.8,251.9 174.7,252.5 173.2,252.8 172.2,252.8 172.6,251.8"/><polygon points="216.2,252.6 213.9,251.6 215.1,251.2 216.4,251.5"/><polygon points="201.4,278.4 199.7,277.4 200.7,276.5 201.8,277.6"/><polygon points="208.2,256.8 211.1,256.3 209.0,258.5"/><polygon points="219.4,279.8 218.7,279.0 220.2,278.8"/><polygon points="159.8,268.8 158.6,268.7 158.2,267.9 159.7,267.9"/><polygon points="162.2,261.3 159.7,260.4 161.4,259.1 162.1,259.4 163.3,260.7"/></g>
<g fill="#4a3a0c"><polygon points="201.4,261.7 202.2,260.5 204.2,262.1"/><polygon points="210.1,279.0 206.7,278.1 209.7,277.5"/><polygon points="163.9,252.5 165.0,252.1 165.6,253.3"/><polygon points="193.2,249.8 195.6,248.8 196.8,249.8 194.1,250.7"/><polygon points="153.8,269.0 152.2,268.9 154.2,267.8 155.5,268.5"/><polygon points="157.5,266.9 157.1,268.9 154.4,268.8"/><polygon points="231.5,263.3 232.6,264.2 230.1,264.0"/><polygon points="186.0,251.3 184.6,250.8 185.2,249.8 186.6,250.6"/><polygon points="176.9,265.4 175.1,265.4 175.0,264.1 177.7,264.5"/><polygon points="152.5,267.1 151.4,267.5 151.0,266.6 151.7,266.3"/><polygon points="202.3,268.9 200.6,268.9 201.4,267.8"/><polygon points="203.3,260.6 204.0,261.5 201.4,260.9"/><polygon points="152.7,263.4 152.5,262.2 154.6,262.3 154.6,263.6"/><polygon points="199.5,270.1 200.4,270.0 201.5,270.1 201.2,271.0 200.2,270.9"/><polygon points="173.5,252.4 174.3,253.5 173.2,253.7 172.4,253.3"/><polygon points="166.9,261.7 168.7,261.8 169.2,262.3 167.3,262.5"/><polygon points="198.2,276.0 199.8,276.4 199.6,277.0 197.9,277.1 197.9,276.2"/><polygon points="205.1,272.3 206.9,274.0 204.6,274.7 203.4,273.4"/><polygon points="211.3,281.7 211.6,282.4 210.0,282.5"/><polygon points="212.2,266.7 213.7,267.9 210.6,268.1 210.0,267.0"/><polygon points="204.3,272.5 202.9,271.3 204.9,270.6 205.7,271.4"/></g>
<text x="191.3" y="291.2" font-family='"Liberation Serif", serif' font-size="8.2" font-weight="bold" text-anchor="middle" fill="#111" >Ti<tspan font-size="4.8" dy="2.5">3</tspan><tspan dy="-2.5" font-size="1">&#8203;</tspan>C<tspan font-size="4.8" dy="2.5">2</tspan><tspan dy="-2.5" font-size="1">&#8203;</tspan>@Co-LDH</text>
<text x="122.9" y="264.0" font-family='"Liberation Serif", serif' font-size="8.7" font-weight="bold" text-anchor="middle" fill="#111" >Annealing</text>
<path d="M142.6,267.1 H99 M142.6,268.5 H99" stroke="#4a4a4a" stroke-width="0.7" fill="none"/>
<path d="M102,265.4 L96,267.8 L102,270.2 L100.2,267.8 Z" fill="#fff" stroke="#4a4a4a" stroke-width="0.7"/>
<text x="124.7" y="277.6" font-family='"Liberation Serif", serif' font-size="8.2" font-weight="bold" text-anchor="middle" fill="#111" >(Ar/H<tspan font-size="4.8" dy="2.5">2</tspan><tspan dy="-2.5" font-size="1">&#8203;</tspan>)</text>
<g stroke="#3c3a12" stroke-width="0.25" stroke-opacity="0.6" stroke-linejoin="round">
<g fill="#cdc648"><polygon points="32.3,265.0 29.2,266.3 30.6,263.9"/><polygon points="62.6,279.3 64.8,280.4 62.4,282.9 59.6,280.3"/><polygon points="69.1,280.8 68.7,277.8 74.0,277.9 74.3,279.7"/><polygon points="60.2,272.9 59.3,275.4 56.8,274.1 58.8,272.6"/><polygon points="27.4,251.2 27.7,253.4 22.6,253.7 23.5,252.3 26.5,249.6"/><polygon points="26.0,262.4 29.8,261.2 30.9,263.5 27.2,266.0"/><polygon points="37.5,270.2 36.4,268.1 37.4,266.3 38.8,266.5 41.3,269.0"/><polygon points="49.1,261.6 50.1,262.9 47.7,264.5 44.6,262.5"/><polygon points="73.6,265.3 70.7,260.3 74.6,259.7 79.1,260.9"/><polygon points="18.1,260.7 14.1,264.0 15.3,259.2"/><polygon points="92.9,263.1 90.0,266.5 88.5,262.5"/><polygon points="77.9,255.0 78.8,257.3 77.7,258.4 75.0,255.9"/><polygon points="85.0,273.2 87.9,272.4 88.5,276.2 85.7,276.3 82.9,275.0"/><polygon points="53.0,281.8 58.0,280.6 57.1,284.1"/><polygon points="74.4,269.8 70.8,273.1 68.6,273.1 68.0,270.1"/><polygon points="18.6,261.6 23.1,260.7 21.3,263.6 18.8,263.4"/><polygon points="63.6,260.7 67.6,260.3 68.8,262.5 66.4,265.6 64.2,263.5"/><polygon points="30.0,258.9 31.5,256.9 33.7,259.2 31.8,260.7"/><polygon points="69.5,278.0 73.7,277.4 71.5,281.4"/><polygon points="28.3,269.0 26.4,269.7 25.2,268.2 27.6,266.7"/><polygon points="67.3,257.8 62.7,259.3 64.0,254.6"/><polygon points="78.1,279.8 75.9,281.6 75.2,278.9 77.1,277.2"/><polygon points="37.9,254.5 32.6,257.1 30.6,255.3 33.9,252.4"/><polygon points="64.1,266.2 61.3,263.6 65.9,261.3 67.1,263.0"/><polygon points="38.9,252.5 39.5,249.1 41.1,247.8 43.4,251.4"/><polygon points="80.6,265.7 85.3,266.1 84.8,267.7 81.8,268.9 79.3,267.3"/><polygon points="36.2,270.2 36.3,268.2 39.3,267.7 39.4,269.6"/><polygon points="77.8,254.5 74.5,253.7 77.2,252.3"/><polygon points="73.0,254.3 75.3,252.4 77.9,252.7 75.0,256.1"/><polygon points="61.1,271.2 57.8,273.5 55.2,272.2 57.3,269.9"/><polygon points="61.9,262.6 61.2,267.3 58.7,264.3"/><polygon points="39.3,265.7 39.7,269.0 36.4,267.8 37.8,265.5"/><polygon points="45.2,266.7 43.2,262.7 47.7,263.3"/><polygon points="42.2,263.4 42.1,261.8 44.2,260.7 45.7,262.2"/><polygon points="71.0,254.0 67.5,253.4 68.7,250.8 70.8,251.5"/><polygon points="15.7,270.2 15.0,272.3 13.4,271.1"/><polygon points="44.3,265.0 49.1,266.1 46.5,268.4"/><polygon points="62.2,259.5 62.9,260.4 59.9,263.4 58.7,262.0 59.6,259.2"/><polygon points="57.6,253.2 60.5,254.7 57.8,257.0"/><polygon points="80.0,274.3 77.6,274.5 76.4,272.9 80.1,272.4"/><polygon points="19.4,258.9 16.7,259.1 16.4,255.4 17.3,254.6 21.6,256.2"/><polygon points="47.2,250.8 44.9,248.9 47.5,247.7 49.2,249.1"/><polygon points="51.2,254.2 48.5,253.2 49.3,249.5 52.7,250.2"/></g>
<g fill="#c0b83c"><polygon points="51.5,252.9 46.5,253.7 48.7,249.8"/><polygon points="82.5,266.7 78.5,266.3 78.4,264.9 83.0,263.1 83.9,265.1"/><polygon points="72.9,270.4 67.7,271.7 66.2,267.0 69.9,265.5"/><polygon points="39.2,253.8 41.2,252.4 45.4,250.0 47.2,251.9 43.5,255.2"/><polygon points="54.1,278.3 58.9,277.8 61.1,280.0 58.1,281.7 53.8,280.8"/><polygon points="79.7,259.7 74.8,258.8 74.4,255.9 75.6,254.7 80.8,256.0"/><polygon points="71.6,250.4 73.5,249.1 74.2,251.7"/><polygon points="59.3,253.9 63.7,252.7 67.1,252.9 65.6,257.0 62.4,257.7"/><polygon points="60.0,272.9 62.1,274.5 59.8,275.9 57.7,274.8"/><polygon points="45.5,273.9 43.5,275.5 39.8,273.0 38.4,271.3 44.0,270.3"/><polygon points="49.7,250.6 45.0,248.7 47.8,246.4 50.6,247.7"/><polygon points="49.3,253.9 47.0,252.4 50.9,250.0 51.8,252.7"/><polygon points="57.3,281.2 55.5,279.1 58.7,277.0 60.6,277.9 61.8,279.9"/><polygon points="23.0,254.6 18.9,255.1 21.0,250.6"/><polygon points="16.3,265.6 17.3,264.6 19.2,265.8 18.0,267.3"/><polygon points="73.8,283.9 77.3,280.0 79.5,283.7"/><polygon points="77.5,253.2 82.7,255.3 76.5,256.5"/><polygon points="53.9,266.1 54.2,268.0 50.0,269.5 48.4,266.5"/><polygon points="73.3,249.9 77.7,250.6 78.9,252.4 75.0,255.3 72.3,254.6"/><polygon points="60.2,253.6 58.5,251.8 61.4,250.9 62.7,251.5 63.1,252.8"/><polygon points="71.3,252.6 71.3,255.2 68.2,254.3"/><polygon points="30.6,252.3 33.1,252.3 31.3,255.0 29.7,255.0 27.9,254.0"/><polygon points="45.6,247.4 45.8,249.0 41.8,250.9 39.9,250.0 39.4,247.7"/><polygon points="46.3,269.3 47.9,269.3 49.8,271.9 47.1,272.8"/><polygon points="34.3,274.2 31.0,272.5 30.4,271.4 31.6,268.8 35.7,269.3"/><polygon points="54.1,272.3 48.6,271.4 50.2,268.6 57.6,269.0"/><polygon points="54.8,272.1 54.2,270.4 56.9,270.3 57.7,272.7"/><polygon points="39.8,254.1 39.0,252.9 40.4,252.3 42.8,252.9"/><polygon points="23.9,268.8 21.3,268.6 19.7,267.6 21.7,265.8 24.1,266.7"/><polygon points="28.3,259.8 29.9,260.4 30.4,262.2 27.9,262.6 27.3,261.3"/><polygon points="82.7,273.4 88.9,274.1 87.6,276.5 81.2,276.6"/><polygon points="46.8,259.7 52.0,257.6 52.5,260.7 49.0,261.7"/><polygon points="71.1,273.7 68.5,274.8 68.1,272.7 70.2,271.4"/><polygon points="32.8,248.8 31.6,251.8 29.2,250.2 31.1,247.4"/><polygon points="35.1,262.4 33.7,264.2 31.7,262.7 32.7,261.0"/><polygon points="67.6,254.4 65.1,251.0 69.0,250.7 72.5,252.8 70.9,255.0"/></g>
<g fill="#d8d25c"><polygon points="22.3,265.4 19.9,264.9 20.9,262.0 23.3,264.2"/><polygon points="60.8,258.6 61.3,260.5 60.3,261.3 58.2,259.4"/><polygon points="90.8,274.6 89.0,276.3 86.4,276.3 87.0,273.4"/><polygon points="82.9,273.2 84.4,276.4 81.5,278.7 78.5,274.9"/><polygon points="56.2,275.9 52.4,273.2 52.3,271.2 56.5,269.7"/><polygon points="88.7,274.4 93.3,275.3 93.1,277.7 89.0,278.0 86.7,276.6"/><polygon points="82.8,278.4 80.1,281.5 76.5,278.8 79.3,276.2"/><polygon points="49.4,250.0 48.2,247.1 50.6,246.5 52.0,246.7 52.0,248.5"/><polygon points="51.0,246.1 51.5,248.4 49.5,250.0 46.9,249.0"/><polygon points="61.2,268.0 56.8,269.2 56.3,266.0"/><polygon points="50.5,257.0 46.4,259.2 44.9,256.1 46.0,255.4 49.5,255.1"/><polygon points="63.6,253.4 66.5,254.6 64.9,256.1 62.8,255.9"/><polygon points="77.1,271.6 75.8,269.5 78.7,268.8 80.0,270.9"/><polygon points="58.2,269.3 52.9,267.2 54.9,264.9 57.8,265.3"/><polygon points="62.0,249.0 62.0,253.3 59.1,251.8 60.4,249.6"/><polygon points="65.1,267.0 66.4,263.7 69.8,263.1 73.0,266.6 69.7,269.2"/><polygon points="19.2,264.2 19.9,266.2 16.1,266.2 15.5,263.9 17.9,263.3"/><polygon points="76.8,268.0 79.5,269.3 76.6,271.8 74.8,271.0 75.3,268.8"/><polygon points="88.7,263.5 89.8,266.5 86.9,270.1 84.8,265.7"/><polygon points="49.6,270.2 51.2,271.9 49.5,273.0 47.0,271.5"/><polygon points="88.1,273.4 89.2,276.2 88.3,277.3 85.3,275.9"/><polygon points="69.3,258.7 71.8,259.4 70.0,261.5 67.5,260.4"/><polygon points="88.7,261.6 91.5,260.1 93.2,263.2"/><polygon points="24.3,260.4 22.9,257.9 31.0,257.8 29.8,262.7"/><polygon points="66.3,251.9 61.0,252.4 64.4,250.4"/><polygon points="60.0,268.8 63.6,270.1 62.2,272.8 59.1,270.4"/><polygon points="65.8,267.2 63.7,268.5 62.3,267.1 61.7,265.8 64.0,265.4"/><polygon points="69.2,253.3 67.8,255.5 64.1,256.2 63.4,254.2"/><polygon points="60.0,279.2 59.1,278.5 58.3,276.6 62.1,276.1 62.2,277.1"/><polygon points="81.4,255.5 83.0,253.6 87.3,257.4 81.7,259.9"/><polygon points="27.1,264.4 28.9,263.2 31.3,266.5 28.1,266.4"/><polygon points="47.2,248.9 50.3,249.7 50.3,251.9 47.3,252.1 46.9,250.4"/><polygon points="41.1,269.6 38.3,272.0 36.6,272.7 34.5,269.2 37.0,268.0"/><polygon points="53.8,273.4 55.3,276.2 53.9,276.2 51.3,276.6 51.1,274.4"/><polygon points="89.0,267.3 85.3,266.8 86.5,262.7 91.1,265.3"/><polygon points="35.3,267.8 35.9,265.9 37.5,265.7 38.9,267.2 37.0,267.7"/><polygon points="65.8,258.8 71.5,258.8 69.5,261.4"/><polygon points="29.9,258.1 25.8,261.9 23.6,259.0"/></g>
<g fill="#b5ad34"><polygon points="31.0,261.8 32.3,260.2 34.3,261.9 33.3,263.8 31.5,263.2"/><polygon points="69.1,272.3 67.0,269.3 67.6,267.6 70.9,270.5"/><polygon points="42.1,262.7 38.4,262.2 39.4,259.7"/><polygon points="58.0,260.1 56.9,262.0 54.8,261.9 55.2,260.3"/><polygon points="26.4,264.2 24.9,262.8 28.6,262.2 28.7,265.0"/><polygon points="38.9,244.2 42.6,243.6 43.4,248.0 39.6,248.6 35.7,246.1"/><polygon points="55.6,265.0 59.1,263.7 61.2,267.1 58.5,268.4"/><polygon points="78.9,265.3 75.7,267.4 73.9,264.8 75.4,262.0"/><polygon points="78.4,281.7 75.6,279.4 79.2,279.2"/><polygon points="39.7,259.0 41.0,256.5 45.0,258.4 41.9,260.3"/><polygon points="39.1,254.8 41.5,256.7 39.9,259.1 36.8,258.1"/><polygon points="46.8,251.0 46.0,253.5 43.2,253.8 43.3,250.9"/><polygon points="67.3,280.1 63.8,278.9 65.6,276.7 69.4,277.3"/><polygon points="85.8,264.6 83.2,262.4 88.9,262.1 89.8,263.6"/><polygon points="64.9,259.0 68.5,258.4 69.5,259.9 65.3,262.1"/><polygon points="81.3,267.7 79.5,264.1 84.6,262.6 83.0,266.3"/><polygon points="32.5,265.4 28.7,265.6 30.7,262.6 32.2,262.0 34.8,262.7"/><polygon points="29.1,256.5 29.4,260.5 26.4,260.4 26.7,257.7"/><polygon points="65.6,252.9 65.5,256.4 62.1,255.9 61.8,252.9"/><polygon points="70.9,263.5 69.5,258.7 75.5,259.5"/><polygon points="74.4,279.4 77.1,281.0 74.5,283.1 72.7,282.1"/><polygon points="44.1,255.5 41.4,254.6 44.2,252.3 46.0,252.5"/><polygon points="77.6,279.1 78.7,275.9 82.7,276.7 82.5,278.2 80.6,281.3"/><polygon points="59.4,258.4 57.2,260.8 56.1,258.0"/><polygon points="57.0,248.6 57.9,250.4 55.7,251.0 54.4,248.7"/><polygon points="60.2,257.4 60.0,255.9 63.1,256.0 63.2,257.4"/><polygon points="22.7,255.8 25.4,258.5 20.2,257.5"/><polygon points="42.1,255.3 39.8,255.5 40.2,252.9 41.7,252.6"/><polygon points="35.4,267.7 37.5,266.0 39.0,267.4"/><polygon points="56.9,278.3 54.9,278.2 55.2,276.4 55.9,276.2 57.7,276.4"/><polygon points="50.4,261.0 46.2,261.9 45.0,259.2 50.8,258.9"/><polygon points="58.1,267.5 54.7,269.4 54.8,268.2 55.3,266.4 55.9,266.5"/><polygon points="28.6,260.9 30.8,258.8 33.6,262.0 33.4,262.9 29.9,264.4"/><polygon points="24.9,270.3 28.5,269.9 28.3,271.8 26.2,272.7 25.4,271.7"/><polygon points="73.1,267.0 74.2,265.6 76.5,266.9 75.2,268.1"/><polygon points="64.1,278.2 66.4,280.7 62.4,281.8 61.9,278.7"/><polygon points="60.1,271.7 57.9,273.2 54.5,270.9 58.2,269.2"/><polygon points="29.6,259.4 25.9,258.8 26.3,257.2 30.7,258.3"/><polygon points="61.0,282.4 57.8,283.3 58.9,280.4"/><polygon points="84.3,280.3 85.5,281.7 81.8,284.5 79.2,281.3"/><polygon points="74.7,277.6 70.9,277.4 71.3,275.6 74.6,275.9"/><polygon points="44.4,267.8 42.6,269.0 40.9,266.6"/><polygon points="74.5,256.2 69.5,254.1 73.8,252.0"/></g>
<g fill="#c8c042"><polygon points="61.5,273.7 60.7,276.7 58.5,275.5"/><polygon points="51.1,269.5 50.6,270.5 48.6,271.5 47.2,269.9 49.2,267.7"/><polygon points="24.0,268.0 21.9,271.8 18.7,270.6 18.3,267.3 21.1,266.7"/><polygon points="45.8,248.0 50.6,250.2 50.4,252.2 44.9,252.2 42.5,251.1"/><polygon points="15.6,269.0 12.5,271.4 9.8,268.6 11.6,267.0 14.0,266.9"/><polygon points="44.7,255.2 48.2,253.8 48.3,255.5 46.0,256.3"/><polygon points="78.8,257.2 74.9,260.7 73.8,258.5 75.0,256.0"/><polygon points="76.8,273.7 75.1,272.4 76.2,269.2 80.2,271.0"/><polygon points="38.3,254.8 38.0,253.9 39.5,252.7 40.1,254.8"/><polygon points="51.8,275.4 49.2,275.3 50.3,273.9 52.3,273.5"/><polygon points="26.8,263.0 25.1,265.8 24.6,267.5 21.6,265.2 21.6,262.7"/><polygon points="59.6,276.6 63.4,275.4 61.9,277.3"/><polygon points="72.8,254.7 72.9,256.7 68.1,256.6 70.3,252.0"/><polygon points="40.0,257.5 44.2,258.7 44.2,261.3 38.7,259.9"/><polygon points="68.8,256.8 63.7,256.8 65.1,254.7 70.0,254.3"/><polygon points="24.0,266.5 22.8,269.2 20.8,268.2"/><polygon points="70.3,264.1 67.2,262.1 69.6,260.0"/><polygon points="19.2,266.4 21.7,266.5 24.4,269.5 18.9,269.8"/><polygon points="66.4,266.7 63.6,270.6 62.6,272.2 58.7,267.5 63.2,265.2"/><polygon points="62.6,257.9 64.0,255.4 67.5,258.2 63.2,259.0"/><polygon points="65.5,269.3 69.1,265.8 70.9,269.2 68.6,269.9"/><polygon points="45.4,273.0 46.2,270.8 48.0,271.8 48.3,273.8"/><polygon points="80.1,280.8 83.7,277.7 87.1,280.3 83.6,283.7"/><polygon points="74.9,265.3 70.2,266.8 68.0,264.5 69.7,262.6 74.6,263.4"/><polygon points="56.6,260.8 57.8,262.1 56.2,264.3 54.7,263.3"/><polygon points="59.6,253.8 52.5,255.1 54.2,252.2"/><polygon points="75.8,276.9 78.1,277.2 76.6,279.3"/><polygon points="39.1,259.7 41.6,259.4 41.1,261.5 38.6,261.3"/><polygon points="88.7,264.1 85.4,264.9 85.7,262.0 89.4,262.6"/><polygon points="41.6,264.5 44.2,266.8 41.6,269.0 39.8,266.0"/><polygon points="45.3,253.7 44.6,256.1 40.7,254.7 41.8,253.1"/><polygon points="46.7,255.5 48.5,257.7 47.3,258.4 43.5,256.9"/><polygon points="32.0,254.4 36.5,254.7 35.2,256.9 33.1,258.3 30.3,256.3"/><polygon points="89.0,272.2 86.8,271.4 88.0,270.2 90.8,271.3"/></g>
<g fill="#dfd96a"><polygon points="63.3,251.9 60.3,252.2 58.8,252.0 61.1,250.2 62.0,249.6"/><polygon points="30.6,260.7 36.3,260.1 35.6,262.0 32.6,263.0"/><polygon points="39.6,265.1 42.0,265.1 41.9,266.3 40.7,267.3 40.1,267.0"/><polygon points="63.7,260.3 61.5,261.5 57.6,260.7 59.6,258.4"/><polygon points="16.4,256.1 20.6,257.0 20.5,259.1 17.3,259.7"/><polygon points="47.2,270.9 42.9,271.1 42.9,270.3 43.6,267.9 47.8,269.6"/><polygon points="85.6,286.2 79.3,284.2 81.6,282.1 85.2,281.8 86.7,284.9"/><polygon points="17.0,256.6 19.9,256.9 18.5,261.8 13.9,259.3"/><polygon points="37.9,271.3 35.3,270.0 35.3,269.1 38.0,268.7"/><polygon points="70.1,261.4 72.9,261.6 70.9,263.1"/><polygon points="76.3,263.3 79.7,263.7 77.7,267.5 75.1,265.3"/><polygon points="14.2,265.7 19.4,264.3 17.7,267.9 12.1,267.9"/><polygon points="29.4,259.6 28.7,263.2 25.0,261.4 25.9,259.1"/><polygon points="48.2,250.0 48.2,245.4 51.3,246.8"/><polygon points="50.7,265.1 47.0,264.1 48.1,262.0 49.6,262.6"/><polygon points="21.8,265.2 25.2,266.4 23.6,269.8 20.8,270.1 18.9,265.5"/><polygon points="15.6,258.6 16.9,257.8 18.5,258.4 17.3,260.6"/><polygon points="84.6,267.4 82.1,265.6 85.1,263.0 87.0,266.2"/><polygon points="93.5,275.7 89.1,278.2 87.3,274.3 90.1,273.4"/><polygon points="78.5,271.4 79.2,267.1 82.0,269.3"/><polygon points="50.4,274.0 44.9,272.6 46.8,269.8 50.9,272.2"/><polygon points="54.6,273.4 50.6,271.8 52.0,268.0 56.3,271.1"/><polygon points="70.1,266.1 66.1,269.7 63.4,265.5 66.5,264.4"/><polygon points="76.2,265.3 73.6,264.5 73.7,262.7 76.9,263.8"/><polygon points="63.0,273.0 60.5,274.4 59.6,272.3 60.5,271.4 62.1,271.6"/><polygon points="70.1,275.0 68.4,272.9 69.7,271.5 72.6,272.0 73.7,274.1"/><polygon points="49.5,255.6 47.2,254.8 46.3,252.2 51.3,251.8"/><polygon points="31.9,249.2 30.0,251.5 28.9,249.4"/><polygon points="15.0,268.1 19.1,269.3 17.6,271.3 12.7,272.8 12.0,269.0"/><polygon points="34.2,248.0 37.2,246.9 40.4,249.0 35.9,249.6"/><polygon points="38.5,245.7 42.3,246.3 43.3,249.2 39.7,250.6 38.0,246.6"/><polygon points="78.2,257.2 76.0,257.9 75.6,254.8 78.8,254.7"/><polygon points="43.9,263.0 40.4,266.5 38.0,262.4"/><polygon points="91.2,259.3 91.8,263.9 88.5,264.2 86.0,260.7 89.0,258.8"/><polygon points="58.7,259.2 55.2,260.2 56.9,256.7"/><polygon points="78.6,279.7 77.6,279.9 76.1,279.2 78.3,277.7 79.1,278.4"/><polygon points="75.1,270.4 75.4,271.6 69.0,273.6 67.0,270.9 70.7,268.1"/><polygon points="25.6,249.6 30.0,253.0 24.8,256.5 20.8,251.9"/><polygon points="41.0,259.0 41.6,257.9 44.9,259.0 42.7,261.4"/><polygon points="54.9,265.9 54.8,267.6 51.7,267.3 52.1,265.1"/><polygon points="31.5,269.6 30.4,268.0 32.5,266.9 33.4,267.7 34.6,269.3"/><polygon points="51.8,268.9 51.1,267.6 52.9,266.0 55.3,267.4 53.8,269.2"/><polygon points="39.5,260.4 38.6,257.9 41.8,256.4 43.4,259.7"/><polygon points="26.3,256.1 27.8,255.1 29.7,256.9"/><polygon points="14.3,261.1 12.7,262.1 11.2,261.2 12.2,259.3"/><polygon points="80.2,275.7 80.1,272.2 83.5,274.3"/></g>
</g>
<g fill="#4e4c18"><polygon points="46.6,266.9 49.2,267.5 47.2,268.3 46.3,267.8"/><polygon points="81.7,255.8 79.7,254.0 81.8,253.7 83.3,255.0"/><polygon points="54.0,267.6 52.5,267.3 51.4,266.4 53.0,265.8"/><polygon points="21.1,267.6 21.4,267.1 23.0,266.9 24.0,267.8 21.4,268.8"/><polygon points="76.3,266.8 74.6,267.4 71.8,266.3 74.8,265.5"/><polygon points="57.5,268.1 55.9,268.0 57.0,267.2"/><polygon points="64.8,274.9 64.6,276.2 62.8,275.9 62.7,275.1"/><polygon points="42.5,257.3 44.1,257.1 44.4,258.1 43.6,258.3"/><polygon points="72.7,265.5 72.9,267.0 71.6,267.9 71.0,265.4"/><polygon points="40.1,266.2 38.1,266.2 39.4,264.6"/><polygon points="79.4,256.4 79.1,257.9 78.1,257.4"/><polygon points="72.9,252.6 74.9,253.2 74.6,254.9 72.5,254.6"/><polygon points="32.5,264.5 31.6,265.5 30.2,265.2 31.0,264.1"/><polygon points="46.2,270.6 47.3,269.8 49.1,269.7 48.6,270.7"/><polygon points="20.8,269.2 19.7,269.6 18.6,268.9 19.8,268.4"/><polygon points="18.7,262.5 17.6,263.0 16.7,262.7 17.4,262.0 18.0,261.8"/><polygon points="77.1,262.6 76.2,262.9 74.4,262.1 74.7,261.5"/><polygon points="20.8,258.0 23.8,258.1 23.8,259.3 21.4,258.8"/><polygon points="30.2,254.1 31.7,254.9 30.3,255.9 28.0,254.6"/><polygon points="70.7,256.4 70.4,255.6 72.2,255.3"/><polygon points="30.0,267.7 29.6,269.3 27.2,268.1"/><polygon points="37.4,263.3 36.3,263.7 36.2,262.6 37.3,262.3"/><polygon points="60.5,274.3 62.2,274.6 62.1,275.5 60.1,274.9"/><polygon points="62.5,274.8 60.4,273.9 62.8,272.8 63.8,273.8"/><polygon points="38.9,266.0 41.6,265.9 40.0,266.9"/><polygon points="64.8,273.9 66.5,274.4 66.2,275.6 64.0,275.7"/><polygon points="20.0,266.9 20.8,267.7 19.9,268.0 18.7,267.4"/><polygon points="46.9,252.8 45.3,252.8 45.7,252.0 47.2,252.1"/><polygon points="63.8,250.9 63.5,251.6 61.6,251.5 62.3,250.9"/><polygon points="11.3,265.2 9.5,263.2 12.3,263.7"/><polygon points="75.3,265.7 74.1,266.6 71.7,266.0 73.5,264.9"/><polygon points="64.2,272.9 66.3,272.5 67.0,273.4 65.2,273.8"/><polygon points="59.5,250.6 60.2,250.0 61.3,250.6 60.9,251.3 60.3,251.3"/><polygon points="89.5,270.4 90.2,270.5 89.5,271.2 88.5,271.1 88.3,270.8"/><polygon points="83.6,280.8 81.8,281.0 80.7,280.6 82.4,279.8"/><polygon points="57.4,268.7 55.8,267.7 58.6,267.7"/><polygon points="51.4,270.0 50.3,271.2 48.9,270.0 49.9,269.4"/><polygon points="49.3,266.3 47.8,265.0 51.2,265.3"/><polygon points="24.7,254.8 23.7,255.2 22.0,254.6 23.0,254.1"/><polygon points="80.7,282.0 79.9,283.2 77.4,282.8 78.5,281.3"/><polygon points="51.4,261.5 53.9,261.6 52.8,262.5"/></g>
<g fill="#6c6920"><polygon points="76.5,278.6 75.3,278.0 75.7,276.4 77.5,276.7 77.8,278.1"/><polygon points="74.1,255.4 74.8,256.1 73.0,256.9 72.5,256.1"/><polygon points="38.5,252.4 38.7,253.6 38.4,254.1 36.7,253.3 36.7,252.8"/><polygon points="48.9,272.7 48.7,271.4 51.1,271.6 50.5,272.4"/><polygon points="35.2,266.0 36.9,265.1 37.2,266.5"/><polygon points="53.4,271.8 55.4,272.3 54.8,273.0 53.2,273.0"/><polygon points="86.5,282.4 87.5,283.5 85.7,283.7"/><polygon points="71.9,268.7 72.7,267.0 73.8,268.2"/><polygon points="72.0,255.4 71.0,256.5 69.9,255.7"/><polygon points="64.5,263.8 65.2,264.9 63.3,264.8 63.4,263.6"/><polygon points="75.9,256.6 74.3,257.4 74.1,256.5"/><polygon points="40.3,269.4 39.7,268.7 40.7,268.6 41.3,269.3"/><polygon points="66.6,279.7 68.0,279.1 69.3,279.6 69.8,281.0 67.8,281.2"/><polygon points="80.5,260.6 80.8,259.6 81.9,260.2 81.1,260.7"/><polygon points="79.1,277.8 80.3,278.9 79.3,279.3 77.6,279.1"/><polygon points="55.3,256.1 54.5,255.3 55.6,254.7"/><polygon points="55.1,262.4 55.4,261.5 56.6,262.1 55.9,263.1"/><polygon points="54.8,277.8 54.9,277.2 56.0,277.1 56.3,277.4 55.7,277.8"/><polygon points="75.5,279.8 75.9,281.1 75.2,281.5 74.4,279.9"/><polygon points="42.2,255.8 43.3,254.5 44.9,255.7"/><polygon points="50.1,255.1 51.6,255.9 49.4,256.6"/><polygon points="43.4,261.8 41.3,262.4 39.9,261.4 41.3,261.1"/><polygon points="78.7,281.3 80.0,281.3 79.2,282.3"/><polygon points="56.2,274.2 54.7,275.3 53.6,274.4"/><polygon points="88.5,257.6 88.3,259.0 85.7,257.2"/><polygon points="62.7,252.9 64.4,251.8 66.6,253.3 64.6,254.2"/><polygon points="51.7,255.1 50.9,256.2 49.8,254.6 50.4,254.1"/><polygon points="54.2,270.3 56.3,270.8 53.5,271.4"/><polygon points="56.8,264.1 57.4,262.7 61.1,263.5 59.8,264.0"/><polygon points="87.8,280.9 85.9,280.8 86.1,279.0 89.0,279.4"/><polygon points="84.0,276.4 82.0,276.5 80.7,275.2 83.0,275.2"/><polygon points="53.9,254.9 52.3,255.6 51.6,254.7 53.0,254.3"/><polygon points="60.0,271.3 58.8,271.9 57.9,270.6 60.4,270.8"/><polygon points="29.4,269.3 31.4,268.5 31.9,269.8 30.1,270.1"/></g>
<g fill="#858028"><polygon points="61.8,262.8 60.3,263.8 58.4,262.9 59.8,262.0"/><polygon points="49.8,264.0 52.0,265.3 50.0,266.2 48.4,266.1 47.8,264.8"/><polygon points="85.1,267.7 87.3,267.2 87.4,268.5 86.5,269.5"/><polygon points="20.7,265.5 19.8,263.9 22.0,264.6"/><polygon points="43.7,254.4 41.4,256.0 40.4,254.5 40.8,253.4"/><polygon points="81.6,275.2 82.7,275.0 83.9,275.6 83.5,276.4 81.1,276.0"/><polygon points="66.5,255.3 69.5,255.9 66.4,256.7"/><polygon points="64.9,261.5 64.9,260.8 67.0,261.3 65.7,261.7"/><polygon points="30.8,264.9 29.2,264.9 28.8,263.3 31.2,263.1"/><polygon points="75.6,266.8 76.9,266.9 76.9,267.6 75.9,267.8 74.1,267.1"/><polygon points="77.0,270.2 79.9,270.1 78.7,271.1"/><polygon points="64.4,277.2 63.0,276.5 64.5,276.1 65.2,276.7"/><polygon points="43.3,266.2 42.9,267.1 40.8,266.2 42.1,265.4"/><polygon points="31.0,264.3 28.2,263.7 28.9,262.9 31.0,262.8"/><polygon points="47.0,258.8 46.2,257.6 48.3,257.4"/><polygon points="81.4,281.2 81.7,280.1 83.6,280.5 83.4,281.6"/><polygon points="71.8,269.6 72.5,270.9 70.8,271.6 68.9,270.7 69.9,270.0"/><polygon points="82.7,281.9 83.4,281.2 85.1,281.8 83.8,282.5"/><polygon points="71.4,268.4 71.3,269.2 70.1,269.1 69.9,268.3"/><polygon points="69.1,272.1 70.4,271.7 70.5,273.1 69.5,273.5"/><polygon points="65.3,257.1 65.4,257.7 64.3,257.9 64.2,257.1"/><polygon points="12.4,269.4 11.7,268.4 14.1,268.1 14.0,269.6"/><polygon points="26.3,269.2 28.3,270.5 26.3,271.0 24.5,270.1"/><polygon points="79.5,275.8 78.2,275.3 80.6,273.5 82.0,274.6"/><polygon points="56.6,268.5 55.1,269.2 54.0,268.1"/><polygon points="42.2,258.6 41.5,257.5 42.8,257.1"/><polygon points="62.6,251.4 64.3,250.8 65.5,251.3 63.6,252.2"/><polygon points="58.3,266.4 58.7,266.6 58.5,267.8 57.4,267.5 56.9,267.2"/><polygon points="68.5,273.6 66.9,273.8 66.8,272.4 67.5,271.9 69.0,272.0"/><polygon points="36.0,251.4 35.6,250.2 37.4,251.1"/><polygon points="53.5,278.9 54.4,278.5 55.1,279.2 54.1,279.6"/><polygon points="58.8,252.6 58.1,251.8 59.4,251.6 59.9,252.3"/><polygon points="27.1,257.2 28.5,257.2 28.3,258.0"/><polygon points="87.8,278.9 87.2,280.4 86.3,279.5"/><polygon points="43.6,256.5 41.9,257.5 40.2,256.3 41.7,255.3 43.0,255.5"/><polygon points="59.7,267.1 59.2,266.1 60.7,266.2"/><polygon points="48.1,257.2 46.9,256.3 49.1,255.3 50.4,256.5"/><polygon points="37.5,265.5 36.1,265.5 35.7,264.8 37.3,264.7 37.9,265.2"/><polygon points="85.4,279.4 85.4,280.1 83.8,280.9 83.6,279.6"/><polygon points="83.3,277.0 84.6,277.4 84.1,278.2 82.0,277.7"/></g>
<g fill="#3e3c12"><polygon points="86.7,255.4 84.6,256.8 84.2,255.1"/><polygon points="14.4,264.5 14.4,263.7 15.1,262.3 16.9,263.9"/><polygon points="75.0,257.0 76.7,256.7 75.7,257.9"/><polygon points="38.4,246.9 39.6,247.7 38.3,248.0 37.9,247.3"/><polygon points="16.6,258.8 18.7,257.6 19.4,258.7"/><polygon points="58.0,278.7 58.3,277.7 60.1,277.7 59.7,278.9"/><polygon points="44.2,249.5 45.0,249.5 45.6,250.1 44.6,250.8 42.6,250.3"/><polygon points="41.1,257.0 40.3,257.1 40.2,256.0 40.8,256.3"/><polygon points="90.0,274.3 89.4,273.5 90.3,273.0 90.9,273.3"/><polygon points="83.8,266.4 82.9,267.2 79.9,266.1 82.1,265.1"/><polygon points="23.6,262.2 22.3,261.9 21.8,261.0 22.5,260.5 24.2,261.3"/><polygon points="33.2,270.3 33.9,269.3 34.5,270.0"/><polygon points="26.8,253.0 29.5,253.6 28.8,254.9"/><polygon points="75.5,253.8 78.3,253.5 77.5,256.0 76.1,255.6"/><polygon points="24.7,261.9 25.6,261.4 26.0,262.0 24.9,262.4"/><polygon points="68.8,252.2 69.2,251.2 71.1,252.1"/><polygon points="11.3,268.5 10.6,269.4 9.4,269.4 10.0,268.0"/><polygon points="45.6,269.4 44.7,270.0 43.4,270.2 43.8,269.2 45.2,268.8"/><polygon points="41.2,257.1 42.9,256.2 42.9,257.4 42.4,258.0"/><polygon points="75.8,270.4 76.4,269.2 77.6,269.8"/><polygon points="9.5,266.7 8.6,265.1 8.6,264.8 11.1,264.9 10.9,266.6"/><polygon points="37.3,246.9 36.7,247.8 35.5,247.2"/><polygon points="72.5,272.7 72.0,272.0 74.9,271.8 74.2,272.7"/><polygon points="40.0,269.2 41.3,268.0 43.4,268.5 43.6,269.6 41.5,270.2"/><polygon points="73.8,270.9 73.0,270.8 73.8,269.7 75.6,270.0"/><polygon points="56.1,279.2 57.1,280.1 56.2,280.8 54.0,280.7 54.5,280.2"/><polygon points="59.9,275.4 61.3,275.1 62.8,275.7 61.0,276.1"/><polygon points="85.6,258.9 83.8,259.8 83.0,258.5"/><polygon points="61.7,282.3 61.0,281.9 61.6,281.1 62.5,281.3 63.0,281.9"/><polygon points="84.4,269.0 84.6,270.1 82.8,269.7 83.3,268.7"/><polygon points="59.1,251.2 57.6,250.3 60.5,250.1 60.3,251.3"/><polygon points="88.3,278.7 87.7,279.8 86.0,278.6"/><polygon points="64.1,277.1 63.0,277.4 62.7,277.0 62.7,276.5 64.5,276.5"/><polygon points="69.5,275.5 68.0,274.4 70.3,274.3"/><polygon points="79.9,278.7 79.3,279.4 78.2,278.7 78.7,278.3"/><polygon points="87.4,264.4 86.2,265.4 84.6,264.6 85.9,263.4"/><polygon points="69.3,252.8 70.5,252.9 69.4,253.9"/><polygon points="82.6,278.2 83.2,278.2 81.8,279.0 81.4,279.1 81.4,278.3"/><polygon points="75.0,264.4 74.1,265.6 72.6,264.7 74.4,263.8"/><polygon points="76.6,268.1 74.7,268.9 73.7,267.7 76.5,267.3"/><polygon points="32.3,261.8 32.5,262.9 30.3,262.8 31.1,261.6"/><polygon points="81.0,268.8 82.2,269.9 79.8,270.6"/><polygon points="87.2,275.5 87.7,276.5 86.2,276.8"/><polygon points="91.5,278.1 90.7,278.7 88.6,278.1 89.9,276.7 91.1,277.1"/><polygon points="40.2,266.1 39.1,265.6 40.7,265.2"/><polygon points="51.8,255.8 52.6,256.3 52.3,257.8 50.9,257.6 50.4,256.6"/><polygon points="83.0,270.1 84.3,270.5 82.4,271.2"/></g>
<g stroke="#3c3a12" stroke-width="0.25" stroke-opacity="0.6" stroke-linejoin="round">
<g fill="#cdc648"><polygon points="40.1,254.3 40.2,256.4 37.3,255.9 37.0,253.2"/><polygon points="50.0,251.8 54.3,250.9 54.1,252.7 51.2,253.1"/><polygon points="79.4,268.4 79.1,269.9 74.8,267.4 76.3,266.1"/><polygon points="76.5,267.2 80.5,268.2 80.0,269.7 75.9,270.4"/><polygon points="24.1,253.2 27.3,251.2 28.0,252.2 28.4,253.9 25.8,254.0"/><polygon points="85.9,273.1 87.1,275.9 83.9,274.0"/><polygon points="57.9,279.8 56.3,282.0 54.0,282.3 52.4,280.4 54.0,278.1"/><polygon points="66.8,277.5 68.9,275.4 72.6,280.3 68.1,280.6"/><polygon points="50.7,255.2 49.0,249.5 55.2,251.5"/><polygon points="57.3,275.4 56.6,276.9 52.8,276.2 53.7,274.5 55.7,274.3"/><polygon points="42.8,260.0 44.8,259.4 46.9,261.9 44.6,261.9"/><polygon points="43.1,250.7 39.0,249.7 41.9,248.0"/><polygon points="86.9,268.8 87.7,265.9 89.8,266.9"/><polygon points="52.6,259.5 48.3,258.5 51.1,255.9"/><polygon points="76.9,272.4 74.4,270.4 76.9,269.5 77.6,270.6"/><polygon points="16.0,261.0 19.2,264.5 15.1,266.6 11.9,262.8"/><polygon points="89.2,270.8 87.8,270.9 87.2,269.2 89.1,269.5"/><polygon points="79.2,261.4 76.2,261.9 75.8,259.4 80.4,259.8"/><polygon points="75.4,277.3 76.6,274.5 78.7,275.9 77.1,278.8"/><polygon points="11.4,264.6 10.7,266.2 7.0,267.7 6.7,263.3"/><polygon points="41.7,259.2 41.5,256.2 44.8,256.8 44.8,258.3"/><polygon points="32.1,268.7 34.4,270.4 32.0,273.2 31.2,271.5"/></g>
<g fill="#c0b83c"><polygon points="31.9,253.8 35.2,254.0 37.3,256.5 32.1,258.3 31.8,256.4"/><polygon points="39.2,264.5 37.1,262.4 40.3,260.6 43.4,263.2"/><polygon points="54.2,274.1 57.0,274.5 57.2,276.8 54.9,276.5"/><polygon points="13.8,257.7 15.6,256.3 18.2,258.0 14.4,260.0"/><polygon points="89.5,280.5 93.0,278.1 91.7,281.3"/><polygon points="42.9,252.1 45.9,253.2 46.5,255.3 40.5,257.3 39.9,254.4"/><polygon points="28.7,258.2 25.9,258.4 26.4,255.8 27.8,256.4"/><polygon points="73.6,261.7 71.1,264.5 68.1,263.9 68.4,261.1"/><polygon points="36.3,245.1 37.1,246.4 36.5,248.1 33.3,248.0 32.3,245.8"/><polygon points="69.2,267.1 67.9,268.2 66.8,266.2 66.6,264.8 69.4,266.2"/><polygon points="18.3,265.8 19.6,269.0 13.9,268.8"/><polygon points="60.6,252.8 60.9,250.7 64.7,250.6 65.1,253.8"/><polygon points="72.3,250.7 76.5,254.2 70.8,254.9"/><polygon points="19.3,260.4 13.5,258.3 17.4,256.9 21.6,258.3"/><polygon points="72.2,267.3 71.4,270.5 69.3,268.0"/><polygon points="50.2,268.7 53.6,266.3 54.7,269.0"/><polygon points="29.2,250.1 27.6,252.7 22.9,251.9 25.5,248.6"/><polygon points="74.8,256.3 72.0,257.2 70.3,255.5 73.4,253.6"/><polygon points="32.4,262.9 27.5,263.7 27.8,261.0 30.6,260.7"/><polygon points="75.4,257.2 77.8,254.2 81.5,255.8 79.7,258.0"/><polygon points="15.9,258.4 17.9,262.0 16.0,262.6 13.4,260.2"/><polygon points="56.6,257.8 53.9,260.3 51.3,256.8"/></g>
<g fill="#d8d25c"><polygon points="74.5,254.3 76.8,252.0 80.1,253.0 79.2,254.5 76.3,255.3"/><polygon points="41.2,253.5 41.8,257.9 36.6,255.1"/><polygon points="33.4,261.0 32.2,263.5 29.9,262.2 31.5,260.4"/><polygon points="69.4,269.9 75.0,270.0 73.4,273.1 71.5,272.8"/><polygon points="90.6,265.9 95.8,267.2 91.1,269.7"/><polygon points="63.8,283.0 58.9,281.9 60.9,279.5 65.0,280.0"/><polygon points="44.1,256.7 41.3,257.3 39.8,255.3 42.4,253.6"/><polygon points="37.8,251.4 41.4,252.9 37.3,255.8"/><polygon points="21.7,269.7 22.9,266.4 26.0,268.0"/><polygon points="26.5,255.5 22.0,256.8 24.3,253.5"/><polygon points="57.0,280.8 56.4,277.9 59.2,277.3 59.9,279.8"/><polygon points="64.2,255.7 69.2,254.9 68.0,258.5 63.3,259.6"/><polygon points="55.7,283.0 53.9,280.6 55.2,278.9 58.0,282.0"/><polygon points="52.2,268.7 49.7,266.2 53.4,265.5"/><polygon points="80.3,264.7 85.9,262.1 88.3,264.8 82.3,267.5"/><polygon points="35.8,267.0 34.3,269.0 30.8,269.4 30.6,265.0"/><polygon points="57.1,278.0 58.1,280.5 56.3,282.9 53.5,281.3 54.2,278.6"/><polygon points="40.7,265.5 41.8,267.6 38.2,267.0"/><polygon points="45.4,256.6 47.4,258.7 44.1,259.6"/></g>
<g fill="#b5ad34"><polygon points="36.8,252.5 37.9,256.3 31.8,256.3 29.6,254.6 35.6,251.3"/><polygon points="83.2,255.3 80.9,255.9 81.5,252.8"/><polygon points="38.2,261.3 33.9,262.8 31.7,260.1 33.6,258.2"/><polygon points="53.9,262.5 54.5,261.4 58.1,261.4 56.8,263.1"/><polygon points="62.0,281.5 62.8,278.4 66.9,278.7 66.6,280.9"/><polygon points="72.6,257.2 75.7,259.8 72.9,260.0 70.9,258.4"/><polygon points="71.8,260.5 71.8,261.7 71.3,262.5 69.0,262.1 69.9,260.0"/><polygon points="83.6,272.4 85.1,269.3 90.1,269.9 89.1,272.8 88.1,273.7"/><polygon points="85.5,264.1 82.4,265.6 81.0,262.9 82.7,261.5"/><polygon points="46.3,268.1 46.2,269.7 44.5,270.1 43.0,268.5 44.2,267.8"/><polygon points="72.8,276.0 77.9,275.3 78.1,277.6 77.4,279.2 74.2,278.2"/><polygon points="81.7,260.6 79.9,260.8 76.1,260.4 77.1,258.2 78.8,258.1"/><polygon points="73.9,269.4 76.8,271.2 75.4,274.8 71.3,270.9"/><polygon points="62.0,258.8 65.0,260.2 61.6,262.0 60.5,260.3"/><polygon points="72.4,256.6 78.4,255.3 77.7,259.6"/><polygon points="62.3,259.7 64.7,256.5 68.8,256.8 65.8,260.0"/><polygon points="59.3,257.7 61.6,254.4 64.0,258.7"/><polygon points="42.2,251.1 43.9,253.9 41.5,253.9 39.5,253.1 40.1,251.4"/><polygon points="41.4,254.1 38.5,252.5 41.6,251.1 44.0,252.8"/><polygon points="83.3,275.5 80.0,275.4 80.2,273.4 82.7,273.1"/><polygon points="61.0,254.9 63.3,256.1 63.3,257.8 59.5,258.1 57.1,256.4"/><polygon points="69.3,271.9 71.5,272.6 69.0,274.1 68.2,272.6"/><polygon points="28.7,256.6 27.0,258.0 24.1,256.9 25.3,256.1"/><polygon points="15.4,257.1 16.3,254.8 18.3,256.5 17.8,257.1"/><polygon points="51.4,248.5 53.9,251.2 51.5,251.4 49.6,251.1 49.6,248.5"/><polygon points="59.2,270.6 62.2,271.0 62.2,272.3 60.8,272.9 57.5,272.0"/><polygon points="71.4,276.0 68.0,274.8 74.0,272.8"/><polygon points="54.9,258.5 54.2,260.8 52.0,260.1 52.2,258.6"/></g>
<g fill="#c8c042"><polygon points="45.8,261.7 43.1,265.1 40.9,262.9 44.1,261.0"/><polygon points="52.7,264.4 50.9,266.1 49.1,265.5 49.1,264.3 52.1,263.8"/><polygon points="60.3,274.2 60.7,276.2 58.3,276.9 55.8,276.7 57.2,275.1"/><polygon points="28.4,249.1 30.8,250.9 29.0,251.9 27.0,250.0"/><polygon points="78.6,279.2 77.7,281.3 75.4,280.5 77.0,278.4"/><polygon points="26.8,254.9 24.0,254.1 26.3,253.0"/><polygon points="55.6,277.5 52.8,279.1 52.0,277.0 54.0,275.5"/><polygon points="53.2,273.5 55.6,275.0 52.0,275.7"/><polygon points="33.6,258.9 37.0,258.2 37.8,260.5 35.5,261.7"/><polygon points="64.5,259.8 62.1,263.0 60.7,260.0"/><polygon points="81.6,266.5 80.4,268.1 78.0,268.6 77.4,266.4 79.5,266.3"/><polygon points="35.9,247.8 39.1,247.6 37.2,250.1"/><polygon points="16.3,269.4 11.7,269.9 12.1,266.8 17.6,265.8"/><polygon points="79.6,257.0 79.4,258.9 76.4,257.5 77.0,256.6"/><polygon points="65.5,254.5 67.4,252.2 71.4,254.3 69.7,257.0"/><polygon points="78.0,274.3 77.6,276.4 74.9,277.1 73.9,275.7 74.6,274.3"/><polygon points="32.6,255.3 31.5,251.7 35.4,251.8 37.3,256.0"/><polygon points="56.4,266.3 57.7,268.2 57.5,270.4 53.8,269.3"/><polygon points="81.2,284.1 83.7,282.9 83.7,285.7"/><polygon points="76.0,280.4 73.9,279.3 76.6,277.7 76.8,279.9"/><polygon points="13.6,263.8 16.1,262.2 18.1,263.3 15.9,264.0"/><polygon points="93.8,260.0 93.0,262.4 88.9,262.2 88.9,259.6"/><polygon points="43.4,246.2 47.9,247.2 44.7,249.0 42.4,248.2"/><polygon points="60.5,274.6 56.1,275.6 55.8,273.7 60.0,272.9"/><polygon points="65.6,280.5 65.7,283.9 62.3,284.0 61.8,280.5"/><polygon points="80.5,276.2 79.8,273.7 82.0,273.7 83.0,275.6"/></g>
<g fill="#dfd96a"><polygon points="60.9,279.0 57.0,276.8 61.2,274.9"/><polygon points="50.7,271.9 54.0,270.5 54.1,273.2 52.6,274.8"/><polygon points="83.3,252.3 87.5,253.7 88.6,257.3 84.7,258.4 82.2,256.9"/><polygon points="37.6,267.5 38.9,264.7 44.5,266.8 44.4,268.3 40.2,269.8"/><polygon points="72.4,276.5 71.4,275.1 73.6,274.0 74.5,275.6 73.5,277.2"/><polygon points="56.4,275.5 60.7,276.9 55.6,280.1 52.7,278.6"/><polygon points="33.3,258.3 34.5,260.1 33.0,261.5 32.1,262.3 30.3,260.0"/><polygon points="48.8,251.8 46.7,253.2 42.4,252.0 44.9,250.0"/><polygon points="54.1,255.3 51.5,257.6 49.5,256.4 50.2,252.1 54.3,252.7"/><polygon points="44.2,270.9 44.8,269.3 48.9,269.9 48.0,271.2 44.7,272.9"/><polygon points="27.0,263.5 28.9,260.0 32.3,260.6 33.1,262.4 31.1,265.0"/><polygon points="54.3,262.6 50.5,262.2 50.0,258.3 55.2,259.8"/><polygon points="65.0,258.8 67.0,261.7 64.2,262.9"/><polygon points="85.3,261.7 82.6,262.9 81.0,260.2 85.5,259.2"/><polygon points="30.6,262.8 30.6,260.4 31.7,258.1 37.2,257.7 36.1,261.1"/><polygon points="55.9,262.5 57.7,263.7 59.3,266.1 55.6,267.8 54.9,265.9"/><polygon points="92.8,275.9 90.3,275.8 87.7,274.1 90.4,271.4 92.9,273.0"/><polygon points="41.2,253.2 39.8,252.3 41.1,250.0 43.5,251.8"/><polygon points="23.8,259.8 31.9,262.1 26.4,263.7"/><polygon points="81.0,265.4 75.9,264.2 77.4,260.6"/><polygon points="52.6,268.4 52.1,266.9 55.1,267.8"/><polygon points="84.2,276.9 87.2,275.1 90.8,277.3 89.9,279.5"/><polygon points="31.7,255.5 32.1,258.3 27.9,257.4 27.3,255.8 28.1,254.3"/><polygon points="70.5,282.4 73.1,279.5 74.1,282.6 73.0,284.4"/><polygon points="61.3,280.7 56.3,280.3 57.5,277.6 62.4,278.3"/><polygon points="87.1,264.9 86.8,268.4 82.0,267.1 82.0,264.8"/><polygon points="47.5,269.6 45.1,271.1 42.0,272.2 40.5,266.3 45.2,265.6"/></g>
</g>
<g fill="#4e4c18"><polygon points="70.3,255.0 70.8,255.8 69.2,255.9 68.7,255.6 69.1,254.7"/><polygon points="54.9,264.0 52.9,265.0 51.8,263.2"/><polygon points="44.9,263.4 43.7,264.1 42.1,262.7 44.4,262.2"/><polygon points="70.7,262.2 68.6,261.1 69.6,260.2 71.2,260.5"/><polygon points="65.1,253.8 65.0,255.3 63.7,254.8 63.5,254.1"/><polygon points="36.3,249.5 37.9,248.9 38.6,250.1"/><polygon points="75.6,278.3 74.7,278.5 73.3,278.3 74.5,277.7"/><polygon points="83.7,265.6 83.0,267.5 81.0,266.7 81.3,265.7"/><polygon points="61.7,281.0 63.0,279.4 65.7,280.4"/><polygon points="78.4,257.4 78.8,259.2 76.7,259.9 75.2,258.5 76.3,258.0"/><polygon points="53.7,255.9 52.7,257.1 51.3,256.6 51.0,255.6 53.3,255.6"/><polygon points="51.6,260.0 53.7,259.6 53.3,261.5 51.4,260.8"/><polygon points="36.3,251.0 35.1,251.2 34.8,250.4 35.6,250.1 36.2,250.6"/><polygon points="73.6,276.6 74.9,276.5 75.7,277.2 74.3,277.2"/><polygon points="41.0,256.6 41.8,255.9 42.8,256.5"/><polygon points="67.8,275.0 69.0,274.1 71.5,274.4 71.6,275.3 69.9,275.6"/><polygon points="70.9,256.4 69.5,254.9 72.2,254.6 72.4,255.9"/><polygon points="60.2,251.3 62.0,251.4 60.6,252.9"/><polygon points="70.6,272.1 70.0,272.7 67.9,272.5 68.2,271.4"/><polygon points="88.3,256.3 88.8,257.0 86.8,257.0 86.4,256.3"/><polygon points="66.8,266.2 66.8,266.9 65.2,266.5 66.1,265.5"/><polygon points="65.3,262.5 63.4,262.5 65.2,261.3 66.6,261.2 66.5,263.0"/><polygon points="26.9,268.8 27.0,268.1 29.7,268.0 30.3,269.1"/><polygon points="63.2,273.2 62.6,274.0 61.5,272.9"/><polygon points="68.0,251.4 64.8,251.5 65.4,249.8 68.7,250.2"/><polygon points="60.9,266.1 58.7,266.8 57.2,265.4 60.2,265.0"/><polygon points="57.9,279.6 56.9,280.1 56.4,279.3 56.6,278.7 57.8,278.9"/><polygon points="59.3,254.3 61.0,253.8 60.6,254.9"/><polygon points="78.5,261.7 77.9,262.4 76.7,262.0 77.6,261.1"/><polygon points="51.4,249.5 50.8,250.8 48.7,250.6 49.0,249.2"/><polygon points="41.1,255.6 42.9,256.4 40.7,256.7"/></g>
<g fill="#6c6920"><polygon points="27.0,256.4 27.3,257.3 25.7,257.2 25.5,256.3"/><polygon points="22.5,255.1 22.2,254.2 23.9,254.4 23.9,255.3"/><polygon points="49.7,262.2 50.6,262.1 51.4,263.3 49.9,263.4"/><polygon points="73.7,272.5 74.5,271.7 75.8,271.6 76.3,272.7"/><polygon points="29.1,269.3 27.0,269.3 28.1,268.4 29.0,268.4"/><polygon points="75.9,275.1 73.3,275.3 73.0,274.5 74.0,273.9 75.8,273.7"/><polygon points="51.9,270.0 51.8,271.0 51.3,272.0 49.4,271.1 48.9,270.7"/><polygon points="75.4,277.0 77.6,276.4 79.4,277.9"/><polygon points="65.8,269.2 67.2,269.9 66.2,270.4 64.4,270.2"/><polygon points="67.2,280.8 65.2,280.8 65.0,280.1 66.7,280.4"/><polygon points="43.9,262.6 41.6,263.2 42.3,261.4"/><polygon points="30.8,256.5 29.5,258.3 28.1,258.0 28.9,255.8"/><polygon points="22.9,256.6 21.5,256.7 20.0,256.0 21.8,255.0"/><polygon points="36.8,253.7 37.8,253.5 38.8,254.2 37.5,254.7"/><polygon points="87.9,269.2 89.3,268.5 89.8,269.6 88.5,269.9"/><polygon points="38.1,264.0 39.3,262.6 40.0,264.2"/><polygon points="51.1,261.8 53.1,262.3 51.5,263.6 49.8,262.8"/><polygon points="69.2,255.5 67.9,257.4 66.9,256.4 67.7,255.3"/><polygon points="25.0,261.4 22.8,261.2 24.6,260.2"/><polygon points="18.0,261.7 18.3,262.4 16.2,262.3"/><polygon points="77.9,262.9 76.3,262.1 78.6,260.9 79.3,261.9"/><polygon points="26.1,254.1 24.9,254.6 22.7,253.3 24.8,253.0 25.8,252.6"/><polygon points="65.9,273.9 67.5,272.4 68.3,273.1 66.6,274.6"/><polygon points="17.7,256.0 19.9,255.7 20.6,256.5 20.0,257.1"/><polygon points="68.8,276.6 69.8,276.8 67.9,278.0 66.7,277.6 65.7,276.4"/><polygon points="74.5,277.4 73.4,278.2 72.5,276.8"/><polygon points="69.4,274.3 68.8,276.0 67.2,275.6 67.7,274.0"/><polygon points="43.2,255.8 42.7,254.8 44.4,254.5 44.3,255.5"/><polygon points="74.7,258.9 74.8,258.1 77.6,257.9 76.7,259.1"/><polygon points="66.1,278.7 64.4,278.3 64.8,277.5 65.9,277.5 67.2,278.5"/><polygon points="63.2,280.2 64.6,280.3 63.3,281.5 62.4,281.3"/><polygon points="46.4,265.8 45.6,265.5 45.2,264.9 46.3,264.7 47.1,265.4"/><polygon points="86.0,270.5 83.9,270.7 83.0,269.3 85.5,268.4"/><polygon points="65.3,264.3 68.7,263.8 68.4,265.3 65.8,265.3"/><polygon points="41.4,265.7 42.3,265.7 43.5,265.9 42.5,266.9 41.7,266.8"/><polygon points="37.1,252.8 35.8,251.5 35.8,250.9 38.6,251.9"/><polygon points="33.1,249.1 32.8,250.4 31.4,250.2 31.4,249.1 32.5,248.8"/><polygon points="65.7,265.6 65.7,265.2 66.3,264.8 67.3,265.7 66.8,266.0"/><polygon points="63.8,281.6 62.6,282.2 61.6,281.8 63.1,280.9"/><polygon points="49.3,266.8 47.6,266.6 48.5,265.3 49.2,265.4 50.1,266.2"/><polygon points="92.1,265.5 91.4,266.4 90.0,265.6"/><polygon points="81.1,256.4 81.0,257.7 79.8,258.0 78.5,257.9 79.4,256.4"/><polygon points="16.4,266.3 17.9,264.8 20.0,266.7 18.4,267.4"/><polygon points="59.2,278.2 59.4,280.2 57.5,279.7 57.5,278.8"/><polygon points="44.0,258.9 41.1,258.1 42.5,257.0 45.5,257.5"/></g>
<g fill="#858028"><polygon points="64.0,261.0 63.8,262.4 62.5,262.1 62.7,261.1"/><polygon points="80.2,257.1 82.9,257.3 83.8,258.0 81.4,259.0 80.4,258.5"/><polygon points="59.0,266.2 60.1,265.0 62.3,265.7 62.0,267.2 60.3,267.3"/><polygon points="19.1,261.8 18.3,261.0 20.4,260.2 21.0,261.1"/><polygon points="72.9,280.5 73.0,282.0 71.3,281.8 70.6,280.7"/><polygon points="83.4,267.0 82.6,266.2 84.0,266.0"/><polygon points="66.8,255.9 65.9,256.3 64.1,255.9 65.6,254.7 66.5,254.0"/><polygon points="25.8,252.2 26.6,251.5 27.6,252.4"/><polygon points="77.5,281.5 75.6,280.3 77.5,279.7 79.1,281.1"/><polygon points="61.9,276.5 63.4,276.0 64.7,276.9 63.4,277.4 62.6,277.2"/><polygon points="66.6,280.3 65.0,279.6 65.7,279.0 66.7,279.3"/><polygon points="88.3,273.4 90.1,273.4 88.5,274.1"/><polygon points="46.0,258.4 47.5,258.2 48.3,259.2 46.9,259.6"/><polygon points="39.6,263.6 41.3,264.0 40.5,265.1 39.1,265.1 37.6,264.1"/><polygon points="43.8,265.7 41.2,264.7 43.1,264.3 44.8,265.0"/><polygon points="46.7,250.8 46.2,252.2 44.8,252.0 43.6,250.9 45.0,250.9"/><polygon points="68.7,267.2 67.7,266.4 69.5,265.8 70.0,267.2"/><polygon points="50.0,250.3 50.8,251.3 49.8,251.9 48.9,250.8"/><polygon points="44.7,252.3 46.2,252.2 46.2,253.9 44.5,254.0"/><polygon points="20.7,262.4 18.9,261.1 21.5,261.6"/><polygon points="67.4,253.6 65.8,253.0 67.1,252.6"/><polygon points="77.6,257.6 77.7,256.4 79.3,256.8 78.5,257.7"/><polygon points="61.4,279.0 61.6,277.6 62.8,279.2"/><polygon points="49.3,273.1 48.2,272.0 49.0,271.3 51.4,271.5 51.8,273.1"/><polygon points="26.7,251.6 28.1,251.0 27.8,252.1"/><polygon points="58.6,267.6 61.4,267.5 59.8,268.8"/><polygon points="70.4,264.6 67.6,265.8 67.9,264.2"/><polygon points="38.8,249.1 37.4,247.8 38.3,247.4 39.9,248.0"/><polygon points="48.1,253.4 47.2,252.7 47.7,252.0 49.4,252.3 48.8,253.3"/><polygon points="25.9,269.9 27.5,269.2 29.3,269.9 27.7,271.0"/><polygon points="73.7,258.6 73.8,260.1 71.3,258.4"/><polygon points="64.2,267.1 64.3,265.9 65.5,266.5"/><polygon points="64.8,266.7 65.8,267.0 66.2,267.5 64.9,267.9 64.1,267.7"/><polygon points="42.6,248.9 39.7,249.0 40.5,248.2"/><polygon points="33.5,264.5 33.0,265.4 32.0,265.6 31.0,264.8 31.6,263.8"/><polygon points="19.8,265.4 21.8,263.8 22.9,265.3"/><polygon points="48.5,251.9 48.8,252.9 46.1,252.4"/><polygon points="57.4,263.5 60.2,263.4 58.2,265.4"/><polygon points="91.2,268.4 91.6,269.5 89.3,270.5 88.6,269.1"/><polygon points="53.3,251.1 55.9,251.4 54.5,252.9"/><polygon points="75.7,273.3 75.9,272.6 77.8,272.1 77.8,273.4"/><polygon points="81.1,282.3 80.2,282.6 79.3,282.0 79.2,281.1 80.7,281.1"/><polygon points="45.5,249.0 44.7,249.9 42.7,249.7 43.5,248.9"/><polygon points="52.2,258.6 52.6,259.1 52.1,259.8 50.9,259.5"/><polygon points="24.6,255.7 24.8,257.1 23.5,257.9 22.6,257.2 23.1,256.4"/></g>
<g fill="#3e3c12"><polygon points="86.8,277.0 84.9,275.3 87.5,274.5 87.2,276.1"/><polygon points="75.9,281.9 74.5,281.3 75.8,279.6 77.4,280.9"/><polygon points="78.7,259.6 78.6,260.3 77.6,260.3 77.3,259.1"/><polygon points="26.6,263.0 26.5,263.7 24.0,263.5 25.1,262.8"/><polygon points="71.7,250.4 71.2,251.0 70.6,251.0 69.9,250.6 71.2,250.1"/><polygon points="36.5,266.7 35.8,266.0 37.9,265.2 38.3,266.6"/><polygon points="72.2,258.9 73.5,258.3 74.6,259.2 74.4,259.8"/><polygon points="62.3,276.7 63.0,276.0 63.4,276.5 63.7,277.4 62.9,277.3"/><polygon points="58.3,267.6 60.1,267.6 60.7,267.8 59.9,269.0 58.9,268.9"/><polygon points="91.8,278.6 91.0,279.2 89.8,279.0 90.0,278.3 91.2,277.9"/><polygon points="70.7,264.4 73.1,263.9 72.5,265.0"/><polygon points="33.6,264.0 35.1,263.4 36.9,264.0 35.2,265.6 33.4,265.3"/><polygon points="35.5,254.3 33.5,253.0 36.8,252.7"/><polygon points="86.7,270.5 87.9,270.0 88.7,270.6 88.0,271.0"/><polygon points="46.4,253.7 47.0,252.2 48.3,252.6 48.4,254.0"/><polygon points="54.5,267.3 51.5,267.0 53.4,265.7 55.2,266.6"/><polygon points="39.4,253.8 37.9,254.1 37.6,253.2 38.0,252.7 40.4,253.7"/><polygon points="77.2,264.1 76.5,263.6 76.6,263.1 77.4,263.2 78.1,263.7"/><polygon points="16.0,258.8 18.4,258.0 18.7,259.0"/><polygon points="83.2,261.9 82.2,262.3 81.1,262.1 81.4,261.3 82.2,261.6"/><polygon points="70.9,257.7 71.1,259.6 69.2,259.2 69.1,258.4"/><polygon points="25.2,256.4 28.2,255.9 28.4,256.9"/><polygon points="68.2,264.2 69.1,263.6 70.3,264.8 69.6,265.7 67.5,265.1"/><polygon points="78.2,267.1 80.8,268.0 78.5,269.3"/><polygon points="58.7,257.5 58.3,258.4 57.0,258.4 57.0,257.6"/><polygon points="48.2,265.7 47.4,267.4 45.5,265.9 46.2,265.3"/><polygon points="54.6,261.7 55.1,261.0 56.7,260.7 56.7,262.0"/><polygon points="73.6,281.1 75.4,281.4 76.0,282.5 73.9,282.0"/><polygon points="35.0,252.8 35.1,253.7 33.9,253.9 32.9,253.0 34.2,252.6"/><polygon points="84.4,259.5 85.4,261.0 84.0,262.0 82.7,261.5 82.9,260.0"/><polygon points="13.0,261.6 12.1,260.7 13.1,260.4 14.3,260.9"/><polygon points="54.2,277.8 54.8,276.9 56.5,276.9 55.7,278.3"/><polygon points="64.7,252.7 65.4,253.6 63.1,253.3 62.8,252.4"/><polygon points="44.9,251.4 46.5,251.8 46.1,253.5 43.8,252.7"/><polygon points="78.3,270.5 78.4,271.7 76.4,271.9 76.7,270.7"/><polygon points="87.3,272.0 85.7,271.9 84.9,270.5 87.7,270.7"/><polygon points="89.4,257.5 88.6,258.5 87.1,257.7 86.9,257.3 88.9,257.1"/><polygon points="85.9,282.3 87.1,280.4 89.5,281.4 88.4,282.4"/><polygon points="17.9,258.9 17.5,258.3 19.9,257.7 20.8,258.3"/><polygon points="50.7,257.5 51.7,258.4 50.3,258.9 49.4,258.0"/><polygon points="21.7,261.4 20.9,260.5 22.4,260.6 22.9,261.2"/><polygon points="21.1,265.2 19.1,263.8 21.0,263.3 22.6,263.6"/><polygon points="74.1,257.6 74.8,256.5 76.5,257.1 75.9,258.4 74.4,257.8"/><polygon points="61.1,272.4 63.1,271.1 63.7,272.5"/><polygon points="22.1,257.9 24.8,258.1 25.4,258.7 22.9,260.3 21.8,259.5"/></g>
<g stroke="#3c3a12" stroke-width="0.25" stroke-opacity="0.6" stroke-linejoin="round">
<g fill="#cdc648"><polygon points="28.9,257.9 28.1,255.3 30.9,253.8 32.3,256.4"/><polygon points="69.9,259.0 70.2,261.4 66.3,261.7 66.3,259.3"/><polygon points="74.2,262.9 77.0,267.3 70.2,266.0"/><polygon points="78.0,271.3 79.7,268.4 83.0,269.3"/><polygon points="26.6,268.3 32.0,267.9 34.1,271.4 30.4,272.9"/><polygon points="35.9,251.1 34.4,255.9 30.3,253.8 30.0,250.7"/><polygon points="61.5,247.7 63.9,251.9 60.0,253.7 58.0,249.6"/></g>
<g fill="#c0b83c"><polygon points="78.6,275.5 78.4,279.2 75.0,279.0 74.8,275.4"/><polygon points="81.3,258.6 86.0,261.6 83.4,263.8 78.8,262.4 79.5,258.4"/><polygon points="37.2,270.5 34.7,269.1 35.3,264.4 38.7,264.9 41.4,267.6"/><polygon points="65.4,259.4 69.0,262.3 64.1,261.5"/><polygon points="82.2,278.2 85.5,280.1 82.7,282.0 79.9,279.9"/><polygon points="73.6,280.9 78.1,280.4 77.5,282.6 76.4,284.6 72.1,283.1"/><polygon points="74.4,256.0 76.2,259.2 72.9,260.3 71.1,259.3"/><polygon points="87.1,272.8 82.6,273.3 85.8,270.5"/><polygon points="37.3,246.9 39.0,249.5 35.2,250.0"/><polygon points="89.5,269.5 91.9,266.7 93.7,270.5"/></g>
<g fill="#d8d25c"><polygon points="51.5,266.5 52.0,269.8 46.4,270.4 47.1,265.8"/><polygon points="61.7,255.5 56.4,252.5 63.2,250.6"/><polygon points="72.3,254.6 76.5,254.2 77.3,257.2 73.0,256.4"/><polygon points="29.8,249.0 31.6,250.5 29.0,252.1 26.8,251.1 27.4,249.7"/><polygon points="51.0,247.6 52.3,250.4 48.4,251.7 48.4,248.1"/><polygon points="36.1,254.6 39.8,255.5 38.2,258.4 34.4,256.3"/><polygon points="93.3,278.9 90.9,280.6 88.7,278.1 89.7,276.1"/><polygon points="51.1,268.9 52.5,267.0 58.6,269.4 55.0,271.5"/><polygon points="21.0,270.6 19.9,272.3 16.4,270.4 19.7,269.0"/></g>
<g fill="#b5ad34"><polygon points="13.4,262.7 19.1,263.9 17.0,266.7 13.1,265.3"/><polygon points="34.5,256.0 35.4,254.4 37.3,254.8 37.8,256.5 37.1,256.9"/><polygon points="40.8,252.6 43.3,255.5 36.7,258.8"/><polygon points="41.6,263.6 43.1,260.2 48.1,263.1 46.1,266.0"/></g>
<g fill="#c8c042"><polygon points="51.5,252.4 48.7,253.5 45.8,254.7 43.8,250.8 48.1,248.6"/><polygon points="52.2,257.2 54.8,255.8 59.2,256.5 58.0,258.9"/><polygon points="13.8,264.1 13.2,259.4 17.9,259.1 16.6,262.6"/><polygon points="63.0,253.9 60.3,255.4 60.2,252.6"/><polygon points="47.1,248.8 45.9,251.3 41.0,251.0 41.6,248.6"/><polygon points="85.8,264.1 81.4,264.3 80.2,262.4 84.5,260.3 88.1,261.7"/><polygon points="71.7,268.3 66.8,271.2 66.7,266.6"/><polygon points="86.4,266.9 85.8,268.5 83.3,268.8 82.7,267.0"/><polygon points="65.7,273.3 64.1,267.7 69.9,267.3 71.7,272.7"/></g>
<g fill="#dfd96a"><polygon points="35.8,260.0 41.8,262.0 39.6,264.4"/><polygon points="82.2,277.4 81.8,276.6 84.3,274.4 85.3,276.1 85.3,277.7"/><polygon points="83.5,263.6 80.5,261.2 83.1,260.9 84.8,262.3"/><polygon points="22.9,263.6 24.6,262.0 26.3,263.9"/><polygon points="79.2,284.2 75.9,283.1 78.6,282.0"/><polygon points="48.3,266.6 50.6,266.9 49.6,269.7 46.7,269.6"/><polygon points="49.6,249.3 51.9,248.6 55.9,251.9 52.0,251.9"/><polygon points="66.5,259.8 61.1,259.5 62.4,257.0 65.2,256.8"/><polygon points="76.2,266.0 72.2,267.8 74.3,264.8"/></g>
</g>
<g fill="#4e4c18"><polygon points="52.5,271.4 52.6,269.9 54.1,269.8 55.0,271.0"/><polygon points="41.0,253.7 41.2,254.7 39.6,254.7 38.9,254.3 38.8,253.6"/><polygon points="81.9,258.6 82.4,256.9 83.3,258.1"/><polygon points="50.8,271.3 48.7,271.4 48.8,269.8"/><polygon points="24.5,269.0 23.8,268.8 24.8,267.8 25.6,268.4"/><polygon points="59.7,259.6 60.6,259.8 61.9,260.9 59.9,261.4 58.4,261.4"/><polygon points="10.2,269.6 12.1,268.8 11.5,269.8"/><polygon points="42.1,266.7 43.2,267.1 41.9,267.7 40.8,267.7 41.8,266.7"/><polygon points="51.4,267.0 50.0,268.0 49.5,267.1"/><polygon points="81.9,281.6 81.1,280.7 82.5,280.1 84.4,280.4"/><polygon points="72.4,275.0 73.4,273.9 75.0,274.7 74.2,275.3"/><polygon points="15.7,262.6 17.0,263.0 16.7,263.8 15.5,263.4"/><polygon points="34.8,268.4 34.4,267.1 36.5,267.9"/><polygon points="47.3,263.2 47.6,264.8 45.3,264.0"/><polygon points="29.2,263.0 26.9,263.3 27.1,262.0 28.6,261.8"/><polygon points="12.2,268.6 11.1,267.7 11.9,267.1 13.8,267.8"/><polygon points="33.7,268.6 32.6,267.8 35.3,267.2"/><polygon points="63.5,277.2 65.4,277.1 65.3,278.1 64.0,278.8 62.9,277.4"/><polygon points="90.7,268.2 89.6,269.8 86.9,268.7 88.4,267.9 89.7,267.4"/><polygon points="52.3,256.6 50.6,256.8 50.4,255.0 52.0,255.4"/><polygon points="35.4,263.8 36.7,265.1 33.4,265.3 32.4,264.4"/></g>
<g fill="#6c6920"><polygon points="72.3,253.8 73.4,253.0 75.0,252.7 75.2,254.1"/><polygon points="57.9,273.2 57.2,272.2 59.8,272.3 60.4,273.5"/><polygon points="47.4,255.6 45.5,254.2 47.5,254.0 48.3,254.5"/><polygon points="73.9,264.2 75.4,264.2 76.4,264.4 76.6,265.9 73.9,265.4"/><polygon points="24.5,253.4 22.9,253.3 23.6,252.8 24.7,253.2"/><polygon points="70.5,281.5 69.5,282.1 67.4,281.8 67.5,281.3 69.0,280.8"/><polygon points="66.3,273.4 65.2,273.8 62.8,274.0 63.3,272.9 64.7,272.7"/><polygon points="37.5,270.9 38.2,270.0 39.3,270.4"/><polygon points="64.7,255.7 66.1,256.3 66.0,256.8 64.3,256.4"/><polygon points="19.7,266.5 18.3,266.0 19.7,264.4 21.4,266.2"/><polygon points="67.8,271.4 68.7,270.2 70.4,271.5"/><polygon points="87.7,277.9 85.8,278.0 84.7,276.6 87.4,275.7 88.3,277.0"/><polygon points="88.6,270.0 87.9,271.5 86.5,271.2 87.2,269.3"/><polygon points="62.5,278.4 62.2,277.6 63.8,278.0"/><polygon points="60.5,252.2 62.3,251.9 62.3,253.4 60.3,253.4"/><polygon points="21.5,265.1 20.7,263.5 21.6,263.4 24.4,264.4 24.1,264.9"/><polygon points="66.7,268.8 68.2,269.0 67.5,269.7 66.4,269.3"/><polygon points="25.5,255.3 23.9,254.3 24.9,253.6 25.9,254.5"/></g>
<g fill="#858028"><polygon points="79.8,277.9 81.3,277.3 81.9,278.2 81.2,278.7 80.0,278.8"/><polygon points="44.0,250.8 43.0,251.6 41.0,251.2 41.9,250.0"/><polygon points="62.7,269.9 61.5,269.4 63.4,268.9 63.9,269.5"/><polygon points="88.8,259.0 87.5,259.0 88.7,258.1"/><polygon points="89.2,274.6 88.1,273.5 88.5,272.2 90.8,273.2 90.6,274.4"/><polygon points="56.5,261.3 55.2,260.0 55.9,259.3 57.7,260.7"/><polygon points="36.3,269.8 37.3,270.2 36.2,270.7 35.3,270.0"/><polygon points="70.1,261.6 69.8,263.1 68.4,263.7 67.1,262.2"/><polygon points="21.3,259.4 20.4,259.0 20.8,258.5 22.1,258.3 23.4,259.0"/><polygon points="72.7,251.2 73.4,250.5 74.5,250.8 74.2,251.6"/><polygon points="70.8,259.0 70.9,257.9 72.6,258.7 71.3,259.7"/><polygon points="42.5,261.3 41.6,262.4 40.9,261.4"/><polygon points="33.4,261.2 32.3,261.4 31.6,260.4 33.0,259.9 34.6,260.6"/><polygon points="89.3,261.0 88.5,260.2 89.2,259.3 90.5,259.8"/><polygon points="39.8,251.9 41.1,252.6 40.6,253.5 40.1,254.0 38.7,253.1"/><polygon points="65.9,272.4 65.7,273.9 63.9,273.7 63.5,273.0 64.7,272.2"/><polygon points="71.1,259.1 70.7,260.0 69.1,259.7 70.4,258.6"/><polygon points="45.1,247.6 46.5,247.1 48.1,247.5 46.1,248.7"/><polygon points="74.3,280.5 76.2,280.9 75.4,281.7"/><polygon points="17.0,265.3 17.0,264.9 18.5,265.0 19.0,265.3 18.0,266.0"/><polygon points="30.8,259.6 32.1,258.2 33.8,258.9 32.8,259.7"/><polygon points="73.9,273.9 73.5,272.7 76.1,272.6 76.4,273.2 75.9,274.4"/><polygon points="48.6,262.9 50.1,263.8 50.5,264.4 47.4,264.2 46.9,262.9"/><polygon points="30.3,260.4 29.9,261.3 28.9,261.1 28.6,260.5"/><polygon points="59.2,276.3 57.4,275.0 59.4,274.5 60.6,275.2"/></g>
<g fill="#3e3c12"><polygon points="51.0,255.4 49.5,256.5 48.4,255.4 49.2,254.5 50.1,255.0"/><polygon points="48.9,272.0 48.2,271.5 48.7,270.9 49.8,271.3"/><polygon points="63.9,257.4 64.9,258.3 64.9,259.2 64.1,259.3 62.9,258.0"/><polygon points="56.2,264.8 55.7,265.6 54.2,265.5 54.8,264.8 55.6,264.5"/><polygon points="73.5,265.9 71.3,266.0 70.4,265.3 73.0,264.8"/><polygon points="54.8,252.9 52.9,252.0 55.5,250.7 56.5,251.3"/><polygon points="77.9,279.2 77.7,280.4 77.0,280.9 75.6,279.2 77.2,278.7"/><polygon points="87.4,261.3 88.6,261.0 89.1,262.0 88.5,262.2"/><polygon points="55.7,266.7 56.3,266.1 58.1,266.6 56.8,267.5"/><polygon points="25.2,259.0 24.0,258.1 24.9,257.7 25.7,257.9"/><polygon points="66.8,273.5 67.7,274.4 66.2,274.9 63.9,274.7 64.2,273.6"/><polygon points="58.1,262.0 60.5,262.6 58.9,264.0 56.4,263.2"/><polygon points="47.4,249.2 44.5,249.2 46.6,248.0"/><polygon points="48.0,257.2 47.1,256.4 47.9,255.4 49.8,256.3"/><polygon points="42.4,270.5 43.8,271.4 42.2,271.8 41.5,270.6"/><polygon points="79.3,269.2 79.7,270.3 77.7,271.0 77.0,269.0"/><polygon points="52.0,268.2 50.6,267.8 50.9,267.3 51.4,267.0 52.5,267.3"/></g>
<text x="51" y="291.0" font-family='"Liberation Serif", serif' font-size="8.2" font-weight="bold" text-anchor="middle" fill="#111" >Ti<tspan font-size="4.8" dy="2.5">3</tspan><tspan dy="-2.5" font-size="1">&#8203;</tspan>C<tspan font-size="4.8" dy="2.5">2</tspan><tspan dy="-2.5" font-size="1">&#8203;</tspan>@CoO</text>
<text x="336.8" y="165.4" font-family='"Liberation Serif", serif' font-size="13" font-weight="bold" text-anchor="start" fill="#000" >(e)</text>
<rect x="386" y="160.4" width="154.20000000000005" height="120.1" fill="none" stroke="#b4b4b4" stroke-width="0.9"/>
<text x="382.4" y="266.1" font-family='"Liberation Sans", sans-serif' font-size="6.0" font-weight="bold" text-anchor="end" fill="#111" >0.5</text>
<text x="382.4" y="240.1" font-family='"Liberation Sans", sans-serif' font-size="6.0" font-weight="bold" text-anchor="end" fill="#111" >1</text>
<text x="382.4" y="214.1" font-family='"Liberation Sans", sans-serif' font-size="6.0" font-weight="bold" text-anchor="end" fill="#111" >1.5</text>
<text x="382.4" y="188.1" font-family='"Liberation Sans", sans-serif' font-size="6.0" font-weight="bold" text-anchor="end" fill="#111" >2</text>
<text x="382.4" y="162.1" font-family='"Liberation Sans", sans-serif' font-size="6.0" font-weight="bold" text-anchor="end" fill="#111" >2.5</text>
<text x="386.4" y="288.8" font-family='"Liberation Sans", sans-serif' font-size="6.0" font-weight="bold" text-anchor="middle" fill="#111" >0</text>
<text x="414.2" y="288.8" font-family='"Liberation Sans", sans-serif' font-size="6.0" font-weight="bold" text-anchor="middle" fill="#111" >200</text>
<text x="442.0" y="288.8" font-family='"Liberation Sans", sans-serif' font-size="6.0" font-weight="bold" text-anchor="middle" fill="#111" >400</text>
<text x="469.79999999999995" y="288.8" font-family='"Liberation Sans", sans-serif' font-size="6.0" font-weight="bold" text-anchor="middle" fill="#111" >600</text>
<text x="497.6" y="288.8" font-family='"Liberation Sans", sans-serif' font-size="6.0" font-weight="bold" text-anchor="middle" fill="#111" >800</text>
<text x="525.4" y="288.8" font-family='"Liberation Sans", sans-serif' font-size="6.0" font-weight="bold" text-anchor="middle" fill="#111" >1000</text>
<path d="M386,264.0 h2.4 M540.2,264.0 h-2.4 M386,238.0 h2.4 M540.2,238.0 h-2.4 M386,212.0 h2.4 M540.2,212.0 h-2.4 M386,186.0 h2.4 M540.2,186.0 h-2.4 M414.2,280.5 v-2.4 M414.2,160.4 v2.4 M442.0,280.5 v-2.4 M442.0,160.4 v2.4 M469.8,280.5 v-2.4 M469.8,160.4 v2.4 M497.6,280.5 v-2.4 M497.6,160.4 v2.4 M525.4,280.5 v-2.4 M525.4,160.4 v2.4" stroke="#b4b4b4" stroke-width="0.8" fill="none"/>
<text x="461" y="299.6" font-family='"Liberation Sans", sans-serif' font-size="7.7" font-weight="bold" text-anchor="middle" fill="#111" >Capacity / mAh g<tspan font-size="4.8" dy="-2.8">-1</tspan></text>
<text x="0" y="0" font-family='"Liberation Sans", sans-serif' font-size="7.75" font-weight="bold" text-anchor="middle" fill="#111" transform="translate(368.2,219.6) rotate(-90)">Potential / V</text>
<g clip-path="url(#cpE)">
<path d="M386.8,182.5 C386.8,187.9 386.7,207.3 386.9,215.0 C387.1,222.7 387.4,225.8 387.8,228.4 C388.2,231.0 388.8,230.2 389.5,230.8 C390.2,231.4 388.6,231.4 392.0,231.8 C395.4,232.2 403.7,232.9 410.0,233.2 C416.3,233.5 422.6,233.4 430.0,233.8 C437.4,234.2 448.4,235.0 454.7,235.4 C461.0,235.8 464.8,235.9 468.0,236.1 C471.2,236.3 472.3,236.2 474.0,236.4 C475.7,236.6 476.9,236.8 478.0,237.3 C479.1,237.8 479.8,238.6 480.5,239.5 C481.2,240.4 481.8,241.3 482.3,242.5 C482.9,243.7 483.3,244.8 483.8,246.8 C484.3,248.8 484.7,252.4 485.1,254.6 C485.6,256.8 485.9,257.9 486.5,260.0 C487.1,262.1 488.0,265.1 488.5,267.0 C489.0,268.9 489.2,270.8 489.4,271.5" fill="none" stroke="#ee1c24" stroke-width="1.7" stroke-linecap="round" stroke-linejoin="round" />
<path d="M386.7,270.0 L386.8,251.0" fill="none" stroke="#ee1c24" stroke-width="1.5" stroke-linecap="round" stroke-linejoin="round" />
<path d="M387.0,240.0 C387.1,235.3 387.1,217.6 387.4,212.0 C387.7,206.4 386.5,207.7 388.6,206.6 C390.7,205.5 395.7,205.7 400.0,205.2 C404.3,204.7 409.5,204.0 414.5,203.6 C419.5,203.2 424.9,203.3 430.0,202.8 C435.1,202.3 440.0,201.7 445.0,200.4 C450.0,199.1 454.9,197.3 459.8,195.2 C464.8,193.1 470.2,190.2 474.7,187.8 C479.2,185.4 484.6,182.1 486.6,181.0" fill="none" stroke="#ee1c24" stroke-width="1.7" stroke-linecap="round" stroke-linejoin="round" />
<path d="M387.3,190.0 C387.4,196.7 387.6,219.2 387.8,230.0 C388.0,240.8 388.3,248.2 388.6,255.0 C388.9,261.8 389.4,268.0 389.6,270.6" fill="none" stroke="#2a62e6" stroke-width="2.0" stroke-linecap="round" stroke-linejoin="round" />
<path d="M386.8,200.0 C386.9,199.0 387.0,195.8 387.2,194.0 C387.4,192.2 387.6,190.2 388.0,189.0 C388.4,187.8 389.0,187.2 389.7,186.9 C390.4,186.6 391.1,186.7 392.0,187.0 C392.9,187.3 393.7,188.5 395.0,189.0 C396.3,189.5 397.1,190.1 399.6,190.2 C402.1,190.2 405.9,189.8 410.0,189.3 C414.1,188.8 421.1,187.9 424.4,187.2 C427.7,186.5 428.0,186.1 430.0,185.2 C432.0,184.2 435.4,182.1 436.5,181.5" fill="none" stroke="#2a62e6" stroke-width="1.8" stroke-linecap="round" stroke-linejoin="round" />
</g>
<text x="447.3" y="176.6" font-family='"Liberation Sans", sans-serif' font-size="6.9" font-weight="bold" text-anchor="middle" fill="#2a62e6" >w/o Cu</text>
<text x="498.6" y="177.8" font-family='"Liberation Sans", sans-serif' font-size="6.9" font-weight="bold" text-anchor="middle" fill="#ee1c24" >w/ Cu</text>
<path d="M444.6,260.3 v7 a25.8,3.3 0 0 0 51.6,0 v-7 Z" fill="#e8782e"/>
<ellipse cx="470.4" cy="260.3" rx="25.8" ry="3.3" fill="url(#cuTop)"/>
<path d="M420.6,215.6 L426.4,222.6 L434.4,223.4 L438.6,229.5 L446.4,229.6 L451.1,238.2 L459.5,238.8 L463.3,246.6" fill="none" stroke="#d8b02c" stroke-width="0.7"/>
<circle cx="420.6" cy="215.6" r="1.5" fill="#e6b820"/>
<circle cx="426.4" cy="222.6" r="1.5" fill="#e6b820"/>
<circle cx="434.4" cy="223.4" r="1.5" fill="#e6b820"/>
<circle cx="438.6" cy="229.5" r="1.5" fill="#e6b820"/>
<circle cx="446.4" cy="229.6" r="1.5" fill="#e6b820"/>
<circle cx="451.1" cy="238.2" r="1.5" fill="#e6b820"/>
<circle cx="459.5" cy="238.8" r="1.5" fill="#e6b820"/>
<circle cx="463.3" cy="246.6" r="1.5" fill="#e6b820"/>
<linearGradient id="arr" x1="0" y1="0" x2="1" y2="0"><stop offset="0" stop-color="#2a4f9e"/><stop offset="0.5" stop-color="#2f5fba"/><stop offset="1" stop-color="#4b82da"/></linearGradient>
<path d="M450.5,243.6 C450.7,244.8 450.7,248.4 451.8,250.7 C452.9,253.0 454.8,255.5 457.0,257.2 C459.2,258.9 462.2,260.3 464.8,261.1 C467.4,261.9 470.1,262.2 472.7,261.9 C475.3,261.6 478.3,260.6 480.5,259.2 C482.7,257.8 484.4,255.1 485.8,253.3 C487.2,251.6 488.5,249.5 489.0,248.7 L494.4,247.6 L489.5,243.4 L479.2,248.1 L483.8,250  L483.8,250.0 C483.5,250.8 482.8,253.1 481.8,254.6 C480.8,256.1 479.4,258.0 477.9,259.0 C476.4,260.0 474.4,260.6 472.7,260.7 C471.0,260.8 469.2,260.4 467.5,259.6 C465.8,258.8 463.7,257.6 462.2,255.9 C460.7,254.2 459.2,251.5 458.3,249.4 C457.4,247.3 457.2,244.6 457.0,243.6 Z" fill="url(#arr)"/>
<text x="469.2" y="271.1" font-family='"Liberation Sans", sans-serif' font-size="8.9" font-weight="bold" text-anchor="middle" fill="#e81c24" >Cu</text>
<text x="440.8" y="224.2" font-family='"Liberation Sans", sans-serif' font-size="10.2" font-weight="bold" text-anchor="start" fill="#f2a122" >S<tspan font-size="6" dy="1.6">8</tspan><tspan font-size="6" dy="-6.4">2-</tspan></text>
<circle cx="488.9" cy="243.3" r="1.2" fill="#e87a24"/>
<circle cx="511.8" cy="216.1" r="0.9" fill="#e8d23c"/>
<circle cx="497.2" cy="214.4" r="1.5" fill="#d85a1a"/>
<circle cx="496.7" cy="231.3" r="1.0" fill="#e0641c"/>
<circle cx="501.3" cy="237.0" r="0.9" fill="#f0e060"/>
<circle cx="500.8" cy="241.7" r="1.3" fill="#d4541a"/>
<circle cx="496.5" cy="239.2" r="1.0" fill="#d4541a"/>
<circle cx="494.2" cy="234.9" r="1.2" fill="#d85a1a"/>
<circle cx="505.9" cy="217.9" r="1.0" fill="#d4541a"/>
<circle cx="501.5" cy="219.5" r="1.5" fill="#d85a1a"/>
<circle cx="491.7" cy="224.6" r="1.2" fill="#e0641c"/>
<circle cx="485.6" cy="232.1" r="1.3" fill="#c8481c"/>
<circle cx="523.6" cy="239.6" r="0.9" fill="#e8d23c"/>
<circle cx="502.5" cy="215.7" r="0.9" fill="#e8d23c"/>
<circle cx="489.7" cy="213.9" r="1.2" fill="#c8481c"/>
<circle cx="520.8" cy="218.9" r="1.0" fill="#e0641c"/>
<circle cx="524.8" cy="219.8" r="1.3" fill="#e87a24"/>
<circle cx="505.3" cy="241.6" r="1.5" fill="#e87a24"/>
<circle cx="505.1" cy="226.1" r="1.0" fill="#d4541a"/>
<circle cx="491.9" cy="216.4" r="1.0" fill="#d4541a"/>
<circle cx="521.8" cy="224.1" r="1.3" fill="#d4541a"/>
<circle cx="494.9" cy="243.4" r="1.5" fill="#e0641c"/>
<circle cx="488.1" cy="240.6" r="1.2" fill="#e0641c"/>
<circle cx="486.5" cy="243.6" r="1.0" fill="#d85a1a"/>
<circle cx="482.0" cy="232.3" r="1.5" fill="#d85a1a"/>
<circle cx="515.9" cy="225.3" r="1.5" fill="#d4541a"/>
<circle cx="509.1" cy="235.8" r="1.5" fill="#d4541a"/>
<circle cx="505.1" cy="238.8" r="1.2" fill="#d85a1a"/>
<circle cx="480.4" cy="215.0" r="1.0" fill="#d4541a"/>
<circle cx="509.5" cy="239.2" r="1.2" fill="#d4541a"/>
<circle cx="502.1" cy="223.5" r="1.2" fill="#e0641c"/>
<circle cx="478.3" cy="232.5" r="1.3" fill="#d4541a"/>
<circle cx="522.5" cy="243.9" r="0.9" fill="#e8d23c"/>
<circle cx="481.8" cy="226.5" r="1.3" fill="#c8481c"/>
<circle cx="502.8" cy="232.9" r="1.3" fill="#c8481c"/>
<circle cx="509.3" cy="216.9" r="1.3" fill="#d85a1a"/>
<circle cx="497.1" cy="225.4" r="1.3" fill="#c8481c"/>
<circle cx="510.3" cy="219.6" r="1.3" fill="#d4541a"/>
<circle cx="485.8" cy="228.9" r="0.9" fill="#f0e060"/>
<circle cx="517.6" cy="244.1" r="0.9" fill="#f0e060"/>
<circle cx="491.3" cy="241.0" r="1.2" fill="#e0641c"/>
<circle cx="490.0" cy="238.7" r="0.9" fill="#e8d23c"/>
<circle cx="483.4" cy="216.1" r="1.5" fill="#e87a24"/>
<circle cx="509.4" cy="224.9" r="1.2" fill="#d4541a"/>
<circle cx="493.3" cy="222.7" r="1.3" fill="#c8481c"/>
<circle cx="498.9" cy="218.4" r="1.2" fill="#e0641c"/>
<circle cx="498.7" cy="237.7" r="1.2" fill="#d4541a"/>
<circle cx="494.2" cy="219.7" r="1.0" fill="#e0641c"/>
<circle cx="504.7" cy="236.3" r="1.3" fill="#e87a24"/>
<circle cx="484.6" cy="236.7" r="0.9" fill="#e8d23c"/>
<circle cx="488.5" cy="218.9" r="1.5" fill="#e87a24"/>
<circle cx="506.1" cy="232.5" r="1.5" fill="#e0641c"/>
<circle cx="510.6" cy="228.3" r="1.3" fill="#e87a24"/>
<circle cx="491.9" cy="220.2" r="1.2" fill="#e0641c"/>
<circle cx="479.7" cy="225.0" r="0.9" fill="#f0e060"/>
<circle cx="514.9" cy="239.6" r="1.3" fill="#d4541a"/>
<circle cx="525.3" cy="224.6" r="1.0" fill="#c8481c"/>
<circle cx="489.3" cy="224.8" r="1.3" fill="#c8481c"/>
<circle cx="513.3" cy="242.3" r="1.0" fill="#c8481c"/>
<circle cx="479.6" cy="220.7" r="1.5" fill="#c8481c"/>
<circle cx="499.5" cy="233.0" r="1.5" fill="#d85a1a"/>
<circle cx="494.4" cy="231.4" r="1.3" fill="#d4541a"/>
<circle cx="497.2" cy="242.9" r="0.9" fill="#e8d23c"/>
<circle cx="478.7" cy="227.2" r="0.9" fill="#e8d23c"/>
<circle cx="493.8" cy="240.0" r="1.2" fill="#e0641c"/>
<circle cx="521.7" cy="213.5" r="1.2" fill="#d4541a"/>
<circle cx="501.1" cy="244.1" r="1.0" fill="#e0641c"/>
<circle cx="512.4" cy="223.2" r="1.5" fill="#d4541a"/>
<circle cx="507.6" cy="228.0" r="0.9" fill="#e8d23c"/>
<circle cx="487.6" cy="234.8" r="0.9" fill="#f0e060"/>
<circle cx="484.8" cy="220.8" r="1.0" fill="#e0641c"/>
<circle cx="514.9" cy="217.2" r="1.5" fill="#e0641c"/>
<circle cx="519.3" cy="241.8" r="1.0" fill="#e0641c"/>
<circle cx="525.9" cy="222.1" r="1.2" fill="#e0641c"/>
<circle cx="507.1" cy="243.4" r="0.9" fill="#f0e060"/>
<circle cx="500.9" cy="228.0" r="0.9" fill="#e8d23c"/>
<circle cx="485.7" cy="217.1" r="1.3" fill="#e87a24"/>
<circle cx="507.1" cy="222.0" r="0.9" fill="#e8d23c"/>
<circle cx="509.3" cy="233.0" r="0.9" fill="#f0e060"/>
<circle cx="514.9" cy="214.4" r="1.3" fill="#c8481c"/>
<circle cx="518.6" cy="214.4" r="1.5" fill="#e87a24"/>
<circle cx="499.5" cy="223.8" r="1.0" fill="#e0641c"/>
<circle cx="491.3" cy="230.9" r="1.2" fill="#e87a24"/>
<circle cx="525.0" cy="241.7" r="1.0" fill="#d4541a"/>
<circle cx="495.2" cy="216.1" r="0.9" fill="#e8d23c"/>
<text x="513.4" y="235.7" font-family='"Liberation Sans", sans-serif' font-size="9.8" font-weight="bold" fill="#c4682a" stroke="#fff" stroke-width="0.35" paint-order="stroke">Cu<tspan font-size="6" dy="1.6">2</tspan><tspan dy="-1.6">S</tspan></text>
<path d="M521,214.6 l1.6,1.4 l2.6,0.4" stroke="#999" stroke-width="0.5" fill="none"/>
</svg>
</body></html>
